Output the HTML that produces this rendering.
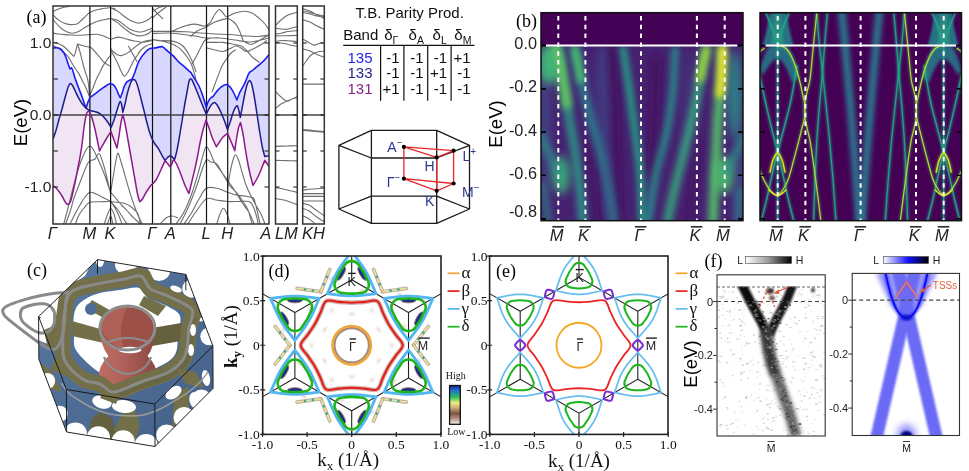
<!DOCTYPE html>
<html><head><meta charset="utf-8"><title>Figure</title><style>html,body{margin:0;padding:0;background:#fff;width:969px;height:471px;overflow:hidden}svg{display:block}</style></head>
<body>
<svg width="969" height="471" viewBox="0 0 969 471">
<rect width="969" height="471" fill="#fff"/>
<defs><clipPath id="cpa"><rect x="53" y="6" width="216" height="218"/></clipPath><clipPath id="cplm"><rect x="275.5" y="6" width="21.8" height="218"/></clipPath><clipPath id="cpkh"><rect x="302.7" y="6" width="21.6" height="218"/></clipPath></defs>
<g clip-path="url(#cpa)">
<path d="M53,48 L53.32,48 L53.73,47.97 L54.21,47.93 L54.76,47.88 L55.35,47.84 L55.97,47.8 L56.6,47.78 L57.24,47.79 L57.86,47.82 L58.46,47.9 L59.01,48.02 L59.5,48.2 L59.95,48.44 L60.39,48.72 L60.81,49.05 L61.22,49.41 L61.62,49.81 L62,50.24 L62.37,50.68 L62.72,51.14 L63.06,51.61 L63.39,52.08 L63.7,52.54 L64,53 L64.28,53.45 L64.53,53.92 L64.77,54.39 L64.99,54.87 L65.19,55.36 L65.38,55.86 L65.57,56.37 L65.75,56.88 L65.93,57.4 L66.11,57.93 L66.3,58.46 L66.5,59 L66.71,59.56 L66.92,60.16 L67.14,60.78 L67.35,61.41 L67.57,62.06 L67.78,62.7 L67.99,63.33 L68.19,63.94 L68.39,64.52 L68.57,65.06 L68.74,65.56 L68.9,66 L69.04,66.39 L69.17,66.75 L69.29,67.08 L69.39,67.39 L69.49,67.66 L69.58,67.9 L69.67,68.12 L69.75,68.3 L69.84,68.47 L69.92,68.6 L70.01,68.71 L70.1,68.8 L70.19,68.84 L70.29,68.82 L70.37,68.74 L70.46,68.63 L70.55,68.49 L70.64,68.34 L70.73,68.18 L70.81,68.04 L70.91,67.91 L71,67.83 L71.1,67.78 L71.2,67.8 L71.3,67.85 L71.41,67.92 L71.51,67.99 L71.61,68.09 L71.72,68.21 L71.83,68.35 L71.94,68.52 L72.06,68.73 L72.18,68.98 L72.31,69.27 L72.45,69.61 L72.6,70 L72.76,70.45 L72.92,70.95 L73.08,71.51 L73.25,72.11 L73.43,72.76 L73.61,73.43 L73.8,74.13 L74,74.85 L74.21,75.59 L74.43,76.33 L74.66,77.07 L74.9,77.8 L75.15,78.54 L75.42,79.3 L75.7,80.08 L76,80.88 L76.3,81.69 L76.61,82.51 L76.92,83.34 L77.24,84.17 L77.56,85.01 L77.87,85.84 L78.19,86.68 L78.5,87.5 L78.81,88.32 L79.12,89.14 L79.44,89.96 L79.76,90.78 L80.07,91.6 L80.39,92.43 L80.71,93.26 L81.03,94.1 L81.35,94.94 L81.67,95.78 L81.99,96.64 L82.3,97.5 L82.62,98.41 L82.97,99.38 L83.32,100.4 L83.68,101.44 L84.04,102.49 L84.39,103.53 L84.73,104.53 L85.04,105.47 L85.34,106.34 L85.6,107.12 L85.82,107.78 L86,108.3 L86,108.3 L86.1,107.99 L86.22,107.59 L86.36,107.12 L86.52,106.59 L86.7,106.01 L86.88,105.41 L87.07,104.79 L87.27,104.17 L87.46,103.57 L87.65,103 L87.83,102.47 L88,102 L88.16,101.58 L88.31,101.17 L88.45,100.79 L88.6,100.41 L88.74,100.06 L88.88,99.72 L89.03,99.39 L89.18,99.07 L89.34,98.77 L89.52,98.47 L89.7,98.18 L89.9,97.9 L90.11,97.64 L90.32,97.4 L90.53,97.18 L90.75,96.98 L90.98,96.79 L91.22,96.6 L91.47,96.41 L91.74,96.22 L92.02,96.02 L92.32,95.8 L92.65,95.56 L93,95.3 L93.38,95.01 L93.79,94.7 L94.23,94.38 L94.69,94.04 L95.17,93.69 L95.66,93.34 L96.15,92.98 L96.66,92.61 L97.16,92.25 L97.65,91.89 L98.13,91.54 L98.6,91.2 L99.06,90.86 L99.52,90.52 L99.97,90.17 L100.43,89.83 L100.88,89.49 L101.34,89.14 L101.79,88.8 L102.24,88.47 L102.68,88.14 L103.13,87.82 L103.56,87.51 L104,87.2 L104.44,86.9 L104.88,86.58 L105.32,86.27 L105.77,85.96 L106.21,85.65 L106.65,85.35 L107.08,85.07 L107.5,84.8 L107.9,84.56 L108.29,84.34 L108.65,84.15 L109,84 L109.32,83.88 L109.62,83.79 L109.9,83.73 L110.17,83.69 L110.42,83.67 L110.66,83.67 L110.89,83.7 L111.11,83.73 L111.33,83.78 L111.55,83.85 L111.77,83.92 L112,84 L112.23,84.09 L112.45,84.19 L112.66,84.31 L112.88,84.44 L113.09,84.59 L113.29,84.75 L113.5,84.92 L113.7,85.11 L113.9,85.31 L114.1,85.53 L114.3,85.76 L114.5,86 L114.7,86.26 L114.9,86.54 L115.1,86.84 L115.29,87.15 L115.49,87.47 L115.68,87.81 L115.87,88.16 L116.06,88.52 L116.25,88.88 L116.44,89.25 L116.62,89.63 L116.8,90 L116.98,90.39 L117.16,90.8 L117.33,91.23 L117.51,91.67 L117.68,92.12 L117.85,92.58 L118.02,93.02 L118.18,93.46 L118.34,93.88 L118.5,94.28 L118.65,94.66 L118.8,95 L118.95,95.32 L119.1,95.63 L119.25,95.92 L119.39,96.2 L119.54,96.46 L119.67,96.71 L119.81,96.94 L119.93,97.16 L120.04,97.35 L120.14,97.52 L120.23,97.67 L120.3,97.8 L120.3,97.8 L120.38,97.6 L120.48,97.36 L120.59,97.09 L120.72,96.79 L120.86,96.45 L121.01,96.09 L121.17,95.7 L121.33,95.29 L121.5,94.87 L121.67,94.42 L121.84,93.97 L122,93.5 L122.16,93 L122.33,92.47 L122.5,91.89 L122.67,91.29 L122.85,90.67 L123.03,90.04 L123.21,89.4 L123.4,88.78 L123.59,88.17 L123.79,87.58 L123.99,87.02 L124.2,86.5 L124.42,86.01 L124.64,85.52 L124.88,85.05 L125.11,84.59 L125.36,84.14 L125.61,83.71 L125.86,83.3 L126.11,82.91 L126.36,82.54 L126.61,82.2 L126.86,81.89 L127.1,81.6 L127.34,81.35 L127.59,81.14 L127.84,80.96 L128.09,80.81 L128.34,80.68 L128.59,80.57 L128.84,80.48 L129.09,80.39 L129.32,80.3 L129.56,80.21 L129.78,80.11 L130,80 L130.21,79.9 L130.4,79.83 L130.59,79.78 L130.76,79.74 L130.94,79.71 L131.11,79.67 L131.28,79.61 L131.45,79.52 L131.62,79.4 L131.81,79.23 L132,79 L132.2,78.7 L132.41,78.34 L132.62,77.95 L132.83,77.51 L133.04,77.03 L133.26,76.51 L133.49,75.96 L133.72,75.37 L133.96,74.75 L134.2,74.1 L134.46,73.43 L134.72,72.73 L135,72 L135.28,71.23 L135.57,70.39 L135.87,69.49 L136.17,68.56 L136.48,67.59 L136.8,66.61 L137.13,65.62 L137.47,64.64 L137.83,63.68 L138.2,62.74 L138.59,61.84 L139,61 L139.43,60.19 L139.9,59.39 L140.38,58.59 L140.89,57.81 L141.41,57.05 L141.94,56.31 L142.47,55.59 L143,54.9 L143.52,54.24 L144.03,53.62 L144.53,53.04 L145,52.5 L145.45,52 L145.89,51.55 L146.32,51.12 L146.74,50.74 L147.15,50.38 L147.56,50.06 L147.97,49.76 L148.37,49.49 L148.77,49.24 L149.18,49.01 L149.59,48.79 L150,48.6 L150.41,48.44 L150.81,48.32 L151.21,48.24 L151.6,48.19 L152,48.16 L152.39,48.14 L152.8,48.14 L153.21,48.14 L153.63,48.13 L154.07,48.11 L154.52,48.07 L155,48 L155.51,47.9 L156.06,47.77 L156.64,47.62 L157.23,47.46 L157.84,47.29 L158.46,47.12 L159.06,46.97 L159.66,46.83 L160.22,46.72 L160.76,46.63 L161.26,46.59 L161.7,46.6 L162.09,46.65 L162.42,46.73 L162.72,46.84 L162.98,46.98 L163.22,47.14 L163.44,47.33 L163.66,47.53 L163.89,47.76 L164.12,48 L164.38,48.25 L164.67,48.52 L165,48.8 L165.37,49.1 L165.77,49.44 L166.2,49.81 L166.64,50.21 L167.1,50.62 L167.57,51.04 L168.04,51.46 L168.5,51.88 L168.95,52.29 L169.39,52.69 L169.81,53.06 L170.2,53.4 L170.56,53.71 L170.9,53.99 L171.23,54.25 L171.54,54.49 L171.84,54.72 L172.13,54.95 L172.42,55.18 L172.72,55.42 L173.02,55.68 L173.33,55.96 L173.66,56.26 L174,56.6 L174.36,56.98 L174.72,57.38 L175.1,57.82 L175.48,58.27 L175.86,58.74 L176.26,59.22 L176.65,59.71 L177.06,60.19 L177.46,60.67 L177.87,61.13 L178.28,61.58 L178.7,62 L179.12,62.4 L179.56,62.79 L180,63.18 L180.45,63.55 L180.91,63.91 L181.36,64.28 L181.82,64.63 L182.27,64.99 L182.72,65.34 L183.16,65.69 L183.58,66.04 L184,66.4 L184.41,66.77 L184.83,67.15 L185.25,67.53 L185.66,67.93 L186.07,68.32 L186.47,68.7 L186.86,69.07 L187.24,69.43 L187.59,69.77 L187.92,70.08 L188.23,70.36 L188.5,70.6 L188.74,70.8 L188.95,70.97 L189.13,71.11 L189.29,71.21 L189.43,71.3 L189.56,71.37 L189.67,71.44 L189.77,71.5 L189.88,71.56 L189.98,71.62 L190.08,71.7 L190.2,71.8 L190.32,71.91 L190.42,72.01 L190.53,72.1 L190.62,72.2 L190.72,72.3 L190.81,72.4 L190.9,72.51 L190.99,72.62 L191.08,72.75 L191.18,72.88 L191.29,73.03 L191.4,73.2 L191.51,73.36 L191.6,73.51 L191.68,73.64 L191.75,73.78 L191.83,73.93 L191.92,74.09 L192.02,74.29 L192.15,74.52 L192.3,74.8 L192.49,75.13 L192.72,75.53 L193,76 L193.34,76.56 L193.73,77.2 L194.18,77.9 L194.67,78.67 L195.18,79.48 L195.71,80.33 L196.25,81.2 L196.79,82.09 L197.31,82.97 L197.81,83.84 L198.28,84.69 L198.7,85.5 L199.08,86.28 L199.44,87.05 L199.78,87.8 L200.11,88.56 L200.42,89.31 L200.72,90.06 L201.01,90.83 L201.3,91.61 L201.59,92.41 L201.89,93.24 L202.19,94.1 L202.5,95 L202.83,95.98 L203.18,97.05 L203.54,98.21 L203.91,99.41 L204.28,100.63 L204.64,101.84 L204.99,103.03 L205.31,104.15 L205.62,105.18 L205.89,106.11 L206.12,106.89 L206.3,107.5 L206.3,107.5 L206.4,107.18 L206.53,106.76 L206.68,106.26 L206.85,105.7 L207.04,105.1 L207.23,104.46 L207.44,103.82 L207.65,103.18 L207.86,102.56 L208.08,101.98 L208.29,101.45 L208.5,101 L208.71,100.6 L208.93,100.22 L209.17,99.87 L209.4,99.54 L209.65,99.23 L209.89,98.94 L210.13,98.68 L210.36,98.43 L210.59,98.19 L210.81,97.98 L211.01,97.78 L211.2,97.6 L211.37,97.45 L211.53,97.33 L211.67,97.25 L211.81,97.2 L211.94,97.16 L212.06,97.13 L212.18,97.11 L212.3,97.08 L212.42,97.04 L212.54,96.99 L212.67,96.91 L212.8,96.8 L212.93,96.67 L213.06,96.52 L213.19,96.37 L213.31,96.2 L213.44,96.03 L213.57,95.84 L213.7,95.65 L213.84,95.44 L213.99,95.22 L214.15,94.99 L214.32,94.75 L214.5,94.5 L214.69,94.23 L214.89,93.95 L215.1,93.65 L215.31,93.33 L215.54,93.01 L215.77,92.68 L216.01,92.33 L216.26,91.99 L216.53,91.64 L216.8,91.29 L217.09,90.94 L217.4,90.6 L217.72,90.25 L218.07,89.88 L218.43,89.49 L218.8,89.1 L219.19,88.71 L219.59,88.31 L219.99,87.93 L220.4,87.56 L220.8,87.2 L221.21,86.87 L221.61,86.57 L222,86.3 L222.39,86.05 L222.79,85.81 L223.19,85.58 L223.59,85.37 L224,85.17 L224.4,85 L224.8,84.85 L225.2,84.73 L225.59,84.64 L225.97,84.59 L226.34,84.57 L226.7,84.6 L227.05,84.67 L227.39,84.79 L227.72,84.94 L228.05,85.13 L228.37,85.35 L228.69,85.6 L229,85.87 L229.3,86.17 L229.61,86.48 L229.91,86.81 L230.2,87.15 L230.5,87.5 L230.79,87.86 L231.08,88.25 L231.36,88.66 L231.64,89.09 L231.92,89.54 L232.19,90 L232.46,90.48 L232.73,90.97 L233,91.47 L233.27,91.97 L233.53,92.48 L233.8,93 L234.08,93.55 L234.36,94.15 L234.66,94.79 L234.96,95.45 L235.26,96.13 L235.56,96.79 L235.84,97.44 L236.1,98.06 L236.35,98.63 L236.57,99.13 L236.75,99.56 L236.9,99.9 L236.9,99.9 L237.05,99.52 L237.22,99.04 L237.42,98.49 L237.65,97.86 L237.9,97.18 L238.17,96.46 L238.45,95.71 L238.75,94.95 L239.05,94.18 L239.37,93.43 L239.68,92.69 L240,92 L240.33,91.33 L240.68,90.66 L241.04,90 L241.42,89.33 L241.81,88.66 L242.21,87.99 L242.6,87.31 L243,86.63 L243.39,85.93 L243.77,85.23 L244.15,84.52 L244.5,83.8 L244.85,83.04 L245.19,82.24 L245.54,81.4 L245.89,80.54 L246.22,79.68 L246.56,78.82 L246.88,77.98 L247.19,77.17 L247.49,76.4 L247.78,75.69 L248.05,75.05 L248.3,74.5 L248.53,74.03 L248.74,73.62 L248.93,73.28 L249.11,72.98 L249.28,72.73 L249.43,72.52 L249.58,72.34 L249.72,72.17 L249.86,72.03 L250,71.89 L250.15,71.75 L250.3,71.6 L250.45,71.47 L250.59,71.36 L250.72,71.29 L250.84,71.24 L250.96,71.2 L251.09,71.17 L251.21,71.15 L251.35,71.11 L251.49,71.07 L251.64,71.01 L251.81,70.92 L252,70.8 L252.2,70.66 L252.4,70.5 L252.62,70.33 L252.84,70.14 L253.07,69.95 L253.31,69.74 L253.56,69.53 L253.82,69.3 L254.09,69.06 L254.38,68.82 L254.68,68.56 L255,68.3 L255.34,68.02 L255.7,67.73 L256.09,67.42 L256.49,67.1 L256.9,66.77 L257.33,66.44 L257.75,66.1 L258.18,65.75 L258.6,65.41 L259.01,65.07 L259.42,64.73 L259.8,64.4 L260.17,64.08 L260.53,63.77 L260.87,63.47 L261.21,63.18 L261.55,62.88 L261.89,62.58 L262.22,62.27 L262.56,61.96 L262.91,61.62 L263.26,61.27 L263.62,60.9 L264,60.5 L264.4,60.05 L264.84,59.55 L265.31,59.01 L265.79,58.43 L266.28,57.85 L266.76,57.26 L267.23,56.68 L267.67,56.13 L268.08,55.63 L268.45,55.18 L268.76,54.8 L269,54.5 L269,155.7 L268.78,155.74 L268.49,155.8 L268.15,155.86 L267.76,155.94 L267.34,156.02 L266.9,156.1 L266.46,156.18 L266.04,156.26 L265.65,156.34 L265.31,156.4 L265.02,156.46 L264.8,156.5 L264.8,156.5 L264.69,156.11 L264.55,155.66 L264.4,155.14 L264.22,154.56 L264.02,153.92 L263.82,153.22 L263.6,152.47 L263.38,151.67 L263.16,150.82 L262.93,149.92 L262.71,148.98 L262.5,148 L262.29,146.96 L262.07,145.86 L261.86,144.69 L261.63,143.46 L261.41,142.19 L261.18,140.88 L260.95,139.53 L260.72,138.15 L260.49,136.75 L260.26,135.34 L260.03,133.92 L259.8,132.5 L259.57,131.06 L259.34,129.6 L259.11,128.1 L258.88,126.57 L258.65,125.03 L258.42,123.47 L258.19,121.9 L257.95,120.31 L257.72,118.73 L257.48,117.15 L257.24,115.57 L257,114 L256.76,112.41 L256.51,110.78 L256.25,109.11 L256,107.43 L255.74,105.74 L255.48,104.06 L255.22,102.41 L254.97,100.8 L254.72,99.23 L254.47,97.74 L254.23,96.32 L254,95 L253.77,93.75 L253.55,92.55 L253.33,91.4 L253.11,90.3 L252.89,89.25 L252.68,88.26 L252.47,87.32 L252.27,86.43 L252.07,85.61 L251.88,84.84 L251.69,84.14 L251.5,83.5 L251.32,82.93 L251.15,82.43 L250.99,81.99 L250.83,81.61 L250.68,81.3 L250.52,81.04 L250.38,80.83 L250.23,80.66 L250.07,80.54 L249.92,80.46 L249.76,80.41 L249.6,80.4 L249.43,80.42 L249.27,80.48 L249.1,80.59 L248.93,80.74 L248.76,80.93 L248.59,81.16 L248.41,81.44 L248.24,81.76 L248.06,82.13 L247.88,82.54 L247.69,83 L247.5,83.5 L247.31,84.06 L247.11,84.67 L246.9,85.34 L246.7,86.06 L246.49,86.83 L246.28,87.63 L246.06,88.47 L245.85,89.34 L245.63,90.23 L245.42,91.14 L245.21,92.07 L245,93 L244.79,93.97 L244.58,94.98 L244.37,96.04 L244.16,97.13 L243.94,98.24 L243.73,99.38 L243.52,100.51 L243.31,101.65 L243.1,102.77 L242.9,103.88 L242.7,104.96 L242.5,106 L242.3,107.05 L242.09,108.14 L241.88,109.25 L241.66,110.37 L241.45,111.48 L241.24,112.56 L241.05,113.6 L240.86,114.57 L240.69,115.47 L240.54,116.27 L240.41,116.95 L240.3,117.5 L240.3,117.5 L240.22,117.13 L240.13,116.65 L240.02,116.08 L239.89,115.43 L239.76,114.74 L239.61,114.01 L239.46,113.27 L239.31,112.53 L239.15,111.82 L239,111.15 L238.85,110.53 L238.7,110 L238.56,109.5 L238.43,108.99 L238.3,108.49 L238.17,107.99 L238.05,107.51 L237.91,107.07 L237.77,106.68 L237.63,106.34 L237.47,106.08 L237.29,105.89 L237.11,105.79 L236.9,105.8 L236.67,105.92 L236.42,106.13 L236.15,106.44 L235.87,106.83 L235.58,107.28 L235.28,107.79 L234.97,108.35 L234.66,108.95 L234.36,109.58 L234.06,110.22 L233.77,110.86 L233.5,111.5 L233.24,112.16 L232.98,112.87 L232.72,113.63 L232.47,114.42 L232.22,115.23 L231.97,116.07 L231.73,116.91 L231.49,117.76 L231.24,118.6 L231,119.42 L230.75,120.23 L230.5,121 L230.24,121.78 L229.97,122.58 L229.68,123.41 L229.39,124.25 L229.1,125.08 L228.81,125.89 L228.54,126.67 L228.28,127.4 L228.04,128.08 L227.83,128.67 L227.64,129.19 L227.5,129.6 L227.5,129.6 L227.36,129.18 L227.18,128.66 L226.97,128.05 L226.74,127.37 L226.49,126.62 L226.22,125.83 L225.94,125.01 L225.65,124.18 L225.36,123.34 L225.06,122.53 L224.78,121.74 L224.5,121 L224.22,120.28 L223.94,119.55 L223.65,118.82 L223.36,118.09 L223.06,117.35 L222.76,116.62 L222.46,115.89 L222.16,115.18 L221.87,114.48 L221.57,113.8 L221.28,113.14 L221,112.5 L220.72,111.88 L220.45,111.27 L220.17,110.66 L219.9,110.07 L219.64,109.5 L219.37,108.94 L219.1,108.39 L218.84,107.87 L218.58,107.37 L218.32,106.89 L218.06,106.43 L217.8,106 L217.54,105.59 L217.29,105.18 L217.04,104.79 L216.79,104.42 L216.54,104.07 L216.29,103.74 L216.04,103.44 L215.79,103.17 L215.55,102.94 L215.3,102.75 L215.05,102.6 L214.8,102.5 L214.55,102.45 L214.3,102.45 L214.05,102.49 L213.79,102.58 L213.54,102.7 L213.29,102.85 L213.04,103.03 L212.79,103.23 L212.54,103.46 L212.29,103.69 L212.04,103.94 L211.8,104.2 L211.56,104.47 L211.32,104.78 L211.08,105.1 L210.85,105.45 L210.61,105.82 L210.38,106.21 L210.15,106.61 L209.92,107.01 L209.69,107.43 L209.46,107.85 L209.23,108.28 L209,108.7 L208.76,109.15 L208.51,109.63 L208.25,110.15 L207.99,110.69 L207.73,111.24 L207.48,111.78 L207.23,112.31 L207,112.81 L206.78,113.27 L206.59,113.68 L206.43,114.03 L206.3,114.3 L206.3,114.3 L206.09,113.8 L205.83,113.18 L205.52,112.44 L205.17,111.62 L204.8,110.72 L204.4,109.78 L203.99,108.79 L203.57,107.79 L203.15,106.8 L202.75,105.82 L202.36,104.88 L202,104 L201.65,103.15 L201.31,102.3 L200.97,101.44 L200.63,100.59 L200.29,99.74 L199.95,98.89 L199.62,98.05 L199.29,97.21 L198.96,96.39 L198.63,95.58 L198.31,94.78 L198,94 L197.69,93.23 L197.38,92.46 L197.07,91.7 L196.76,90.94 L196.46,90.2 L196.16,89.47 L195.86,88.75 L195.57,88.06 L195.29,87.38 L195.02,86.73 L194.76,86.1 L194.5,85.5 L194.25,84.92 L194.02,84.36 L193.79,83.81 L193.57,83.28 L193.35,82.77 L193.14,82.29 L192.94,81.83 L192.74,81.4 L192.55,81 L192.36,80.63 L192.18,80.29 L192,80 L191.82,79.74 L191.65,79.52 L191.49,79.33 L191.33,79.17 L191.17,79.04 L191.02,78.94 L190.87,78.87 L190.73,78.83 L190.59,78.81 L190.46,78.82 L190.33,78.85 L190.2,78.9 L190.08,78.97 L189.97,79.05 L189.87,79.15 L189.77,79.27 L189.68,79.42 L189.59,79.6 L189.5,79.81 L189.41,80.06 L189.31,80.35 L189.22,80.68 L189.11,81.06 L189,81.5 L188.88,81.98 L188.77,82.51 L188.65,83.08 L188.53,83.69 L188.41,84.34 L188.29,85.04 L188.16,85.77 L188.02,86.54 L187.88,87.35 L187.73,88.2 L187.57,89.08 L187.4,90 L187.22,90.97 L187.02,91.99 L186.82,93.07 L186.61,94.19 L186.39,95.34 L186.16,96.53 L185.93,97.75 L185.7,98.98 L185.47,100.23 L185.24,101.49 L185.02,102.75 L184.8,104 L184.58,105.28 L184.36,106.6 L184.13,107.96 L183.91,109.35 L183.68,110.75 L183.46,112.16 L183.23,113.55 L183.01,114.93 L182.8,116.27 L182.59,117.57 L182.39,118.82 L182.2,120 L182.02,121.12 L181.84,122.18 L181.68,123.19 L181.51,124.17 L181.36,125.12 L181.21,126.04 L181.06,126.94 L180.91,127.84 L180.76,128.74 L180.61,129.64 L180.46,130.56 L180.3,131.5 L180.14,132.46 L179.98,133.43 L179.83,134.4 L179.67,135.37 L179.51,136.35 L179.35,137.32 L179.19,138.28 L179.03,139.24 L178.88,140.18 L178.72,141.11 L178.56,142.01 L178.4,142.9 L178.24,143.77 L178.08,144.64 L177.93,145.49 L177.77,146.33 L177.61,147.16 L177.45,147.98 L177.29,148.78 L177.13,149.57 L176.97,150.33 L176.82,151.08 L176.66,151.8 L176.5,152.5 L176.34,153.19 L176.16,153.89 L175.98,154.58 L175.8,155.26 L175.61,155.92 L175.43,156.55 L175.26,157.15 L175.09,157.71 L174.94,158.22 L174.81,158.68 L174.69,159.08 L174.6,159.4 L174.6,159.4 L174.5,159.29 L174.37,159.15 L174.23,158.99 L174.06,158.8 L173.88,158.6 L173.69,158.39 L173.5,158.18 L173.29,157.96 L173.09,157.75 L172.89,157.55 L172.69,157.37 L172.5,157.2 L172.32,157.04 L172.13,156.87 L171.95,156.7 L171.76,156.53 L171.58,156.36 L171.39,156.2 L171.2,156.06 L171,155.93 L170.81,155.83 L170.61,155.75 L170.41,155.71 L170.2,155.7 L169.99,155.73 L169.77,155.8 L169.55,155.89 L169.32,156.01 L169.09,156.16 L168.86,156.32 L168.63,156.5 L168.4,156.69 L168.17,156.89 L167.94,157.09 L167.72,157.3 L167.5,157.5 L167.28,157.72 L167.04,157.97 L166.8,158.24 L166.56,158.52 L166.32,158.82 L166.08,159.11 L165.85,159.4 L165.64,159.68 L165.44,159.93 L165.27,160.16 L165.12,160.35 L165,160.5 L165,160.5 L164.83,160.21 L164.61,159.85 L164.36,159.42 L164.08,158.94 L163.77,158.42 L163.44,157.87 L163.11,157.3 L162.77,156.71 L162.43,156.13 L162.1,155.56 L161.79,155.02 L161.5,154.5 L161.23,154 L160.96,153.5 L160.7,152.99 L160.45,152.48 L160.2,151.97 L159.94,151.46 L159.69,150.96 L159.44,150.47 L159.19,149.98 L158.93,149.51 L158.67,149.05 L158.4,148.6 L158.13,148.18 L157.85,147.77 L157.57,147.39 L157.29,147.02 L157,146.66 L156.71,146.31 L156.42,145.95 L156.14,145.59 L155.85,145.22 L155.56,144.83 L155.28,144.43 L155,144 L154.72,143.55 L154.43,143.09 L154.15,142.62 L153.86,142.14 L153.58,141.65 L153.29,141.15 L153.01,140.64 L152.74,140.13 L152.47,139.6 L152.2,139.07 L151.95,138.54 L151.7,138 L151.46,137.46 L151.24,136.92 L151.02,136.37 L150.81,135.82 L150.6,135.27 L150.4,134.7 L150.2,134.12 L150,133.53 L149.81,132.93 L149.61,132.31 L149.41,131.66 L149.2,131 L148.99,130.32 L148.78,129.61 L148.58,128.89 L148.37,128.16 L148.16,127.4 L147.96,126.64 L147.75,125.86 L147.54,125.07 L147.33,124.26 L147.12,123.45 L146.91,122.63 L146.7,121.8 L146.49,120.96 L146.27,120.09 L146.06,119.22 L145.85,118.33 L145.63,117.42 L145.42,116.51 L145.2,115.6 L144.99,114.67 L144.77,113.75 L144.55,112.83 L144.32,111.91 L144.1,111 L143.87,110.09 L143.64,109.18 L143.41,108.26 L143.18,107.35 L142.95,106.43 L142.71,105.51 L142.48,104.59 L142.24,103.67 L142,102.75 L141.77,101.84 L141.53,100.92 L141.3,100 L141.07,99.07 L140.83,98.13 L140.59,97.17 L140.36,96.2 L140.12,95.24 L139.88,94.28 L139.65,93.34 L139.41,92.41 L139.18,91.5 L138.95,90.63 L138.72,89.79 L138.5,89 L138.28,88.23 L138.06,87.48 L137.84,86.75 L137.63,86.04 L137.42,85.35 L137.21,84.69 L137,84.06 L136.79,83.46 L136.59,82.91 L136.39,82.39 L136.19,81.92 L136,81.5 L135.81,81.13 L135.62,80.82 L135.44,80.55 L135.26,80.32 L135.09,80.13 L134.91,79.98 L134.74,79.86 L134.57,79.76 L134.4,79.67 L134.23,79.61 L134.07,79.55 L133.9,79.5 L133.73,79.46 L133.57,79.43 L133.41,79.42 L133.26,79.43 L133.1,79.46 L132.94,79.51 L132.79,79.58 L132.63,79.68 L132.48,79.8 L132.32,79.94 L132.16,80.11 L132,80.3 L131.84,80.51 L131.68,80.74 L131.53,80.99 L131.37,81.25 L131.21,81.54 L131.06,81.86 L130.9,82.2 L130.73,82.58 L130.56,83 L130.38,83.45 L130.19,83.95 L130,84.5 L129.79,85.1 L129.57,85.77 L129.34,86.49 L129.1,87.26 L128.86,88.06 L128.61,88.89 L128.36,89.74 L128.12,90.6 L127.88,91.47 L127.64,92.33 L127.41,93.17 L127.2,94 L127,94.82 L126.8,95.66 L126.61,96.5 L126.42,97.36 L126.24,98.22 L126.06,99.08 L125.89,99.93 L125.71,100.77 L125.54,101.61 L125.36,102.43 L125.18,103.22 L125,104 L124.81,104.78 L124.61,105.58 L124.4,106.39 L124.19,107.2 L123.97,108 L123.76,108.77 L123.56,109.52 L123.37,110.21 L123.2,110.85 L123.04,111.42 L122.91,111.9 L122.8,112.3 L122.8,112.3 L122.74,111.91 L122.67,111.39 L122.59,110.78 L122.49,110.1 L122.39,109.35 L122.28,108.58 L122.17,107.8 L122.05,107.03 L121.94,106.29 L121.82,105.61 L121.71,105 L121.6,104.5 L121.5,104.07 L121.39,103.67 L121.28,103.31 L121.17,102.97 L121.07,102.68 L120.96,102.41 L120.85,102.18 L120.74,101.99 L120.63,101.84 L120.52,101.72 L120.41,101.64 L120.3,101.6 L120.19,101.6 L120.09,101.64 L120,101.72 L119.9,101.84 L119.8,101.99 L119.71,102.18 L119.61,102.41 L119.5,102.66 L119.39,102.95 L119.27,103.27 L119.14,103.62 L119,104 L118.85,104.42 L118.69,104.88 L118.53,105.38 L118.36,105.92 L118.18,106.49 L117.99,107.09 L117.8,107.71 L117.61,108.35 L117.41,109 L117.21,109.66 L117.01,110.33 L116.8,111 L116.59,111.68 L116.37,112.4 L116.15,113.14 L115.92,113.91 L115.69,114.68 L115.45,115.47 L115.21,116.26 L114.97,117.04 L114.73,117.81 L114.49,118.56 L114.24,119.3 L114,120 L113.75,120.7 L113.48,121.42 L113.19,122.16 L112.9,122.89 L112.61,123.61 L112.33,124.31 L112.05,124.98 L111.79,125.61 L111.54,126.19 L111.33,126.7 L111.15,127.14 L111,127.5 L111,127.5 L110.86,127.26 L110.68,126.95 L110.47,126.59 L110.24,126.19 L109.98,125.75 L109.71,125.28 L109.43,124.8 L109.14,124.31 L108.85,123.83 L108.56,123.36 L108.27,122.92 L108,122.5 L107.73,122.1 L107.46,121.71 L107.18,121.32 L106.9,120.93 L106.62,120.54 L106.34,120.16 L106.05,119.78 L105.76,119.41 L105.47,119.04 L105.18,118.69 L104.89,118.34 L104.6,118 L104.31,117.67 L104.01,117.34 L103.72,117.02 L103.42,116.71 L103.12,116.4 L102.82,116.11 L102.52,115.82 L102.22,115.53 L101.92,115.26 L101.61,115 L101.31,114.74 L101,114.5 L100.69,114.27 L100.38,114.04 L100.06,113.83 L99.74,113.63 L99.43,113.43 L99.11,113.24 L98.79,113.07 L98.47,112.9 L98.15,112.74 L97.83,112.58 L97.51,112.44 L97.2,112.3 L96.89,112.17 L96.58,112.06 L96.27,111.96 L95.96,111.87 L95.66,111.79 L95.35,111.71 L95.04,111.64 L94.74,111.57 L94.43,111.51 L94.12,111.44 L93.81,111.37 L93.5,111.3 L93.19,111.23 L92.87,111.18 L92.56,111.13 L92.25,111.09 L91.93,111.05 L91.62,111.01 L91.3,110.96 L90.99,110.9 L90.67,110.83 L90.35,110.74 L90.02,110.63 L89.7,110.5 L89.37,110.35 L89.04,110.18 L88.71,110 L88.37,109.8 L88.03,109.59 L87.69,109.37 L87.36,109.13 L87.02,108.89 L86.68,108.63 L86.35,108.36 L86.02,108.09 L85.7,107.8 L85.38,107.5 L85.07,107.2 L84.75,106.88 L84.44,106.56 L84.14,106.22 L83.83,105.87 L83.53,105.51 L83.22,105.13 L82.92,104.75 L82.61,104.35 L82.31,103.93 L82,103.5 L81.69,103.05 L81.38,102.58 L81.07,102.1 L80.75,101.6 L80.44,101.08 L80.12,100.56 L79.81,100.02 L79.5,99.48 L79.2,98.94 L78.89,98.39 L78.59,97.84 L78.3,97.3 L78.01,96.75 L77.72,96.18 L77.43,95.6 L77.14,95.01 L76.86,94.42 L76.57,93.82 L76.3,93.24 L76.03,92.66 L75.76,92.09 L75.5,91.54 L75.25,91.01 L75,90.5 L74.76,90.01 L74.53,89.53 L74.31,89.05 L74.1,88.59 L73.89,88.13 L73.68,87.69 L73.48,87.27 L73.28,86.87 L73.09,86.49 L72.89,86.13 L72.7,85.8 L72.5,85.5 L72.31,85.22 L72.11,84.95 L71.92,84.69 L71.73,84.46 L71.55,84.25 L71.36,84.06 L71.18,83.89 L71,83.76 L70.82,83.66 L70.65,83.6 L70.47,83.58 L70.3,83.6 L70.13,83.65 L69.98,83.73 L69.83,83.83 L69.68,83.97 L69.54,84.13 L69.39,84.34 L69.25,84.58 L69.1,84.87 L68.94,85.2 L68.77,85.58 L68.59,86.01 L68.4,86.5 L68.2,87.05 L67.98,87.66 L67.76,88.32 L67.53,89.03 L67.3,89.79 L67.06,90.59 L66.81,91.42 L66.56,92.29 L66.3,93.19 L66.04,94.11 L65.77,95.05 L65.5,96 L65.22,96.99 L64.93,98.05 L64.64,99.16 L64.33,100.31 L64.02,101.49 L63.71,102.69 L63.4,103.89 L63.09,105.07 L62.78,106.24 L62.48,107.38 L62.18,108.47 L61.9,109.5 L61.62,110.48 L61.35,111.42 L61.08,112.34 L60.82,113.22 L60.56,114.09 L60.3,114.94 L60.05,115.78 L59.79,116.61 L59.54,117.45 L59.29,118.28 L59.05,119.13 L58.8,120 L58.56,120.88 L58.32,121.77 L58.08,122.67 L57.85,123.57 L57.62,124.48 L57.39,125.38 L57.17,126.27 L56.94,127.15 L56.71,128.02 L56.47,128.87 L56.24,129.7 L56,130.5 L55.75,131.31 L55.48,132.13 L55.19,132.96 L54.9,133.8 L54.61,134.61 L54.32,135.41 L54.05,136.16 L53.79,136.87 L53.54,137.52 L53.33,138.1 L53.15,138.6 L53,139 Z" fill="#d8d8fe"/>
<path d="M53,139 L53.15,138.6 L53.33,138.1 L53.54,137.52 L53.79,136.87 L54.05,136.16 L54.32,135.41 L54.61,134.61 L54.9,133.8 L55.19,132.96 L55.48,132.13 L55.75,131.31 L56,130.5 L56.24,129.7 L56.47,128.87 L56.71,128.02 L56.94,127.15 L57.17,126.27 L57.39,125.38 L57.62,124.48 L57.85,123.57 L58.08,122.67 L58.32,121.77 L58.56,120.88 L58.8,120 L59.05,119.13 L59.29,118.28 L59.54,117.45 L59.79,116.61 L60.05,115.78 L60.3,114.94 L60.56,114.09 L60.82,113.22 L61.08,112.34 L61.35,111.42 L61.62,110.48 L61.9,109.5 L62.18,108.47 L62.48,107.38 L62.78,106.24 L63.09,105.07 L63.4,103.89 L63.71,102.69 L64.02,101.49 L64.33,100.31 L64.64,99.16 L64.93,98.05 L65.22,96.99 L65.5,96 L65.77,95.05 L66.04,94.11 L66.3,93.19 L66.56,92.29 L66.81,91.42 L67.06,90.59 L67.3,89.79 L67.53,89.03 L67.76,88.32 L67.98,87.66 L68.2,87.05 L68.4,86.5 L68.59,86.01 L68.77,85.58 L68.94,85.2 L69.1,84.87 L69.25,84.58 L69.39,84.34 L69.54,84.13 L69.68,83.97 L69.83,83.83 L69.98,83.73 L70.13,83.65 L70.3,83.6 L70.47,83.58 L70.65,83.6 L70.82,83.66 L71,83.76 L71.18,83.89 L71.36,84.06 L71.55,84.25 L71.73,84.46 L71.92,84.69 L72.11,84.95 L72.31,85.22 L72.5,85.5 L72.7,85.8 L72.89,86.13 L73.09,86.49 L73.28,86.87 L73.48,87.27 L73.68,87.69 L73.89,88.13 L74.1,88.59 L74.31,89.05 L74.53,89.53 L74.76,90.01 L75,90.5 L75.25,91.01 L75.5,91.54 L75.76,92.09 L76.03,92.66 L76.3,93.24 L76.57,93.82 L76.86,94.42 L77.14,95.01 L77.43,95.6 L77.72,96.18 L78.01,96.75 L78.3,97.3 L78.59,97.84 L78.89,98.39 L79.2,98.94 L79.5,99.48 L79.81,100.02 L80.12,100.56 L80.44,101.08 L80.75,101.6 L81.07,102.1 L81.38,102.58 L81.69,103.05 L82,103.5 L82.31,103.93 L82.61,104.35 L82.92,104.75 L83.22,105.13 L83.53,105.51 L83.83,105.87 L84.14,106.22 L84.44,106.56 L84.75,106.88 L85.07,107.2 L85.38,107.5 L85.7,107.8 L86.02,108.09 L86.35,108.36 L86.68,108.63 L87.02,108.89 L87.36,109.13 L87.69,109.37 L88.03,109.59 L88.37,109.8 L88.71,110 L89.04,110.18 L89.37,110.35 L89.7,110.5 L90.02,110.63 L90.35,110.74 L90.67,110.83 L90.99,110.9 L91.3,110.96 L91.62,111.01 L91.93,111.05 L92.25,111.09 L92.56,111.13 L92.87,111.18 L93.19,111.23 L93.5,111.3 L93.81,111.37 L94.12,111.44 L94.43,111.51 L94.74,111.57 L95.04,111.64 L95.35,111.71 L95.66,111.79 L95.96,111.87 L96.27,111.96 L96.58,112.06 L96.89,112.17 L97.2,112.3 L97.51,112.44 L97.83,112.58 L98.15,112.74 L98.47,112.9 L98.79,113.07 L99.11,113.24 L99.43,113.43 L99.74,113.63 L100.06,113.83 L100.38,114.04 L100.69,114.27 L101,114.5 L101.31,114.74 L101.61,115 L101.92,115.26 L102.22,115.53 L102.52,115.82 L102.82,116.11 L103.12,116.4 L103.42,116.71 L103.72,117.02 L104.01,117.34 L104.31,117.67 L104.6,118 L104.89,118.34 L105.18,118.69 L105.47,119.04 L105.76,119.41 L106.05,119.78 L106.34,120.16 L106.62,120.54 L106.9,120.93 L107.18,121.32 L107.46,121.71 L107.73,122.1 L108,122.5 L108.27,122.92 L108.56,123.36 L108.85,123.83 L109.14,124.31 L109.43,124.8 L109.71,125.28 L109.98,125.75 L110.24,126.19 L110.47,126.59 L110.68,126.95 L110.86,127.26 L111,127.5 L111,127.5 L111.15,127.14 L111.33,126.7 L111.54,126.19 L111.79,125.61 L112.05,124.98 L112.33,124.31 L112.61,123.61 L112.9,122.89 L113.19,122.16 L113.48,121.42 L113.75,120.7 L114,120 L114.24,119.3 L114.49,118.56 L114.73,117.81 L114.97,117.04 L115.21,116.26 L115.45,115.47 L115.69,114.68 L115.92,113.91 L116.15,113.14 L116.37,112.4 L116.59,111.68 L116.8,111 L117.01,110.33 L117.21,109.66 L117.41,109 L117.61,108.35 L117.8,107.71 L117.99,107.09 L118.18,106.49 L118.36,105.92 L118.53,105.38 L118.69,104.88 L118.85,104.42 L119,104 L119.14,103.62 L119.27,103.27 L119.39,102.95 L119.5,102.66 L119.61,102.41 L119.71,102.18 L119.8,101.99 L119.9,101.84 L120,101.72 L120.09,101.64 L120.19,101.6 L120.3,101.6 L120.41,101.64 L120.52,101.72 L120.63,101.84 L120.74,101.99 L120.85,102.18 L120.96,102.41 L121.07,102.68 L121.17,102.97 L121.28,103.31 L121.39,103.67 L121.5,104.07 L121.6,104.5 L121.71,105 L121.82,105.61 L121.94,106.29 L122.05,107.03 L122.17,107.8 L122.28,108.58 L122.39,109.35 L122.49,110.1 L122.59,110.78 L122.67,111.39 L122.74,111.91 L122.8,112.3 L122.8,112.3 L122.91,111.9 L123.04,111.42 L123.2,110.85 L123.37,110.21 L123.56,109.52 L123.76,108.77 L123.97,108 L124.19,107.2 L124.4,106.39 L124.61,105.58 L124.81,104.78 L125,104 L125.18,103.22 L125.36,102.43 L125.54,101.61 L125.71,100.77 L125.89,99.93 L126.06,99.08 L126.24,98.22 L126.42,97.36 L126.61,96.5 L126.8,95.66 L127,94.82 L127.2,94 L127.41,93.17 L127.64,92.33 L127.88,91.47 L128.12,90.6 L128.36,89.74 L128.61,88.89 L128.86,88.06 L129.1,87.26 L129.34,86.49 L129.57,85.77 L129.79,85.1 L130,84.5 L130.19,83.95 L130.38,83.45 L130.56,83 L130.73,82.58 L130.9,82.2 L131.06,81.86 L131.21,81.54 L131.37,81.25 L131.53,80.99 L131.68,80.74 L131.84,80.51 L132,80.3 L132.16,80.11 L132.32,79.94 L132.48,79.8 L132.63,79.68 L132.79,79.58 L132.94,79.51 L133.1,79.46 L133.26,79.43 L133.41,79.42 L133.57,79.43 L133.73,79.46 L133.9,79.5 L134.07,79.55 L134.23,79.61 L134.4,79.67 L134.57,79.76 L134.74,79.86 L134.91,79.98 L135.09,80.13 L135.26,80.32 L135.44,80.55 L135.62,80.82 L135.81,81.13 L136,81.5 L136.19,81.92 L136.39,82.39 L136.59,82.91 L136.79,83.46 L137,84.06 L137.21,84.69 L137.42,85.35 L137.63,86.04 L137.84,86.75 L138.06,87.48 L138.28,88.23 L138.5,89 L138.72,89.79 L138.95,90.63 L139.18,91.5 L139.41,92.41 L139.65,93.34 L139.88,94.28 L140.12,95.24 L140.36,96.2 L140.59,97.17 L140.83,98.13 L141.07,99.07 L141.3,100 L141.53,100.92 L141.77,101.84 L142,102.75 L142.24,103.67 L142.48,104.59 L142.71,105.51 L142.95,106.43 L143.18,107.35 L143.41,108.26 L143.64,109.18 L143.87,110.09 L144.1,111 L144.32,111.91 L144.55,112.83 L144.77,113.75 L144.99,114.67 L145.2,115.6 L145.42,116.51 L145.63,117.42 L145.85,118.33 L146.06,119.22 L146.27,120.09 L146.49,120.96 L146.7,121.8 L146.91,122.63 L147.12,123.45 L147.33,124.26 L147.54,125.07 L147.75,125.86 L147.96,126.64 L148.16,127.4 L148.37,128.16 L148.58,128.89 L148.78,129.61 L148.99,130.32 L149.2,131 L149.41,131.66 L149.61,132.31 L149.81,132.93 L150,133.53 L150.2,134.12 L150.4,134.7 L150.6,135.27 L150.81,135.82 L151.02,136.37 L151.24,136.92 L151.46,137.46 L151.7,138 L151.95,138.54 L152.2,139.07 L152.47,139.6 L152.74,140.13 L153.01,140.64 L153.29,141.15 L153.58,141.65 L153.86,142.14 L154.15,142.62 L154.43,143.09 L154.72,143.55 L155,144 L155.28,144.43 L155.56,144.83 L155.85,145.22 L156.14,145.59 L156.42,145.95 L156.71,146.31 L157,146.66 L157.29,147.02 L157.57,147.39 L157.85,147.77 L158.13,148.18 L158.4,148.6 L158.67,149.05 L158.93,149.51 L159.19,149.98 L159.44,150.47 L159.69,150.96 L159.94,151.46 L160.2,151.97 L160.45,152.48 L160.7,152.99 L160.96,153.5 L161.23,154 L161.5,154.5 L161.79,155.02 L162.1,155.56 L162.43,156.13 L162.77,156.71 L163.11,157.3 L163.44,157.87 L163.77,158.42 L164.08,158.94 L164.36,159.42 L164.61,159.85 L164.83,160.21 L165,160.5 L165,160.5 L165.12,160.35 L165.27,160.16 L165.44,159.93 L165.64,159.68 L165.85,159.4 L166.08,159.11 L166.32,158.82 L166.56,158.52 L166.8,158.24 L167.04,157.97 L167.28,157.72 L167.5,157.5 L167.72,157.3 L167.94,157.09 L168.17,156.89 L168.4,156.69 L168.63,156.5 L168.86,156.32 L169.09,156.16 L169.32,156.01 L169.55,155.89 L169.77,155.8 L169.99,155.73 L170.2,155.7 L170.41,155.71 L170.61,155.75 L170.81,155.83 L171,155.93 L171.2,156.06 L171.39,156.2 L171.58,156.36 L171.76,156.53 L171.95,156.7 L172.13,156.87 L172.32,157.04 L172.5,157.2 L172.69,157.37 L172.89,157.55 L173.09,157.75 L173.29,157.96 L173.5,158.18 L173.69,158.39 L173.88,158.6 L174.06,158.8 L174.23,158.99 L174.37,159.15 L174.5,159.29 L174.6,159.4 L174.6,159.4 L174.69,159.08 L174.81,158.68 L174.94,158.22 L175.09,157.71 L175.26,157.15 L175.43,156.55 L175.61,155.92 L175.8,155.26 L175.98,154.58 L176.16,153.89 L176.34,153.19 L176.5,152.5 L176.66,151.8 L176.82,151.08 L176.97,150.33 L177.13,149.57 L177.29,148.78 L177.45,147.98 L177.61,147.16 L177.77,146.33 L177.93,145.49 L178.08,144.64 L178.24,143.77 L178.4,142.9 L178.56,142.01 L178.72,141.11 L178.88,140.18 L179.03,139.24 L179.19,138.28 L179.35,137.32 L179.51,136.35 L179.67,135.37 L179.83,134.4 L179.98,133.43 L180.14,132.46 L180.3,131.5 L180.46,130.56 L180.61,129.64 L180.76,128.74 L180.91,127.84 L181.06,126.94 L181.21,126.04 L181.36,125.12 L181.51,124.17 L181.68,123.19 L181.84,122.18 L182.02,121.12 L182.2,120 L182.39,118.82 L182.59,117.57 L182.8,116.27 L183.01,114.93 L183.23,113.55 L183.46,112.16 L183.68,110.75 L183.91,109.35 L184.13,107.96 L184.36,106.6 L184.58,105.28 L184.8,104 L185.02,102.75 L185.24,101.49 L185.47,100.23 L185.7,98.98 L185.93,97.75 L186.16,96.53 L186.39,95.34 L186.61,94.19 L186.82,93.07 L187.02,91.99 L187.22,90.97 L187.4,90 L187.57,89.08 L187.73,88.2 L187.88,87.35 L188.02,86.54 L188.16,85.77 L188.29,85.04 L188.41,84.34 L188.53,83.69 L188.65,83.08 L188.77,82.51 L188.88,81.98 L189,81.5 L189.11,81.06 L189.22,80.68 L189.31,80.35 L189.41,80.06 L189.5,79.81 L189.59,79.6 L189.68,79.42 L189.77,79.27 L189.87,79.15 L189.97,79.05 L190.08,78.97 L190.2,78.9 L190.33,78.85 L190.46,78.82 L190.59,78.81 L190.73,78.83 L190.87,78.87 L191.02,78.94 L191.17,79.04 L191.33,79.17 L191.49,79.33 L191.65,79.52 L191.82,79.74 L192,80 L192.18,80.29 L192.36,80.63 L192.55,81 L192.74,81.4 L192.94,81.83 L193.14,82.29 L193.35,82.77 L193.57,83.28 L193.79,83.81 L194.02,84.36 L194.25,84.92 L194.5,85.5 L194.76,86.1 L195.02,86.73 L195.29,87.38 L195.57,88.06 L195.86,88.75 L196.16,89.47 L196.46,90.2 L196.76,90.94 L197.07,91.7 L197.38,92.46 L197.69,93.23 L198,94 L198.31,94.78 L198.63,95.58 L198.96,96.39 L199.29,97.21 L199.62,98.05 L199.95,98.89 L200.29,99.74 L200.63,100.59 L200.97,101.44 L201.31,102.3 L201.65,103.15 L202,104 L202.36,104.88 L202.75,105.82 L203.15,106.8 L203.57,107.79 L203.99,108.79 L204.4,109.78 L204.8,110.72 L205.17,111.62 L205.52,112.44 L205.83,113.18 L206.09,113.8 L206.3,114.3 L206.3,114.3 L206.43,114.03 L206.59,113.68 L206.78,113.27 L207,112.81 L207.23,112.31 L207.48,111.78 L207.73,111.24 L207.99,110.69 L208.25,110.15 L208.51,109.63 L208.76,109.15 L209,108.7 L209.23,108.28 L209.46,107.85 L209.69,107.43 L209.92,107.01 L210.15,106.61 L210.38,106.21 L210.61,105.82 L210.85,105.45 L211.08,105.1 L211.32,104.78 L211.56,104.47 L211.8,104.2 L212.04,103.94 L212.29,103.69 L212.54,103.46 L212.79,103.23 L213.04,103.03 L213.29,102.85 L213.54,102.7 L213.79,102.58 L214.05,102.49 L214.3,102.45 L214.55,102.45 L214.8,102.5 L215.05,102.6 L215.3,102.75 L215.55,102.94 L215.79,103.17 L216.04,103.44 L216.29,103.74 L216.54,104.07 L216.79,104.42 L217.04,104.79 L217.29,105.18 L217.54,105.59 L217.8,106 L218.06,106.43 L218.32,106.89 L218.58,107.37 L218.84,107.87 L219.1,108.39 L219.37,108.94 L219.64,109.5 L219.9,110.07 L220.17,110.66 L220.45,111.27 L220.72,111.88 L221,112.5 L221.28,113.14 L221.57,113.8 L221.87,114.48 L222.16,115.18 L222.46,115.89 L222.76,116.62 L223.06,117.35 L223.36,118.09 L223.65,118.82 L223.94,119.55 L224.22,120.28 L224.5,121 L224.78,121.74 L225.06,122.53 L225.36,123.34 L225.65,124.18 L225.94,125.01 L226.22,125.83 L226.49,126.62 L226.74,127.37 L226.97,128.05 L227.18,128.66 L227.36,129.18 L227.5,129.6 L227.5,129.6 L227.64,129.19 L227.83,128.67 L228.04,128.08 L228.28,127.4 L228.54,126.67 L228.81,125.89 L229.1,125.08 L229.39,124.25 L229.68,123.41 L229.97,122.58 L230.24,121.78 L230.5,121 L230.75,120.23 L231,119.42 L231.24,118.6 L231.49,117.76 L231.73,116.91 L231.97,116.07 L232.22,115.23 L232.47,114.42 L232.72,113.63 L232.98,112.87 L233.24,112.16 L233.5,111.5 L233.77,110.86 L234.06,110.22 L234.36,109.58 L234.66,108.95 L234.97,108.35 L235.28,107.79 L235.58,107.28 L235.87,106.83 L236.15,106.44 L236.42,106.13 L236.67,105.92 L236.9,105.8 L237.11,105.79 L237.29,105.89 L237.47,106.08 L237.63,106.34 L237.77,106.68 L237.91,107.07 L238.05,107.51 L238.17,107.99 L238.3,108.49 L238.43,108.99 L238.56,109.5 L238.7,110 L238.85,110.53 L239,111.15 L239.15,111.82 L239.31,112.53 L239.46,113.27 L239.61,114.01 L239.76,114.74 L239.89,115.43 L240.02,116.08 L240.13,116.65 L240.22,117.13 L240.3,117.5 L240.3,117.5 L240.41,116.95 L240.54,116.27 L240.69,115.47 L240.86,114.57 L241.05,113.6 L241.24,112.56 L241.45,111.48 L241.66,110.37 L241.88,109.25 L242.09,108.14 L242.3,107.05 L242.5,106 L242.7,104.96 L242.9,103.88 L243.1,102.77 L243.31,101.65 L243.52,100.51 L243.73,99.38 L243.94,98.24 L244.16,97.13 L244.37,96.04 L244.58,94.98 L244.79,93.97 L245,93 L245.21,92.07 L245.42,91.14 L245.63,90.23 L245.85,89.34 L246.06,88.47 L246.28,87.63 L246.49,86.83 L246.7,86.06 L246.9,85.34 L247.11,84.67 L247.31,84.06 L247.5,83.5 L247.69,83 L247.88,82.54 L248.06,82.13 L248.24,81.76 L248.41,81.44 L248.59,81.16 L248.76,80.93 L248.93,80.74 L249.1,80.59 L249.27,80.48 L249.43,80.42 L249.6,80.4 L249.76,80.41 L249.92,80.46 L250.07,80.54 L250.23,80.66 L250.38,80.83 L250.52,81.04 L250.68,81.3 L250.83,81.61 L250.99,81.99 L251.15,82.43 L251.32,82.93 L251.5,83.5 L251.69,84.14 L251.88,84.84 L252.07,85.61 L252.27,86.43 L252.47,87.32 L252.68,88.26 L252.89,89.25 L253.11,90.3 L253.33,91.4 L253.55,92.55 L253.77,93.75 L254,95 L254.23,96.32 L254.47,97.74 L254.72,99.23 L254.97,100.8 L255.22,102.41 L255.48,104.06 L255.74,105.74 L256,107.43 L256.25,109.11 L256.51,110.78 L256.76,112.41 L257,114 L257.24,115.57 L257.48,117.15 L257.72,118.73 L257.95,120.31 L258.19,121.9 L258.42,123.47 L258.65,125.03 L258.88,126.57 L259.11,128.1 L259.34,129.6 L259.57,131.06 L259.8,132.5 L260.03,133.92 L260.26,135.34 L260.49,136.75 L260.72,138.15 L260.95,139.53 L261.18,140.88 L261.41,142.19 L261.63,143.46 L261.86,144.69 L262.07,145.86 L262.29,146.96 L262.5,148 L262.71,148.98 L262.93,149.92 L263.16,150.82 L263.38,151.67 L263.6,152.47 L263.82,153.22 L264.02,153.92 L264.22,154.56 L264.4,155.14 L264.55,155.66 L264.69,156.11 L264.8,156.5 L264.8,156.5 L265.02,156.46 L265.31,156.4 L265.65,156.34 L266.04,156.26 L266.46,156.18 L266.9,156.1 L267.34,156.02 L267.76,155.94 L268.15,155.86 L268.49,155.8 L268.78,155.74 L269,155.7 L269,166.7 L268.9,166.55 L268.78,166.35 L268.65,166.12 L268.49,165.87 L268.32,165.59 L268.14,165.29 L267.95,164.99 L267.76,164.68 L267.56,164.37 L267.37,164.06 L267.18,163.77 L267,163.5 L266.82,163.23 L266.62,162.94 L266.41,162.65 L266.2,162.34 L265.99,162.04 L265.78,161.75 L265.57,161.47 L265.38,161.2 L265.2,160.95 L265.04,160.74 L264.91,160.55 L264.8,160.4 L264.8,160.4 L264.69,160.66 L264.56,160.99 L264.4,161.36 L264.23,161.78 L264.04,162.24 L263.84,162.73 L263.62,163.25 L263.4,163.79 L263.18,164.34 L262.95,164.89 L262.72,165.45 L262.5,166 L262.28,166.56 L262.05,167.15 L261.81,167.75 L261.57,168.38 L261.32,169.02 L261.07,169.66 L260.82,170.31 L260.56,170.97 L260.3,171.62 L260.04,172.26 L259.77,172.89 L259.5,173.5 L259.22,174.11 L258.94,174.72 L258.65,175.33 L258.36,175.95 L258.06,176.56 L257.76,177.16 L257.46,177.76 L257.16,178.34 L256.86,178.91 L256.57,179.46 L256.28,179.99 L256,180.5 L255.72,181 L255.42,181.49 L255.12,181.99 L254.82,182.47 L254.52,182.94 L254.23,183.39 L253.95,183.81 L253.69,184.21 L253.45,184.57 L253.23,184.89 L253.05,185.17 L252.9,185.4 L252.9,185.4 L252.68,184.51 L252.41,183.38 L252.08,182.06 L251.71,180.58 L251.31,178.97 L250.89,177.26 L250.46,175.5 L250.03,173.71 L249.6,171.93 L249.2,170.2 L248.83,168.54 L248.5,167 L248.2,165.53 L247.91,164.07 L247.64,162.63 L247.38,161.19 L247.13,159.77 L246.88,158.35 L246.64,156.94 L246.41,155.54 L246.18,154.15 L245.95,152.76 L245.73,151.38 L245.5,150 L245.27,148.62 L245.05,147.22 L244.84,145.82 L244.63,144.43 L244.42,143.03 L244.22,141.66 L244.02,140.3 L243.81,138.96 L243.61,137.66 L243.41,136.39 L243.21,135.17 L243,134 L242.78,132.85 L242.55,131.69 L242.32,130.54 L242.07,129.41 L241.83,128.31 L241.59,127.25 L241.36,126.25 L241.15,125.31 L240.95,124.46 L240.77,123.7 L240.62,123.04 L240.5,122.5 L240.5,122.5 L240.4,122.75 L240.28,123.06 L240.13,123.41 L239.97,123.8 L239.79,124.22 L239.61,124.69 L239.41,125.18 L239.22,125.7 L239.03,126.25 L238.84,126.82 L238.66,127.4 L238.5,128 L238.35,128.61 L238.2,129.24 L238.06,129.9 L237.92,130.57 L237.79,131.27 L237.65,131.99 L237.51,132.75 L237.38,133.53 L237.24,134.34 L237.1,135.19 L236.95,136.08 L236.8,137 L236.64,138.02 L236.46,139.16 L236.27,140.4 L236.08,141.7 L235.89,143.03 L235.69,144.36 L235.51,145.66 L235.33,146.9 L235.17,148.05 L235.02,149.07 L234.9,149.93 L234.8,150.6 L234.8,150.6 L234.62,150.16 L234.38,149.6 L234.11,148.94 L233.8,148.2 L233.47,147.4 L233.12,146.56 L232.75,145.68 L232.39,144.8 L232.02,143.92 L231.66,143.06 L231.32,142.25 L231,141.5 L230.69,140.76 L230.36,140 L230.02,139.21 L229.68,138.43 L229.34,137.64 L229.01,136.88 L228.7,136.15 L228.4,135.46 L228.12,134.83 L227.88,134.27 L227.67,133.79 L227.5,133.4 L227.5,133.4 L227.28,133.57 L227,133.78 L226.67,134.01 L226.3,134.28 L225.89,134.57 L225.47,134.89 L225.03,135.22 L224.59,135.56 L224.16,135.92 L223.74,136.28 L223.35,136.64 L223,137 L222.67,137.37 L222.36,137.75 L222.05,138.16 L221.75,138.57 L221.46,138.99 L221.17,139.43 L220.89,139.86 L220.61,140.3 L220.33,140.73 L220.05,141.16 L219.78,141.59 L219.5,142 L219.21,142.42 L218.91,142.87 L218.6,143.33 L218.29,143.79 L217.98,144.26 L217.68,144.71 L217.39,145.15 L217.12,145.56 L216.87,145.94 L216.64,146.28 L216.45,146.57 L216.3,146.8 L216.3,146.8 L216.09,146.33 L215.82,145.73 L215.5,145.03 L215.14,144.25 L214.76,143.4 L214.35,142.49 L213.93,141.56 L213.51,140.61 L213.1,139.66 L212.7,138.73 L212.33,137.84 L212,137 L211.69,136.19 L211.4,135.38 L211.11,134.56 L210.83,133.74 L210.56,132.92 L210.3,132.11 L210.04,131.3 L209.79,130.51 L209.54,129.73 L209.29,128.96 L209.05,128.22 L208.8,127.5 L208.55,126.78 L208.29,126.05 L208.03,125.31 L207.76,124.57 L207.5,123.85 L207.25,123.16 L207.01,122.49 L206.78,121.87 L206.57,121.3 L206.39,120.79 L206.23,120.36 L206.1,120 L206.1,120 L205.95,120.47 L205.76,121.05 L205.54,121.73 L205.29,122.48 L205.02,123.31 L204.74,124.19 L204.44,125.11 L204.14,126.07 L203.84,127.05 L203.55,128.04 L203.26,129.03 L203,130 L202.74,130.98 L202.49,131.99 L202.23,133.03 L201.97,134.09 L201.72,135.18 L201.46,136.28 L201.21,137.4 L200.96,138.52 L200.71,139.64 L200.47,140.77 L200.23,141.89 L200,143 L199.78,144.11 L199.56,145.22 L199.35,146.35 L199.14,147.47 L198.94,148.6 L198.74,149.74 L198.54,150.87 L198.34,152 L198.13,153.13 L197.93,154.26 L197.72,155.38 L197.5,156.5 L197.28,157.61 L197.06,158.72 L196.83,159.82 L196.6,160.92 L196.37,162.02 L196.14,163.11 L195.91,164.21 L195.67,165.3 L195.44,166.4 L195.19,167.5 L194.95,168.6 L194.7,169.7 L194.45,170.81 L194.18,171.94 L193.91,173.08 L193.64,174.23 L193.36,175.38 L193.09,176.52 L192.81,177.65 L192.54,178.77 L192.27,179.87 L192,180.94 L191.75,181.99 L191.5,183 L191.25,184.01 L191,185.03 L190.75,186.07 L190.49,187.1 L190.24,188.11 L190,189.08 L189.77,190.01 L189.55,190.88 L189.35,191.68 L189.18,192.39 L189.02,193 L188.9,193.5 L188.9,193.5 L188.71,193.12 L188.47,192.65 L188.19,192.11 L187.88,191.5 L187.54,190.84 L187.18,190.13 L186.81,189.39 L186.43,188.62 L186.05,187.84 L185.68,187.05 L185.33,186.27 L185,185.5 L184.69,184.73 L184.38,183.94 L184.08,183.13 L183.77,182.3 L183.47,181.46 L183.18,180.6 L182.87,179.74 L182.57,178.87 L182.26,178 L181.95,177.13 L181.63,176.26 L181.3,175.4 L180.96,174.53 L180.61,173.62 L180.25,172.69 L179.88,171.75 L179.51,170.81 L179.13,169.87 L178.76,168.96 L178.39,168.07 L178.03,167.22 L177.67,166.42 L177.33,165.68 L177,165 L176.68,164.37 L176.36,163.77 L176.04,163.19 L175.73,162.65 L175.43,162.14 L175.13,161.68 L174.84,161.27 L174.57,160.91 L174.3,160.61 L174.05,160.37 L173.82,160.2 L173.6,160.1 L173.4,160.1 L173.23,160.2 L173.08,160.39 L172.94,160.66 L172.82,160.98 L172.7,161.34 L172.59,161.74 L172.48,162.14 L172.37,162.55 L172.26,162.94 L172.13,163.29 L172,163.6 L171.86,163.9 L171.72,164.23 L171.59,164.57 L171.45,164.93 L171.31,165.28 L171.17,165.63 L171.02,165.94 L170.87,166.23 L170.72,166.46 L170.55,166.65 L170.38,166.76 L170.2,166.8 L170.01,166.75 L169.8,166.61 L169.58,166.4 L169.36,166.13 L169.13,165.81 L168.89,165.47 L168.66,165.1 L168.42,164.74 L168.18,164.38 L167.95,164.04 L167.72,163.75 L167.5,163.5 L167.29,163.26 L167.08,163 L166.88,162.72 L166.69,162.44 L166.49,162.16 L166.3,161.91 L166.1,161.7 L165.9,161.53 L165.69,161.42 L165.47,161.39 L165.24,161.45 L165,161.6 L164.74,161.87 L164.47,162.24 L164.19,162.71 L163.89,163.25 L163.59,163.85 L163.29,164.5 L162.98,165.18 L162.67,165.87 L162.37,166.57 L162.07,167.25 L161.78,167.9 L161.5,168.5 L161.23,169.08 L160.95,169.68 L160.68,170.28 L160.41,170.89 L160.14,171.49 L159.88,172.09 L159.62,172.69 L159.37,173.27 L159.12,173.84 L158.87,174.38 L158.63,174.91 L158.4,175.4 L158.18,175.87 L157.97,176.31 L157.76,176.74 L157.57,177.14 L157.38,177.54 L157.19,177.91 L157.01,178.28 L156.82,178.63 L156.63,178.98 L156.43,179.32 L156.22,179.66 L156,180 L155.77,180.33 L155.53,180.66 L155.28,180.98 L155.03,181.29 L154.77,181.59 L154.51,181.88 L154.25,182.17 L153.99,182.45 L153.74,182.72 L153.48,182.99 L153.24,183.25 L153,183.5 L152.78,183.73 L152.56,183.93 L152.36,184.1 L152.17,184.26 L151.98,184.41 L151.79,184.56 L151.59,184.73 L151.39,184.91 L151.17,185.12 L150.93,185.36 L150.68,185.65 L150.4,186 L150.09,186.4 L149.76,186.85 L149.41,187.34 L149.03,187.87 L148.65,188.42 L148.26,189 L147.86,189.59 L147.47,190.19 L147.08,190.78 L146.7,191.37 L146.34,191.95 L146,192.5 L145.67,193.05 L145.36,193.63 L145.05,194.21 L144.74,194.81 L144.44,195.4 L144.15,195.99 L143.86,196.56 L143.58,197.11 L143.3,197.64 L143.03,198.14 L142.76,198.59 L142.5,199 L142.23,199.37 L141.96,199.7 L141.69,200.01 L141.41,200.28 L141.14,200.53 L140.88,200.76 L140.63,200.96 L140.4,201.14 L140.19,201.3 L140,201.45 L139.83,201.58 L139.7,201.7 L139.7,201.7 L139.59,201.35 L139.46,200.94 L139.31,200.46 L139.14,199.94 L138.95,199.36 L138.76,198.72 L138.55,198.04 L138.34,197.32 L138.12,196.55 L137.91,195.74 L137.7,194.89 L137.5,194 L137.31,193.07 L137.11,192.1 L136.92,191.08 L136.73,190.02 L136.53,188.92 L136.33,187.77 L136.13,186.58 L135.92,185.34 L135.7,184.07 L135.48,182.75 L135.24,181.4 L135,180 L134.74,178.54 L134.47,177.01 L134.2,175.42 L133.91,173.78 L133.61,172.09 L133.31,170.38 L133.01,168.64 L132.7,166.89 L132.4,165.14 L132.09,163.4 L131.79,161.69 L131.5,160 L131.21,158.32 L130.91,156.63 L130.61,154.92 L130.31,153.2 L130.02,151.49 L129.72,149.78 L129.42,148.09 L129.13,146.41 L128.84,144.75 L128.55,143.13 L128.27,141.54 L128,140 L127.73,138.48 L127.46,136.96 L127.2,135.46 L126.93,133.97 L126.67,132.5 L126.42,131.07 L126.17,129.67 L125.92,128.32 L125.68,127.02 L125.45,125.78 L125.22,124.6 L125,123.5 L124.78,122.45 L124.56,121.45 L124.34,120.49 L124.13,119.58 L123.92,118.72 L123.71,117.92 L123.52,117.17 L123.34,116.49 L123.18,115.86 L123.03,115.3 L122.9,114.82 L122.8,114.4 L122.8,114.4 L122.71,114.77 L122.61,115.22 L122.48,115.73 L122.34,116.3 L122.19,116.93 L122.03,117.61 L121.86,118.33 L121.68,119.1 L121.51,119.91 L121.33,120.74 L121.16,121.61 L121,122.5 L120.84,123.44 L120.68,124.45 L120.51,125.53 L120.35,126.66 L120.18,127.82 L120.01,129.01 L119.84,130.21 L119.67,131.41 L119.5,132.6 L119.34,133.77 L119.17,134.91 L119,136 L118.83,137.09 L118.64,138.23 L118.45,139.39 L118.26,140.56 L118.07,141.71 L117.88,142.84 L117.69,143.93 L117.52,144.94 L117.36,145.88 L117.22,146.71 L117.1,147.42 L117,148 L117,148 L116.87,147.64 L116.7,147.2 L116.51,146.69 L116.29,146.11 L116.05,145.49 L115.8,144.82 L115.54,144.12 L115.27,143.4 L114.99,142.66 L114.72,141.93 L114.46,141.2 L114.2,140.5 L113.94,139.77 L113.65,138.97 L113.35,138.12 L113.04,137.25 L112.73,136.36 L112.43,135.48 L112.13,134.63 L111.84,133.82 L111.58,133.07 L111.35,132.41 L111.16,131.84 L111,131.4 L111,131.4 L110.78,131.74 L110.5,132.17 L110.18,132.68 L109.81,133.24 L109.42,133.86 L109,134.51 L108.57,135.19 L108.13,135.88 L107.7,136.57 L107.27,137.24 L106.87,137.89 L106.5,138.5 L106.15,139.09 L105.79,139.69 L105.44,140.29 L105.09,140.9 L104.75,141.5 L104.41,142.11 L104.07,142.7 L103.74,143.29 L103.42,143.86 L103.1,144.43 L102.8,144.97 L102.5,145.5 L102.21,146.02 L101.91,146.56 L101.61,147.09 L101.31,147.62 L101.03,148.14 L100.75,148.64 L100.49,149.11 L100.24,149.56 L100.02,149.97 L99.81,150.33 L99.64,150.64 L99.5,150.9 L99.5,150.9 L99.4,150.38 L99.27,149.73 L99.12,148.98 L98.95,148.13 L98.76,147.21 L98.57,146.23 L98.36,145.21 L98.15,144.16 L97.94,143.09 L97.72,142.04 L97.51,141 L97.3,140 L97.09,139.01 L96.88,137.99 L96.67,136.95 L96.45,135.9 L96.23,134.83 L96.01,133.76 L95.78,132.68 L95.55,131.61 L95.31,130.56 L95.08,129.52 L94.84,128.49 L94.6,127.5 L94.35,126.51 L94.09,125.5 L93.83,124.49 L93.56,123.47 L93.28,122.47 L93.01,121.49 L92.73,120.53 L92.47,119.61 L92.21,118.74 L91.96,117.93 L91.72,117.18 L91.5,116.5 L91.29,115.9 L91.1,115.35 L90.92,114.87 L90.74,114.43 L90.57,114.05 L90.41,113.7 L90.26,113.39 L90.1,113.11 L89.95,112.86 L89.8,112.62 L89.65,112.41 L89.5,112.2 L89.35,112.01 L89.2,111.85 L89.05,111.71 L88.9,111.6 L88.76,111.51 L88.62,111.45 L88.48,111.41 L88.34,111.4 L88.2,111.42 L88.07,111.45 L87.93,111.52 L87.8,111.6 L87.67,111.69 L87.55,111.78 L87.42,111.88 L87.31,111.99 L87.19,112.12 L87.07,112.29 L86.96,112.5 L86.84,112.77 L86.71,113.09 L86.58,113.48 L86.45,113.95 L86.3,114.5 L86.15,115.12 L85.99,115.78 L85.84,116.49 L85.67,117.26 L85.51,118.08 L85.34,118.97 L85.16,119.93 L84.98,120.97 L84.8,122.09 L84.6,123.3 L84.4,124.6 L84.2,126 L83.99,127.54 L83.77,129.24 L83.55,131.08 L83.33,133.02 L83.09,135.05 L82.86,137.13 L82.61,139.25 L82.36,141.37 L82.11,143.47 L81.84,145.52 L81.58,147.51 L81.3,149.4 L81.01,151.22 L80.72,153.02 L80.41,154.8 L80.1,156.55 L79.78,158.29 L79.45,160.01 L79.12,161.71 L78.79,163.39 L78.46,165.06 L78.14,166.72 L77.82,168.37 L77.5,170 L77.19,171.63 L76.87,173.27 L76.56,174.9 L76.24,176.53 L75.93,178.14 L75.62,179.72 L75.31,181.29 L75,182.82 L74.69,184.31 L74.39,185.76 L74.09,187.16 L73.8,188.5 L73.51,189.81 L73.22,191.1 L72.93,192.37 L72.64,193.61 L72.36,194.81 L72.08,195.97 L71.81,197.07 L71.53,198.11 L71.27,199.08 L71,199.98 L70.75,200.78 L70.5,201.5 L70.26,202.12 L70.03,202.64 L69.8,203.08 L69.59,203.44 L69.37,203.74 L69.16,203.97 L68.95,204.15 L68.75,204.28 L68.54,204.37 L68.33,204.43 L68.12,204.47 L67.9,204.5 L67.68,204.5 L67.46,204.44 L67.24,204.34 L67.03,204.2 L66.81,204.03 L66.59,203.81 L66.37,203.57 L66.14,203.3 L65.91,203 L65.68,202.68 L65.44,202.35 L65.2,202 L64.95,201.62 L64.69,201.19 L64.43,200.71 L64.16,200.2 L63.89,199.67 L63.62,199.12 L63.34,198.57 L63.07,198.02 L62.8,197.48 L62.53,196.95 L62.26,196.46 L62,196 L61.74,195.57 L61.49,195.15 L61.24,194.75 L60.99,194.35 L60.74,193.97 L60.49,193.59 L60.24,193.23 L59.99,192.87 L59.75,192.52 L59.5,192.17 L59.25,191.84 L59,191.5 L58.75,191.17 L58.5,190.85 L58.25,190.53 L58,190.22 L57.75,189.92 L57.5,189.62 L57.25,189.34 L57,189.06 L56.75,188.78 L56.5,188.51 L56.25,188.25 L56,188 L55.74,187.75 L55.47,187.5 L55.18,187.25 L54.89,187 L54.6,186.76 L54.31,186.53 L54.04,186.31 L53.78,186.11 L53.54,185.93 L53.33,185.76 L53.14,185.62 L53,185.5 Z" fill="#f1e5f3"/>
<path d="M53,14.8 C53.5,15.33 54.9,17.03 56,18 C57.1,18.97 58.27,19.77 59.6,20.6 C60.93,21.43 62.5,22.37 64,23 C65.5,23.63 67.1,24.15 68.6,24.4 C70.1,24.65 71.52,24.62 73,24.5 C74.48,24.38 76.22,24.28 77.5,23.7 C78.78,23.12 79.65,21.95 80.7,21 C81.75,20.05 82.75,19.03 83.8,18 C84.85,16.97 85.93,15.75 87,14.8 C88.07,13.85 88.87,13.05 90.2,12.3 C91.53,11.55 93.3,10.83 95,10.3 C96.7,9.77 98.73,9.43 100.4,9.1 C102.07,8.77 103.52,8.52 105,8.3 C106.48,8.08 107.97,7.8 109.3,7.8 C110.63,7.8 111.93,8.08 113,8.3 C114.07,8.52 115.25,8.97 115.7,9.1 M53,19.3 C53.42,19.83 54.6,21.45 55.5,22.5 C56.4,23.55 57.4,24.6 58.4,25.6 C59.4,26.6 60.45,27.65 61.5,28.5 C62.55,29.35 63.53,30.03 64.7,30.7 C65.87,31.37 67.22,32.07 68.5,32.5 C69.78,32.93 71.15,33.3 72.4,33.3 C73.65,33.3 74.73,32.93 76,32.5 C77.27,32.07 78.5,31.53 80,30.7 C81.5,29.87 83.3,28.55 85,27.5 C86.7,26.45 88.53,25.28 90.2,24.4 C91.87,23.52 93.3,22.83 95,22.2 C96.7,21.57 98.73,21.05 100.4,20.6 C102.07,20.15 103.52,19.83 105,19.5 C106.48,19.17 107.88,18.68 109.3,18.6 C110.72,18.52 112.02,18.67 113.5,19 C114.98,19.33 116.62,19.77 118.2,20.6 C119.78,21.43 121.3,22.73 123,24 C124.7,25.27 126.73,27.12 128.4,28.2 C130.07,29.28 131.3,29.87 133,30.5 C134.7,31.13 136.85,31.83 138.6,32 C140.35,32.17 141.8,31.92 143.5,31.5 C145.2,31.08 147.3,30.08 148.8,29.5 C150.3,28.92 151.88,28.25 152.5,28 M53,11.6 C53.67,11.25 55.47,10.13 57,9.5 C58.53,8.87 60.7,8.22 62.2,7.8 C63.7,7.38 64.73,7.22 66,7 C67.27,6.78 69.17,6.58 69.8,6.5 M53,33.3 C53.83,33.42 56.05,33.78 58,34 C59.95,34.22 62.53,34.43 64.7,34.6 C66.87,34.77 68.87,34.9 71,35 C73.13,35.1 75.33,35.2 77.5,35.2 C79.67,35.2 81.88,35.1 84,35 C86.12,34.9 88.1,34.72 90.2,34.6 C92.3,34.48 94.47,34.1 96.6,34.3 C98.73,34.5 101.27,35.27 103,35.8 C104.73,36.33 105.73,36.97 107,37.5 C108.27,38.03 109.35,38.92 110.6,39 C111.85,39.08 113.23,38.32 114.5,38 C115.77,37.68 116.78,37.1 118.2,37.1 C119.62,37.1 121.3,37.58 123,38 C124.7,38.42 126.48,39.1 128.4,39.6 C130.32,40.1 132.38,40.57 134.5,41 C136.62,41.43 139.18,42.07 141.1,42.2 C143.02,42.33 144.1,42.08 146,41.8 C147.9,41.52 151.42,40.72 152.5,40.5 M53,45.5 C53.67,45.83 55.75,46.8 57,47.5 C58.25,48.2 59.33,48.87 60.5,49.7 C61.67,50.53 62.87,51.5 64,52.5 C65.13,53.5 66.3,54.53 67.3,55.7 C68.3,56.87 69.3,58.37 70,59.5 C70.7,60.63 70.83,61.33 71.5,62.5 C72.17,63.67 72.72,64.52 74,66.5 C75.28,68.48 77.78,71.98 79.2,74.4 C80.62,76.82 81.37,78.73 82.5,81 C83.63,83.27 85.08,86 86,88 C86.92,90 87.43,91.58 88,93 C88.57,94.42 89.17,95.92 89.4,96.5 M53,42 C53.83,42.25 56.47,42.92 58,43.5 C59.53,44.08 60.87,44.67 62.2,45.5 C63.53,46.33 64.87,47.52 66,48.5 C67.13,49.48 68,50.4 69,51.4 C70,52.4 71.15,53.73 72,54.5 C72.85,55.27 73.47,56.58 74.1,56 C74.73,55.42 75.23,53.03 75.8,51 C76.37,48.97 77.22,45 77.5,43.8 M77.5,43.8 C77.92,43.97 78.92,44.43 80,44.8 C81.08,45.17 82.3,45.58 84,46 C85.7,46.42 88.62,46.63 90.2,47.3 C91.78,47.97 92.43,48.93 93.5,50 C94.57,51.07 95.52,52.45 96.6,53.7 C97.68,54.95 98.93,56.23 100,57.5 C101.07,58.77 101.92,60.22 103,61.3 C104.08,62.38 105.37,63.23 106.5,64 C107.63,64.77 109.25,65.58 109.8,65.9 M77.5,43.8 C77.92,45.17 79.15,48.88 80,52 C80.85,55.12 81.77,59.33 82.6,62.5 C83.43,65.67 84.15,68.17 85,71 C85.85,73.83 87.07,76.83 87.7,79.5 C88.33,82.17 88.52,84.45 88.8,87 C89.08,89.55 89.3,93.5 89.4,94.8 M89.4,96.5 C90,95.08 91.87,90.83 93,88 C94.13,85.17 95.03,82.17 96.2,79.5 C97.37,76.83 98.87,74.27 100,72 C101.13,69.73 101.83,67.9 103,65.9 C104.17,63.9 105.58,61.98 107,60 C108.42,58.02 110.75,55 111.5,54 M110.6,7.8 C111.17,8.08 112.73,8.87 114,9.5 C115.27,10.13 116.7,10.6 118.2,11.6 C119.7,12.6 121.3,14.22 123,15.5 C124.7,16.78 126.65,18.25 128.4,19.3 C130.15,20.35 131.8,21.17 133.5,21.8 C135.2,22.43 136.93,23.07 138.6,23.1 C140.27,23.13 141.8,22.63 143.5,22 C145.2,21.37 147.3,20.3 148.8,19.3 C150.3,18.3 151.88,16.55 152.5,16 M110.6,18 C111.17,18.42 112.73,19.65 114,20.5 C115.27,21.35 116.87,22.1 118.2,23.1 C119.53,24.1 120.73,25.43 122,26.5 C123.27,27.57 124.55,28.53 125.8,29.5 C127.05,30.47 128.22,31.45 129.5,32.3 C130.78,33.15 132.25,34.05 133.5,34.6 C134.75,35.15 135.73,35.4 137,35.6 C138.27,35.8 139.77,35.9 141.1,35.8 C142.43,35.7 143.72,35.42 145,35 C146.28,34.58 147.55,34.13 148.8,33.3 C150.05,32.47 151.88,30.55 152.5,30 M110.6,48.6 C111,49.08 112.15,50.65 113,51.5 C113.85,52.35 114.87,53.12 115.7,53.7 C116.53,54.28 117.15,54.68 118,55 C118.85,55.32 119.72,55.68 120.8,55.6 C121.88,55.52 123.23,55.03 124.5,54.5 C125.77,53.97 127.23,53.15 128.4,52.4 C129.57,51.65 130.43,50.85 131.5,50 C132.57,49.15 133.55,48.3 134.8,47.3 C136.05,46.3 137.47,44.97 139,44 C140.53,43.03 142.5,42.08 144,41.5 C145.5,40.92 146.58,40.75 148,40.5 C149.42,40.25 151.75,40.08 152.5,40 M128.4,46 C128.83,46.83 129.93,49.08 131,51 C132.07,52.92 133.8,55.67 134.8,57.5 C135.8,59.33 136.63,61.25 137,62 M111,50.9 C111.67,52.08 113.83,55.82 115,58 C116.17,60.18 117,61.83 118,64 C119,66.17 119.95,68.95 121,71 C122.05,73.05 123.13,76.13 124.3,76.3 C125.47,76.47 126.88,73.72 128,72 C129.12,70.28 130,68 131,66 C132,64 132.9,61.83 134,60 C135.1,58.17 136.43,56.67 137.6,55 C138.77,53.33 139.6,51.5 141,50 C142.4,48.5 144.08,47.08 146,46 C147.92,44.92 151.42,43.92 152.5,43.5 M152.5,8 C153.08,8.67 154.75,10.67 156,12 C157.25,13.33 158.83,14.83 160,16 C161.17,17.17 162.5,18.5 163,19 M152.5,18 C153.25,17.33 155.42,15.33 157,14 C158.58,12.67 160.5,11.17 162,10 C163.5,8.83 165.33,7.5 166,7 M152.5,12 C153.42,11.33 156.25,8.92 158,8 C159.75,7.08 162.17,6.75 163,6.5 M152.5,31.4 C155.08,31.4 162.42,31.33 168,31.4 C173.58,31.47 180.67,31.53 186,31.8 C191.33,32.07 195.17,32.63 200,33 C204.83,33.37 210,33.75 215,34 C220,34.25 225,34.17 230,34.5 C235,34.83 240.33,35.67 245,36 C249.67,36.33 254,36.67 258,36.5 C262,36.33 267.17,35.25 269,35 M152.5,33.5 C155.08,33.42 163.42,32.92 168,33 C172.58,33.08 175.5,33.5 180,34 C184.5,34.5 190.58,35.33 195,36 C199.42,36.67 202.33,37.67 206.5,38 C210.67,38.33 215.25,37.67 220,38 C224.75,38.33 230,39.33 235,40 C240,40.67 244.33,42.33 250,42 C255.67,41.67 265.83,38.67 269,38 M152.5,39.6 C154.08,39.83 159.08,40.38 162,41 C164.92,41.62 167.67,42.47 170,43.3 C172.33,44.13 174.17,44.93 176,46 C177.83,47.07 178.93,47.57 181,49.7 C183.07,51.83 186.57,56.08 188.4,58.8 C190.23,61.52 190.98,63.47 192,66 C193.02,68.53 193.83,71.67 194.5,74 C195.17,76.33 195.75,79 196,80 M161,40.5 C163.12,40.65 170.05,40.48 173.7,41.4 C177.35,42.32 180.15,43.4 182.9,46 C185.65,48.6 188.35,53.67 190.2,57 C192.05,60.33 193.03,63.5 194,66 C194.97,68.5 195.67,71 196,72 M172,31.4 C173.67,30.67 178.37,28.22 182,27 C185.63,25.78 190,24.27 193.8,24.1 C197.6,23.93 202.05,26.3 204.8,26 C207.55,25.7 208.6,24.3 210.3,22.3 C212,20.3 213.48,16.13 215,14 C216.52,11.87 218.07,9.67 219.4,9.5 C220.73,9.33 221.78,11.78 223,13 C224.22,14.22 224.7,16.8 226.7,16.8 C228.7,16.8 231.95,13.92 235,13 C238.05,12.08 242.17,11.3 245,11.3 C247.83,11.3 249.57,11.78 252,13 C254.43,14.22 257.43,16.77 259.6,18.6 C261.77,20.43 263.48,22.17 265,24 C266.52,25.83 268.08,28.67 268.7,29.6 M190.2,36.9 C191.33,35.92 194.57,32.53 197,31 C199.43,29.47 201.8,29.2 204.8,27.7 C207.8,26.2 211.35,23.52 215,22 C218.65,20.48 224.03,18.93 226.7,18.6 C229.37,18.27 229.48,19.08 231,20 C232.52,20.92 234.3,22.1 235.8,24.1 C237.3,26.1 238.77,29.27 240,32 C241.23,34.73 242.03,38.67 243.2,40.5 C244.37,42.33 245.48,42.38 247,43 C248.52,43.62 250.13,44.7 252.3,44.2 C254.47,43.7 257.27,41.53 260,40 C262.73,38.47 267.25,35.83 268.7,35 M192,64.3 C192.83,62.75 195.5,57.88 197,55 C198.5,52.12 199.7,49.42 201,47 C202.3,44.58 203.3,42 204.8,40.5 C206.3,39 209.13,38.42 210,38 M206.6,47.8 C208,48.17 212.27,49.38 215,50 C217.73,50.62 220.5,51.75 223,51.5 C225.5,51.25 227.87,49.42 230,48.5 C232.13,47.58 233.97,46.08 235.8,46 C237.63,45.92 239.17,47.08 241,48 C242.83,48.92 244.47,51.5 246.8,51.5 C249.13,51.5 252.47,49.25 255,48 C257.53,46.75 260.02,45.25 262,44 C263.98,42.75 266.08,41.08 266.9,40.5 M206.6,42.4 C208,42.4 212.27,42.4 215,42.4 C217.73,42.4 220.17,42.13 223,42.4 C225.83,42.67 228.95,43.4 232,44 C235.05,44.6 238.8,44.83 241.3,46 C243.8,47.17 245.17,49.17 247,51 C248.83,52.83 250.8,55.5 252.3,57 C253.8,58.5 254.78,59.1 256,60 C257.22,60.9 259,62 259.6,62.4 M212,92 C213,89.33 216.33,80.33 218,76 C219.67,71.67 220.55,68.87 222,66 C223.45,63.13 225.2,60.97 226.7,58.8 C228.2,56.63 229.48,54.52 231,53 C232.52,51.48 235,50.25 235.8,49.7 M63.7,224 C64.42,221.33 66.62,213.33 68,208 C69.38,202.67 70.67,197.17 72,192 C73.33,186.83 74.67,181.67 76,177 C77.33,172.33 78.67,167.83 80,164 C81.33,160.17 82.83,156.58 84,154 C85.17,151.42 86.02,149.83 87,148.5 C87.98,147.17 88.9,145.92 89.9,146 C90.9,146.08 91.82,147.17 93,149 C94.18,150.83 95.67,154.17 97,157 C98.33,159.83 99.67,162.83 101,166 C102.33,169.17 103.83,172.83 105,176 C106.17,179.17 107.07,182.28 108,185 C108.93,187.72 109.6,190.47 110.6,192.3 C111.6,194.13 112.77,194.55 114,196 C115.23,197.45 116.67,199.42 118,201 C119.33,202.58 120.5,203.92 122,205.5 C123.5,207.08 125.45,208.83 127,210.5 C128.55,212.17 129.8,213.92 131.3,215.5 C132.8,217.08 134.55,218.58 136,220 C137.45,221.42 139.33,223.33 140,224 M65.5,224 C66.25,222 68.58,216.33 70,212 C71.42,207.67 72.5,202.5 74,198 C75.5,193.5 77.33,189.33 79,185 C80.67,180.67 82.5,175.67 84,172 C85.5,168.33 86.83,164.92 88,163 C89.17,161.08 89.83,161.17 91,160.5 C92.17,159.83 93.68,160.17 95,159 C96.32,157.83 97.73,153.33 98.9,153.5 C100.07,153.67 100.82,156.58 102,160 C103.18,163.42 104.57,168.33 106,174 C107.43,179.67 109.83,190.67 110.6,194 M70,224 C70.83,222.33 73.33,217.17 75,214 C76.67,210.83 78.33,207.83 80,205 C81.67,202.17 83.35,199.12 85,197 C86.65,194.88 88.07,192.8 89.9,192.3 C91.73,191.8 93.82,193.13 96,194 C98.18,194.87 100.57,196.28 103,197.5 C105.43,198.72 108.27,200.52 110.6,201.3 C112.93,202.08 114.75,201.88 117,202.2 C119.25,202.52 121.93,202.57 124.1,203.2 C126.27,203.83 128.18,204.82 130,206 C131.82,207.18 133.67,208.97 135,210.3 C136.33,211.63 137.1,211.72 138,214 C138.9,216.28 140,222.33 140.4,224 M75.4,224 C76,222.5 77.57,217.67 79,215 C80.43,212.33 82.18,210.13 84,208 C85.82,205.87 87.23,203.23 89.9,202.2 C92.57,201.17 96.55,201.95 100,201.8 C103.45,201.65 108.83,201.38 110.6,201.3 M110.6,192.3 C111,189.92 112.18,182.88 113,178 C113.82,173.12 114.7,167.13 115.5,163 C116.3,158.87 116.97,153.7 117.8,153.2 C118.63,152.7 119.47,156.87 120.5,160 C121.53,163.13 122.8,167.83 124,172 C125.2,176.17 126.37,180.5 127.7,185 C129.03,189.5 130.45,194.33 132,199 C133.55,203.67 135.3,208.83 137,213 C138.7,217.17 141.33,222.17 142.2,224 M104.3,224 C104.75,222.67 105.95,218.58 107,216 C108.05,213.42 109.43,208.83 110.6,208.5 C111.77,208.17 113.02,211.42 114,214 C114.98,216.58 116.08,222.33 116.5,224 M107.5,224 C108.02,222.67 109.68,216 110.6,216 C111.52,216 112.6,222.67 113,224 M110.6,201.3 C111.33,202.42 113.6,205.55 115,208 C116.4,210.45 117.83,213.33 119,216 C120.17,218.67 121.5,222.67 122,224 M110.6,201.3 C111.83,202.75 115.93,207.22 118,210 C120.07,212.78 121.5,215.67 123,218 C124.5,220.33 126.33,223 127,224 M176,224 C177.33,222 181.33,217.17 184,212 C186.67,206.83 189.5,200 192,193 C194.5,186 197.17,176.33 199,170 C200.83,163.67 201.78,158.87 203,155 C204.22,151.13 205.13,147.3 206.3,146.8 C207.47,146.3 208.72,149.55 210,152 C211.28,154.45 212.33,158.5 214,161.5 C215.67,164.5 217.75,166.92 220,170 C222.25,173.08 225.33,177 227.5,180 C229.67,183 231.22,185.3 233,188 C234.78,190.7 236.53,193.53 238.2,196.2 C239.87,198.87 241.22,201.33 243,204 C244.78,206.67 247.03,208.87 248.9,212.2 C250.77,215.53 253.32,222.03 254.2,224 M180,224 C181.33,221.33 185.33,214 188,208 C190.67,202 193.67,194.33 196,188 C198.33,181.67 200.28,174.65 202,170 C203.72,165.35 204.8,161.43 206.3,160.1 C207.8,158.77 209.25,161.33 211,162 C212.75,162.67 214.63,161.77 216.8,164.1 C218.97,166.43 221.8,172.35 224,176 C226.2,179.65 228,183.33 230,186 C232,188.67 234,189.67 236,192 C238,194.33 240,197 242,200 C244,203 246.33,206 248,210 C249.67,214 251.33,221.67 252,224 M184,224 C185.33,222 189.5,216.17 192,212 C194.5,207.83 196.62,202.97 199,199 C201.38,195.03 203.33,190 206.3,188.2 C209.27,186.4 213.27,187.53 216.8,188.2 C220.33,188.87 224.3,191.07 227.5,192.2 C230.7,193.33 233.08,194.37 236,195 C238.92,195.63 242.4,195.58 245,196 C247.6,196.42 250.1,197 251.6,197.5 C253.1,198 253.1,196.92 254,199 C254.9,201.08 256,205.83 257,210 C258,214.17 259.5,221.67 260,224 M188,224 C189.17,222.17 191.95,217.18 195,213 C198.05,208.82 202.8,201.07 206.3,198.9 C209.8,196.73 212.47,199.57 216,200 C219.53,200.43 223.83,201.25 227.5,201.5 C231.17,201.75 234.43,201.5 238,201.5 C241.57,201.5 246.4,200.75 248.9,201.5 C251.4,202.25 251.67,203.32 253,206 C254.33,208.68 256.07,214.6 256.9,217.6 C257.73,220.6 257.82,222.93 258,224 M227.5,188.2 C227.95,185.5 229.28,176.7 230.2,172 C231.12,167.3 232.12,162.87 233,160 C233.88,157.13 234.58,154.8 235.5,154.8 C236.42,154.8 237.42,157.13 238.5,160 C239.58,162.87 240.72,167.75 242,172 C243.28,176.25 244.7,181.5 246.2,185.5 C247.7,189.5 249.22,192.43 251,196 C252.78,199.57 255.23,203.9 256.9,206.9 C258.57,209.9 259.65,211.15 261,214 C262.35,216.85 264.33,222.33 265,224 M216.8,224 C217.33,222.33 218.88,216.63 220,214 C221.12,211.37 222.33,208.2 223.5,208.2 C224.67,208.2 225.88,211.37 227,214 C228.12,216.63 229.67,222.33 230.2,224 M160,224 C161,223 164,219.33 166,218 C168,216.67 170,216 172,216 C174,216 177,217.67 178,218" fill="none" stroke="#6e6e6e" stroke-width="1.1"/>
</g>
<g clip-path="url(#cplm)"><path d="M275.5,25.6 C276.42,24.67 278.92,21.77 281,20 C283.08,18.23 285.28,16.3 288,15 C290.72,13.7 295.75,12.67 297.3,12.2 M275.5,28 C276.42,28.17 279.08,28.78 281,29 C282.92,29.22 285.17,29.47 287,29.3 C288.83,29.13 290.28,28.42 292,28 C293.72,27.58 296.42,27 297.3,26.8 M275.5,34.1 C276.58,33.92 279.92,33.43 282,33 C284.08,32.57 285.45,31.92 288,31.5 C290.55,31.08 295.75,30.67 297.3,30.5 M275.5,36 C277.25,35.95 282.37,35.8 286,35.7 C289.63,35.6 295.42,35.45 297.3,35.4 M275.5,41.5 C276.58,41.33 279.92,40.62 282,40.5 C284.08,40.38 285.45,40.63 288,40.8 C290.55,40.97 295.75,41.38 297.3,41.5 M275.5,42.7 C276.92,42.83 281.58,43.12 284,43.5 C286.42,43.88 287.78,44.53 290,45 C292.22,45.47 296.08,46.08 297.3,46.3 M275.5,91.5 C276.42,92.42 279.08,95.38 281,97 C282.92,98.62 285.17,100.87 287,101.2 C288.83,101.53 290.28,99.6 292,99 C293.72,98.4 296.42,97.83 297.3,97.6 M275.5,108.5 C276.42,107.75 279.08,105.25 281,104 C282.92,102.75 285.17,101.83 287,101 C288.83,100.17 290.28,99.75 292,99 C293.72,98.25 296.42,96.92 297.3,96.5 M275.5,146.4 C277.25,146.33 282.37,146.12 286,146 C289.63,145.88 295.42,145.75 297.3,145.7 M275.5,160.4 C277.25,160.43 282.37,160.52 286,160.6 C289.63,160.68 295.42,160.85 297.3,160.9 M275.5,187.5 C276.42,187.67 279.05,188.08 281,188.5 C282.95,188.92 284.48,189.35 287.2,190 C289.92,190.65 295.62,192 297.3,192.4 M275.5,198.5 C276.42,198.67 279.05,199.08 281,199.5 C282.95,199.92 284.48,200.13 287.2,201 C289.92,201.87 295.62,204.08 297.3,204.7" fill="none" stroke="#6e6e6e" stroke-width="1.1"/></g>
<g clip-path="url(#cpkh)"><path d="M302.7,8.5 C303.92,8.92 307.62,9.92 310,11 C312.38,12.08 314.62,13.78 317,15 C319.38,16.22 323.08,17.75 324.3,18.3 M302.7,10.5 C303.92,10.83 307.62,11.83 310,12.5 C312.38,13.17 314.62,13.93 317,14.5 C319.38,15.07 323.08,15.67 324.3,15.9 M302.7,12.5 C303.92,12.75 307.62,13.42 310,14 C312.38,14.58 314.62,15.5 317,16 C319.38,16.5 323.08,16.83 324.3,17 M302.7,19.5 C303.92,19.92 307.62,20.92 310,22 C312.38,23.08 314.62,24.78 317,26 C319.38,27.22 323.08,28.75 324.3,29.3 M302.7,39 C303.58,39.5 306.13,40.98 308,42 C309.87,43.02 312.07,44.85 313.9,45.1 C315.73,45.35 317.27,43.9 319,43.5 C320.73,43.1 323.42,42.83 324.3,42.7 M302.7,48.8 C303.92,49.17 307.62,50.05 310,51 C312.38,51.95 314.62,53.45 317,54.5 C319.38,55.55 323.08,56.83 324.3,57.3 M302.7,65.9 C303.42,64.92 305.62,61.82 307,60 C308.38,58.18 309.45,56.27 311,55 C312.55,53.73 314.8,52.98 316.3,52.4 C317.8,51.82 318.67,51.7 320,51.5 C321.33,51.3 323.58,51.25 324.3,51.2 M302.7,84.1 C304.42,84.1 309.4,84.1 313,84.1 C316.6,84.1 322.42,84.1 324.3,84.1 M302.7,129.5 C304.42,129.67 309.4,130.15 313,130.5 C316.6,130.85 322.42,131.42 324.3,131.6 M302.7,130.5 C304.42,130.63 309.4,131.02 313,131.3 C316.6,131.58 322.42,132.05 324.3,132.2 M302.7,190 C304.42,189.83 309.4,189.3 313,189 C316.6,188.7 322.42,188.33 324.3,188.2 M302.7,193.6 C304.42,193.6 309.4,193.6 313,193.6 C316.6,193.6 322.42,193.6 324.3,193.6 M302.7,196.4 C304.42,196.4 309.4,196.4 313,196.4 C316.6,196.4 322.42,196.4 324.3,196.4 M302.7,201 C304.42,201 309.4,201 313,201 C316.6,201 322.42,201 324.3,201 M302.7,203.4 C303.75,203.67 306.78,203.9 309,205 C311.22,206.1 313.45,208.22 316,210 C318.55,211.78 322.92,214.75 324.3,215.7 M302.7,208.4 C303.75,208.83 306.78,209.65 309,211 C311.22,212.35 313.45,214.68 316,216.5 C318.55,218.32 322.92,221 324.3,221.9 M302.7,215.7 C303.75,216.25 306.95,217.7 309,219 C311.05,220.3 314,222.75 315,223.5" fill="none" stroke="#6e6e6e" stroke-width="1.1"/></g>
<path d="M89.9,6 V224 M110.6,6 V224 M152.5,6 V224 M170.8,6 V224 M206.5,6 V224 M227.7,6 V224 " stroke="#111" stroke-width="1.2" fill="none"/>
<path d="M53,115 H269 M275.5,115 H297.3 M302.7,115 H324.3" stroke="#444" stroke-width="1.6"/>
<g clip-path="url(#cpa)" fill="none" stroke-linejoin="round">
<path d="M53,48 C54.08,48.03 57.67,47.37 59.5,48.2 C61.33,49.03 62.83,51.2 64,53 C65.17,54.8 65.68,56.83 66.5,59 C67.32,61.17 68.3,64.37 68.9,66 C69.5,67.63 69.72,68.5 70.1,68.8 C70.48,69.1 70.78,67.6 71.2,67.8 C71.62,68 71.98,68.33 72.6,70 C73.22,71.67 73.92,74.88 74.9,77.8 C75.88,80.72 77.27,84.22 78.5,87.5 C79.73,90.78 81.05,94.03 82.3,97.5 C83.55,100.97 85.38,106.5 86,108.3 C86.33,107.25 87.35,103.73 88,102 C88.65,100.27 89.07,99.02 89.9,97.9 C90.73,96.78 91.55,96.42 93,95.3 C94.45,94.18 96.77,92.55 98.6,91.2 C100.43,89.85 102.27,88.4 104,87.2 C105.73,86 107.67,84.53 109,84 C110.33,83.47 111.08,83.67 112,84 C112.92,84.33 113.7,85 114.5,86 C115.3,87 116.08,88.5 116.8,90 C117.52,91.5 118.22,93.7 118.8,95 C119.38,96.3 120.05,97.33 120.3,97.8 C120.58,97.08 121.35,95.38 122,93.5 C122.65,91.62 123.35,88.48 124.2,86.5 C125.05,84.52 126.13,82.68 127.1,81.6 C128.07,80.52 129.15,80.48 130,80 C130.85,79.52 131.37,80.03 132.2,78.7 C133.03,77.37 133.87,74.95 135,72 C136.13,69.05 137.33,64.25 139,61 C140.67,57.75 143.17,54.57 145,52.5 C146.83,50.43 148.33,49.35 150,48.6 C151.67,47.85 153.05,48.33 155,48 C156.95,47.67 160.03,46.47 161.7,46.6 C163.37,46.73 163.58,47.67 165,48.8 C166.42,49.93 168.7,52.1 170.2,53.4 C171.7,54.7 172.58,55.17 174,56.6 C175.42,58.03 177.03,60.37 178.7,62 C180.37,63.63 182.37,64.97 184,66.4 C185.63,67.83 187.47,69.7 188.5,70.6 C189.53,71.5 189.72,71.37 190.2,71.8 C190.68,72.23 190.93,72.5 191.4,73.2 C191.87,73.9 191.78,73.95 193,76 C194.22,78.05 197.12,82.33 198.7,85.5 C200.28,88.67 201.23,91.33 202.5,95 C203.77,98.67 205.67,105.42 206.3,107.5 C206.67,106.42 207.68,102.65 208.5,101 C209.32,99.35 210.48,98.3 211.2,97.6 C211.92,96.9 212.25,97.32 212.8,96.8 C213.35,96.28 213.73,95.53 214.5,94.5 C215.27,93.47 216.15,91.97 217.4,90.6 C218.65,89.23 220.45,87.3 222,86.3 C223.55,85.3 225.28,84.4 226.7,84.6 C228.12,84.8 229.32,86.1 230.5,87.5 C231.68,88.9 232.73,90.93 233.8,93 C234.87,95.07 236.38,98.75 236.9,99.9 C237.42,98.58 238.73,94.68 240,92 C241.27,89.32 243.12,86.72 244.5,83.8 C245.88,80.88 247.33,76.53 248.3,74.5 C249.27,72.47 249.68,72.22 250.3,71.6 C250.92,70.98 251.22,71.35 252,70.8 C252.78,70.25 253.7,69.37 255,68.3 C256.3,67.23 258.3,65.7 259.8,64.4 C261.3,63.1 262.47,62.15 264,60.5 C265.53,58.85 268.17,55.5 269,54.5" stroke="#1c1cf0" stroke-width="1.6"/>
<path d="M53,185.5 C53.5,185.92 55,187 56,188 C57,189 58,190.17 59,191.5 C60,192.83 60.97,194.25 62,196 C63.03,197.75 64.22,200.58 65.2,202 C66.18,203.42 67.02,204.58 67.9,204.5 C68.78,204.42 69.52,204.17 70.5,201.5 C71.48,198.83 72.63,193.75 73.8,188.5 C74.97,183.25 76.25,176.52 77.5,170 C78.75,163.48 80.18,156.73 81.3,149.4 C82.42,142.07 83.37,131.82 84.2,126 C85.03,120.18 85.7,116.9 86.3,114.5 C86.9,112.1 87.27,111.98 87.8,111.6 C88.33,111.22 88.88,111.38 89.5,112.2 C90.12,113.02 90.65,113.95 91.5,116.5 C92.35,119.05 93.63,123.58 94.6,127.5 C95.57,131.42 96.48,136.1 97.3,140 C98.12,143.9 99.13,149.08 99.5,150.9 C100,150 101.33,147.57 102.5,145.5 C103.67,143.43 105.08,140.85 106.5,138.5 C107.92,136.15 110.25,132.58 111,131.4 C111.53,132.92 113.2,137.73 114.2,140.5 C115.2,143.27 116.53,146.75 117,148 C117.33,146 118.33,140.25 119,136 C119.67,131.75 120.37,126.1 121,122.5 C121.63,118.9 122.5,115.75 122.8,114.4 C123.17,115.92 124.13,119.23 125,123.5 C125.87,127.77 126.92,133.92 128,140 C129.08,146.08 130.33,153.33 131.5,160 C132.67,166.67 134,174.33 135,180 C136,185.67 136.72,190.38 137.5,194 C138.28,197.62 139.33,200.42 139.7,201.7 C140.17,201.25 141.45,200.53 142.5,199 C143.55,197.47 144.68,194.67 146,192.5 C147.32,190.33 149.23,187.5 150.4,186 C151.57,184.5 152.07,184.5 153,183.5 C153.93,182.5 155.1,181.35 156,180 C156.9,178.65 157.48,177.32 158.4,175.4 C159.32,173.48 160.4,170.8 161.5,168.5 C162.6,166.2 164,162.43 165,161.6 C166,160.77 166.63,162.63 167.5,163.5 C168.37,164.37 169.45,166.78 170.2,166.8 C170.95,166.82 171.43,164.72 172,163.6 C172.57,162.48 172.77,159.87 173.6,160.1 C174.43,160.33 175.72,162.45 177,165 C178.28,167.55 179.97,171.98 181.3,175.4 C182.63,178.82 183.73,182.48 185,185.5 C186.27,188.52 188.25,192.17 188.9,193.5 C189.33,191.75 190.53,186.97 191.5,183 C192.47,179.03 193.7,174.12 194.7,169.7 C195.7,165.28 196.62,160.95 197.5,156.5 C198.38,152.05 199.08,147.42 200,143 C200.92,138.58 201.98,133.83 203,130 C204.02,126.17 205.58,121.67 206.1,120 C206.55,121.25 207.82,124.67 208.8,127.5 C209.78,130.33 210.75,133.78 212,137 C213.25,140.22 215.58,145.17 216.3,146.8 C216.83,146 218.38,143.63 219.5,142 C220.62,140.37 221.67,138.43 223,137 C224.33,135.57 226.75,134 227.5,133.4 C228.08,134.75 229.78,138.63 231,141.5 C232.22,144.37 234.17,149.08 234.8,150.6 C235.13,148.33 236.18,140.77 236.8,137 C237.42,133.23 237.88,130.42 238.5,128 C239.12,125.58 240.17,123.42 240.5,122.5 C240.92,124.42 242.17,129.42 243,134 C243.83,138.58 244.58,144.5 245.5,150 C246.42,155.5 247.27,161.1 248.5,167 C249.73,172.9 252.17,182.33 252.9,185.4 C253.42,184.58 254.9,182.48 256,180.5 C257.1,178.52 258.42,175.92 259.5,173.5 C260.58,171.08 261.62,168.18 262.5,166 C263.38,163.82 264.42,161.33 264.8,160.4 C265.17,160.92 266.3,162.45 267,163.5 C267.7,164.55 268.67,166.17 269,166.7" stroke="#8c1a8c" stroke-width="1.5"/>
<path d="M53,139 C53.5,137.58 55.03,133.67 56,130.5 C56.97,127.33 57.82,123.5 58.8,120 C59.78,116.5 60.78,113.5 61.9,109.5 C63.02,105.5 64.42,99.83 65.5,96 C66.58,92.17 67.6,88.57 68.4,86.5 C69.2,84.43 69.62,83.77 70.3,83.6 C70.98,83.43 71.72,84.35 72.5,85.5 C73.28,86.65 74.03,88.53 75,90.5 C75.97,92.47 77.13,95.13 78.3,97.3 C79.47,99.47 80.77,101.75 82,103.5 C83.23,105.25 84.42,106.63 85.7,107.8 C86.98,108.97 88.4,109.92 89.7,110.5 C91,111.08 92.25,111 93.5,111.3 C94.75,111.6 95.95,111.77 97.2,112.3 C98.45,112.83 99.77,113.55 101,114.5 C102.23,115.45 103.43,116.67 104.6,118 C105.77,119.33 106.93,120.92 108,122.5 C109.07,124.08 110.5,126.67 111,127.5 C111.5,126.25 113.03,122.75 114,120 C114.97,117.25 115.97,113.67 116.8,111 C117.63,108.33 118.42,105.57 119,104 C119.58,102.43 119.87,101.52 120.3,101.6 C120.73,101.68 121.18,102.72 121.6,104.5 C122.02,106.28 122.6,111 122.8,112.3 C123.17,110.92 124.27,107.05 125,104 C125.73,100.95 126.37,97.25 127.2,94 C128.03,90.75 129.2,86.78 130,84.5 C130.8,82.22 131.35,81.13 132,80.3 C132.65,79.47 133.23,79.3 133.9,79.5 C134.57,79.7 135.23,79.92 136,81.5 C136.77,83.08 137.62,85.92 138.5,89 C139.38,92.08 140.37,96.33 141.3,100 C142.23,103.67 143.2,107.37 144.1,111 C145,114.63 145.85,118.47 146.7,121.8 C147.55,125.13 148.37,128.3 149.2,131 C150.03,133.7 150.73,135.83 151.7,138 C152.67,140.17 153.88,142.23 155,144 C156.12,145.77 157.32,146.85 158.4,148.6 C159.48,150.35 160.4,152.52 161.5,154.5 C162.6,156.48 164.42,159.5 165,160.5 C165.42,160 166.63,158.3 167.5,157.5 C168.37,156.7 169.37,155.75 170.2,155.7 C171.03,155.65 171.77,156.58 172.5,157.2 C173.23,157.82 174.25,159.03 174.6,159.4 C174.92,158.25 175.87,155.25 176.5,152.5 C177.13,149.75 177.77,146.4 178.4,142.9 C179.03,139.4 179.67,135.32 180.3,131.5 C180.93,127.68 181.45,124.58 182.2,120 C182.95,115.42 183.93,109 184.8,104 C185.67,99 186.7,93.75 187.4,90 C188.1,86.25 188.53,83.35 189,81.5 C189.47,79.65 189.7,79.15 190.2,78.9 C190.7,78.65 191.28,78.9 192,80 C192.72,81.1 193.5,83.17 194.5,85.5 C195.5,87.83 196.75,90.92 198,94 C199.25,97.08 200.62,100.62 202,104 C203.38,107.38 205.58,112.58 206.3,114.3 C206.75,113.37 208.08,110.38 209,108.7 C209.92,107.02 210.83,105.23 211.8,104.2 C212.77,103.17 213.8,102.2 214.8,102.5 C215.8,102.8 216.77,104.33 217.8,106 C218.83,107.67 219.88,110 221,112.5 C222.12,115 223.42,118.15 224.5,121 C225.58,123.85 227,128.17 227.5,129.6 C228,128.17 229.5,124.02 230.5,121 C231.5,117.98 232.43,114.03 233.5,111.5 C234.57,108.97 236.03,106.05 236.9,105.8 C237.77,105.55 238.13,108.05 238.7,110 C239.27,111.95 240.03,116.25 240.3,117.5 C240.67,115.58 241.72,110.08 242.5,106 C243.28,101.92 244.17,96.75 245,93 C245.83,89.25 246.73,85.6 247.5,83.5 C248.27,81.4 248.93,80.4 249.6,80.4 C250.27,80.4 250.77,81.07 251.5,83.5 C252.23,85.93 253.08,89.92 254,95 C254.92,100.08 256.03,107.75 257,114 C257.97,120.25 258.88,126.83 259.8,132.5 C260.72,138.17 261.67,144 262.5,148 C263.33,152 264.42,155.08 264.8,156.5 L269,155.7" stroke="#1d1d8a" stroke-width="1.5"/>
</g>
<path d="M53,43 H58 M264.5,43 H269 M275.5,43 H279.5 M293.3,43 H297.3 M302.7,43 H306.7 M320.3,43 H324.3 M53,79 H58 M264.5,79 H269 M275.5,79 H279.5 M293.3,79 H297.3 M302.7,79 H306.7 M320.3,79 H324.3 M53,115 H58 M264.5,115 H269 M275.5,115 H279.5 M293.3,115 H297.3 M302.7,115 H306.7 M320.3,115 H324.3 M53,151 H58 M264.5,151 H269 M275.5,151 H279.5 M293.3,151 H297.3 M302.7,151 H306.7 M320.3,151 H324.3 M53,187 H58 M264.5,187 H269 M275.5,187 H279.5 M293.3,187 H297.3 M302.7,187 H306.7 M320.3,187 H324.3 " stroke="#111" stroke-width="1.2"/>
<rect x="53" y="6" width="216" height="218" fill="none" stroke="#333" stroke-width="1.5"/>
<rect x="275.5" y="6" width="21.8" height="218" fill="none" stroke="#333" stroke-width="1.5"/>
<rect x="302.7" y="6" width="21.6" height="218" fill="none" stroke="#333" stroke-width="1.5"/>
<text x="26.5" y="22.8" font-family='"Liberation Serif", "Times New Roman", serif' font-size="18" text-anchor="start" fill="#000" >(a)</text>
<text x="51.3" y="47.6" font-family='"Liberation Sans", Arial, sans-serif' font-size="15.5" text-anchor="end" fill="#222" >1.0</text>
<text x="51.3" y="119.6" font-family='"Liberation Sans", Arial, sans-serif' font-size="15.5" text-anchor="end" fill="#222" >0.0</text>
<text x="51.3" y="191.6" font-family='"Liberation Sans", Arial, sans-serif' font-size="15.5" text-anchor="end" fill="#222" >-1.0</text>
<text x="0" y="0" font-family='"Liberation Sans", Arial, sans-serif' font-size="18.5" text-anchor="middle" fill="#000" transform="translate(26.5,122.5) rotate(-90)">E(eV)</text>
<text x="52.5" y="239" font-family='"Liberation Sans", Arial, sans-serif' font-size="16.5" text-anchor="middle" fill="#222" font-style="italic">Γ</text>
<text x="89.4" y="239" font-family='"Liberation Sans", Arial, sans-serif' font-size="16.5" text-anchor="middle" fill="#222" font-style="italic">M</text>
<text x="110.1" y="239" font-family='"Liberation Sans", Arial, sans-serif' font-size="16.5" text-anchor="middle" fill="#222" font-style="italic">K</text>
<text x="152" y="239" font-family='"Liberation Sans", Arial, sans-serif' font-size="16.5" text-anchor="middle" fill="#222" font-style="italic">Γ</text>
<text x="170.3" y="239" font-family='"Liberation Sans", Arial, sans-serif' font-size="16.5" text-anchor="middle" fill="#222" font-style="italic">A</text>
<text x="206" y="239" font-family='"Liberation Sans", Arial, sans-serif' font-size="16.5" text-anchor="middle" fill="#222" font-style="italic">L</text>
<text x="227.2" y="239" font-family='"Liberation Sans", Arial, sans-serif' font-size="16.5" text-anchor="middle" fill="#222" font-style="italic">H</text>
<text x="265.8" y="239" font-family='"Liberation Sans", Arial, sans-serif' font-size="16.5" text-anchor="middle" fill="#222" font-style="italic">A</text>
<text x="286.4" y="239" font-family='"Liberation Sans", Arial, sans-serif' font-size="16.5" text-anchor="middle" fill="#222" font-style="italic">LM</text>
<text x="313.5" y="239" font-family='"Liberation Sans", Arial, sans-serif' font-size="16.5" text-anchor="middle" fill="#222" font-style="italic">KH</text>
<text x="409.7" y="18" font-family='"Liberation Sans", Arial, sans-serif' font-size="15" text-anchor="middle" fill="#111" >T.B. Parity Prod.</text>
<text x="343.2" y="40" font-family='"Liberation Sans", Arial, sans-serif' font-size="15" text-anchor="start" fill="#111" >Band</text>
<text x="384.2" y="40" font-family='"Liberation Sans", Arial, sans-serif' font-size="15" fill="#111">δ<tspan font-size="10.5" dy="3.5">Γ</tspan></text>
<text x="408.6" y="40" font-family='"Liberation Sans", Arial, sans-serif' font-size="15" fill="#111">δ<tspan font-size="10.5" dy="3.5">A</tspan></text>
<text x="432.6" y="40" font-family='"Liberation Sans", Arial, sans-serif' font-size="15" fill="#111">δ<tspan font-size="10.5" dy="3.5">L</tspan></text>
<text x="454.3" y="40" font-family='"Liberation Sans", Arial, sans-serif' font-size="15" fill="#111">δ<tspan font-size="10.5" dy="3.5">M</tspan></text>
<path d="M343.2,45.3 H474.5 M380.6,45.3 V100.7 M403.9,45.3 V100.7 M427.7,45.3 V100.7 M451.1,45.3 V100.7" stroke="#111" stroke-width="1.2" fill="none"/>
<text x="360" y="63.3" font-family='"Liberation Sans", Arial, sans-serif' font-size="15" text-anchor="middle" fill="#2222ee" >135</text>
<text x="399.5" y="63.3" font-family='"Liberation Sans", Arial, sans-serif' font-size="15" text-anchor="end" fill="#111" >-1</text>
<text x="423.5" y="63.3" font-family='"Liberation Sans", Arial, sans-serif' font-size="15" text-anchor="end" fill="#111" >-1</text>
<text x="447" y="63.3" font-family='"Liberation Sans", Arial, sans-serif' font-size="15" text-anchor="end" fill="#111" >-1</text>
<text x="470.5" y="63.3" font-family='"Liberation Sans", Arial, sans-serif' font-size="15" text-anchor="end" fill="#111" >+1</text>
<text x="360" y="78.3" font-family='"Liberation Sans", Arial, sans-serif' font-size="15" text-anchor="middle" fill="#25258c" >133</text>
<text x="399.5" y="78.3" font-family='"Liberation Sans", Arial, sans-serif' font-size="15" text-anchor="end" fill="#111" >-1</text>
<text x="423.5" y="78.3" font-family='"Liberation Sans", Arial, sans-serif' font-size="15" text-anchor="end" fill="#111" >-1</text>
<text x="447" y="78.3" font-family='"Liberation Sans", Arial, sans-serif' font-size="15" text-anchor="end" fill="#111" >+1</text>
<text x="470.5" y="78.3" font-family='"Liberation Sans", Arial, sans-serif' font-size="15" text-anchor="end" fill="#111" >-1</text>
<text x="360" y="93.5" font-family='"Liberation Sans", Arial, sans-serif' font-size="15" text-anchor="middle" fill="#882288" >131</text>
<text x="399.5" y="93.5" font-family='"Liberation Sans", Arial, sans-serif' font-size="15" text-anchor="end" fill="#111" >+1</text>
<text x="423.5" y="93.5" font-family='"Liberation Sans", Arial, sans-serif' font-size="15" text-anchor="end" fill="#111" >-1</text>
<text x="447" y="93.5" font-family='"Liberation Sans", Arial, sans-serif' font-size="15" text-anchor="end" fill="#111" >-1</text>
<text x="470.5" y="93.5" font-family='"Liberation Sans", Arial, sans-serif' font-size="15" text-anchor="end" fill="#111" >-1</text>
<path d="M338.9,145.3 L371.4,130.3 L436.7,130.3 L469.5,145.3 L436.7,158 L371.4,158 Z M338.9,209 L371.4,196.2 L436.7,196.2 L469.5,209 L436.7,223.3 L371.4,223.3 Z M338.9,145.3 V209 M371.4,130.3 V223.3 M436.7,130.3 V223.3 M469.5,145.3 V209" fill="none" stroke="#1a1a1a" stroke-width="1.3" stroke-linejoin="round"/>
<path d="M403.9,146.9 L436.7,157.4 M403.9,146.9 L453.6,150.7 M436.7,157.4 L453.6,150.7 M403.9,178.7 L453.6,183.5 M403.9,178.7 L436.7,190.8 M436.7,190.8 L453.6,183.5 M403.9,146.9 L403.9,178.7 M436.7,157.4 L436.7,190.8 M453.6,150.7 L453.6,183.5 " fill="none" stroke="#e8262a" stroke-width="1.3"/>
<circle cx="403.9" cy="146.9" r="2.1" fill="#000"/>
<circle cx="436.7" cy="157.4" r="2.1" fill="#000"/>
<circle cx="453.6" cy="150.7" r="2.1" fill="#000"/>
<circle cx="453.6" cy="183.5" r="2.1" fill="#000"/>
<circle cx="436.7" cy="190.8" r="2.1" fill="#000"/>
<circle cx="403.9" cy="178.7" r="2.1" fill="#000"/>
<text x="387.3" y="152" font-family='"Liberation Sans", Arial, sans-serif' font-size="14" fill="#2b3990">A<tspan font-size="10" dy="-6">−</tspan></text>
<text x="424.5" y="171" font-family='"Liberation Sans", Arial, sans-serif' font-size="14" text-anchor="start" fill="#2b3990" >H</text>
<text x="462.5" y="161" font-family='"Liberation Sans", Arial, sans-serif' font-size="14" fill="#2b3990">L<tspan font-size="10" dy="-6">+</tspan></text>
<text x="386.7" y="187" font-family='"Liberation Sans", Arial, sans-serif' font-size="14" fill="#2b3990">Γ<tspan font-size="10" dy="-6">−</tspan></text>
<text x="462" y="196.5" font-family='"Liberation Sans", Arial, sans-serif' font-size="14" fill="#2b3990">M<tspan font-size="10" dy="-6">−</tspan></text>
<text x="425" y="205.5" font-family='"Liberation Sans", Arial, sans-serif' font-size="14" text-anchor="start" fill="#2b3990" >K</text>
<defs><filter id="bl1" filterUnits="userSpaceOnUse" x="0" y="0" width="969" height="471"><feGaussianBlur stdDeviation="0.6"/></filter><filter id="bl2" filterUnits="userSpaceOnUse" x="0" y="0" width="969" height="471"><feGaussianBlur stdDeviation="1.2"/></filter><filter id="bl3" filterUnits="userSpaceOnUse" x="0" y="0" width="969" height="471"><feGaussianBlur stdDeviation="1.8"/></filter><filter id="bl4" filterUnits="userSpaceOnUse" x="0" y="0" width="969" height="471"><feGaussianBlur stdDeviation="2.5"/></filter><filter id="bl5" filterUnits="userSpaceOnUse" x="0" y="0" width="969" height="471"><feGaussianBlur stdDeviation="3.0"/></filter><filter id="bl6" filterUnits="userSpaceOnUse" x="0" y="0" width="969" height="471"><feGaussianBlur stdDeviation="3.5"/></filter><filter id="bl8" filterUnits="userSpaceOnUse" x="0" y="0" width="969" height="471"><feGaussianBlur stdDeviation="5"/></filter><clipPath id="cpbl"><rect x="541" y="45.5" width="202" height="175.2"/></clipPath><clipPath id="cpbr"><rect x="760" y="12.7" width="201.5" height="208.0"/></clipPath></defs>
<rect x="541" y="12.7" width="202" height="32.8" fill="#440256"/>
<g clip-path="url(#cpbl)">
<rect x="541" y="45.5" width="202" height="175.2" fill="#462170"/>
<ellipse cx="600" cy="110" rx="8" ry="60" fill="#3f3c82" fill-opacity="0.6" filter="url(#bl8)"/>
<ellipse cx="690" cy="110" rx="8" ry="60" fill="#3f3c82" fill-opacity="0.5" filter="url(#bl8)"/>
<ellipse cx="545" cy="120" rx="6" ry="70" fill="#3f4a88" fill-opacity="0.8" filter="url(#bl8)"/>
<ellipse cx="740" cy="180" rx="6" ry="40" fill="#3f4a88" fill-opacity="0.8" filter="url(#bl8)"/>
<path d="M612,50 C612.5,63.33 614,101.33 615,130 C616,158.67 617.5,206.67 618,222" fill="none" stroke="#440c5e" stroke-width="10" stroke-opacity="0.9" stroke-linecap="round" filter="url(#bl6)"/>
<path d="M656,60 C655.67,71.67 654.67,110.83 654,130 C653.33,149.17 652.33,167.5 652,175" fill="none" stroke="#440c5e" stroke-width="10" stroke-opacity="0.9" stroke-linecap="round" filter="url(#bl6)"/>
<path d="M590,140 L596,222" fill="none" stroke="#440c5e" stroke-width="8" stroke-opacity="0.8" stroke-linecap="round" filter="url(#bl6)"/>
<path d="M697,140 L690,222" fill="none" stroke="#440c5e" stroke-width="8" stroke-opacity="0.7" stroke-linecap="round" filter="url(#bl6)"/>
<ellipse cx="550" cy="64" rx="12" ry="20" fill="#40b477" fill-opacity="1" filter="url(#bl8)"/>
<ellipse cx="735" cy="95" rx="8" ry="45" fill="#2a8d8b" fill-opacity="0.85" filter="url(#bl8)"/>
<ellipse cx="561" cy="175" rx="9" ry="19" fill="#3aae79" fill-opacity="0.95" filter="url(#bl8)"/>
<ellipse cx="724" cy="175" rx="9" ry="19" fill="#48bf6e" fill-opacity="0.95" filter="url(#bl8)"/>
<path d="M541,136 C542.5,139.17 547.17,149 550,155 C552.83,161 556.67,169.17 558,172" fill="none" stroke="#2c8f8a" stroke-width="7" stroke-opacity="0.9" stroke-linecap="round" filter="url(#bl6)"/>
<path d="M543,185 C543.5,188.33 545.17,198.83 546,205 C546.83,211.17 547.67,219.17 548,222" fill="none" stroke="#2a878c" stroke-width="7" stroke-opacity="0.8" stroke-linecap="round" filter="url(#bl6)"/>
<path d="M557,48 C558,53.17 561,67.5 563,79 C565,90.5 567,104.83 569,117 C571,129.17 573.17,139.83 575,152 C576.83,164.17 578.67,178.33 580,190 C581.33,201.67 582.5,216.67 583,222" fill="none" stroke="#2b9a88" stroke-width="8" stroke-opacity="1" stroke-linecap="round" filter="url(#bl6)"/>
<path d="M556,48 C556.67,50.83 558.67,58.67 560,65 C561.33,71.33 562.83,79.33 564,86 C565.17,92.67 566.5,101.83 567,105" fill="none" stroke="#6ccd5a" stroke-width="8" stroke-opacity="1" stroke-linecap="round" filter="url(#bl6)"/>
<path d="M574.7,49 C575.67,53.93 577.92,67.23 580.5,78.6 C583.08,89.97 586.65,104.33 590.2,117.2 C593.75,130.07 598.58,142.93 601.8,155.8 C605.02,168.67 607.57,183.37 609.5,194.4 C611.43,205.43 612.75,217.4 613.4,222" fill="none" stroke="#2c808e" stroke-width="8" stroke-opacity="1" stroke-linecap="round" filter="url(#bl6)"/>
<path d="M574.7,49 C575.25,51.5 576.95,58.83 578,64 C579.05,69.17 580.5,77.33 581,80" fill="none" stroke="#4ec36b" stroke-width="7" stroke-opacity="1" stroke-linecap="round" filter="url(#bl5)"/>
<path d="M603,48 C603.5,60 604.83,91 606,120 C607.17,149 609.33,205 610,222" fill="none" stroke="#3b528b" stroke-width="6" stroke-opacity="0.6" stroke-linecap="round" filter="url(#bl6)"/>
<path d="M623,49 C623.97,55.22 626.87,73 628.8,86.3 C630.73,99.6 632.67,114.02 634.6,128.8 C636.53,143.58 639.12,159.47 640.4,175 C641.68,190.53 641.98,214.17 642.3,222" fill="none" stroke="#22a085" stroke-width="7" stroke-opacity="1" stroke-linecap="round" filter="url(#bl5)"/>
<path d="M675,49 C674.7,55.22 674.47,73 673.2,86.3 C671.93,99.6 670.3,114.02 667.4,128.8 C664.5,143.58 659.02,159.47 655.8,175 C652.58,190.53 649.38,214.17 648.1,222" fill="none" stroke="#26908b" stroke-width="7" stroke-opacity="0.95" stroke-linecap="round" filter="url(#bl5)"/>
<path d="M706,49 C705.03,53.93 702.45,67.23 700.2,78.6 C697.95,89.97 695.38,104.33 692.5,117.2 C689.62,130.07 686.12,142.93 682.9,155.8 C679.68,168.67 675.78,183.37 673.2,194.4 C670.62,205.43 668.37,217.4 667.4,222" fill="none" stroke="#35a97e" stroke-width="8" stroke-opacity="1" stroke-linecap="round" filter="url(#bl6)"/>
<path d="M706.5,49 C705.92,51.5 704.08,59 703,64 C701.92,69 700.5,76.5 700,79" fill="none" stroke="#a8db34" stroke-width="7" stroke-opacity="1" stroke-linecap="round" filter="url(#bl5)"/>
<path d="M722,48 C721.83,53.33 721.67,68.5 721,80 C720.33,91.5 718.83,104.33 718,117 C717.17,129.67 716.67,143.17 716,156 C715.33,168.83 714.5,183 714,194 C713.5,205 713.17,217.33 713,222" fill="none" stroke="#52c569" stroke-width="9" stroke-opacity="1" stroke-linecap="round" filter="url(#bl6)"/>
<path d="M722.5,50 C722.42,52.67 722.25,60.67 722,66 C721.75,71.33 721.33,77.33 721,82 C720.67,86.67 720.17,92 720,94" fill="none" stroke="#f6e626" stroke-width="8" stroke-opacity="1" stroke-linecap="round" filter="url(#bl5)"/>
<path d="M743,136 C741.67,139.17 737.67,149 735,155 C732.33,161 728.33,169.17 727,172" fill="none" stroke="#2c8f8a" stroke-width="7" stroke-opacity="0.9" stroke-linecap="round" filter="url(#bl6)"/>
<path d="M740,190 C739.83,192.5 739.33,199.67 739,205 C738.67,210.33 738.17,219.17 738,222" fill="none" stroke="#2a878c" stroke-width="7" stroke-opacity="0.8" stroke-linecap="round" filter="url(#bl6)"/>
</g>
<path d="M546,45.5 H737" stroke="#fff" stroke-width="2"/>
<path d="M558.3,16 V220 M585.4,16 V220 M641,16 V220 M696.9,16 V220 M724.7,16 V220 " stroke="#fff" stroke-width="2" stroke-dasharray="4.5,4.3" fill="none"/>
<path d="M541,45.5 h5 M743,45.5 h-5 M760,45.5 h5 M961.5,45.5 h-5 M541,88.8 h5 M743,88.8 h-5 M760,88.8 h5 M961.5,88.8 h-5 M541,132.1 h5 M743,132.1 h-5 M760,132.1 h5 M961.5,132.1 h-5 M541,175.4 h5 M743,175.4 h-5 M760,175.4 h5 M961.5,175.4 h-5 M541,218.7 h5 M743,218.7 h-5 M760,218.7 h5 M961.5,218.7 h-5 " stroke="#000" stroke-width="1.4"/>
<rect x="541" y="12.7" width="202" height="208.0" fill="none" stroke="#111" stroke-width="1.5"/>
<g clip-path="url(#cpbr)">
<rect x="760" y="12.7" width="201.5" height="208.0" fill="#440154"/>
<path d="M762.6,46 Q767.6,28 769.6,13 L786.6,13 Q788.6,28 793.6,46 Z" fill="#23878d" filter="url(#bl2)" opacity="0.85"/>
<path d="M770.6,46 Q773.6,30 774.6,13 L780.6,13 Q781.6,30 784.6,46 Z" fill="#35a880" filter="url(#bl2)" opacity="0.45"/>
<path d="M769.6,46 L786.6,46 Q794.6,55 798.6,78 L791.6,82 Q785.6,62 777.6,58 Q769.6,62 763.6,75 L759.6,70 Q764.6,52 769.6,46 Z" fill="#24868e" filter="url(#bl3)" opacity="0.8"/>
<path d="M958.6,46 Q953.6,28 951.6,13 L934.6,13 Q932.6,28 927.6,46 Z" fill="#23878d" filter="url(#bl2)" opacity="0.85"/>
<path d="M950.6,46 Q947.6,30 946.6,13 L940.6,13 Q939.6,30 936.6,46 Z" fill="#35a880" filter="url(#bl2)" opacity="0.45"/>
<path d="M951.6,46 L934.6,46 Q926.6,55 922.6,78 L929.6,82 Q935.6,62 943.6,58 Q951.6,62 957.6,75 L961.6,70 Q956.6,52 951.6,46 Z" fill="#24868e" filter="url(#bl3)" opacity="0.8"/>
<path d="M842,13 C842.58,19.17 844.33,37.17 845.5,50 C846.67,62.83 847.83,76.67 849,90 C850.17,103.33 851.33,115.83 852.5,130 C853.67,144.17 854.83,159.67 856,175 C857.17,190.33 858.92,214.17 859.5,222" fill="none" stroke="#2a788e" stroke-width="8" stroke-opacity="0.95" stroke-linecap="round" filter="url(#bl4)"/>
<path d="M879.2,13 C878.62,19.17 876.87,37.17 875.7,50 C874.53,62.83 873.37,76.67 872.2,90 C871.03,103.33 869.87,115.83 868.7,130 C867.53,144.17 866.37,159.67 865.2,175 C864.03,190.33 862.28,214.17 861.7,222" fill="none" stroke="#2a788e" stroke-width="8" stroke-opacity="0.95" stroke-linecap="round" filter="url(#bl4)"/>
<path d="M759,72 C760,76.67 763,91 765,100 C767,109 768.9,117.33 771,126 C773.1,134.67 775.6,143.83 777.6,152 C779.6,160.17 781.27,167.33 783,175 C784.73,182.67 786.17,190.17 788,198 C789.83,205.83 793,218 794,222" fill="none" stroke="#1f9e89" stroke-width="3.2" stroke-opacity="0.55" stroke-linecap="round" filter="url(#bl2)"/>
<path d="M962.2,72 C961.2,76.67 958.2,91 956.2,100 C954.2,109 952.3,117.33 950.2,126 C948.1,134.67 945.6,143.83 943.6,152 C941.6,160.17 939.93,167.33 938.2,175 C936.47,182.67 935.03,190.17 933.2,198 C931.37,205.83 928.2,218 927.2,222" fill="none" stroke="#1f9e89" stroke-width="3.2" stroke-opacity="0.55" stroke-linecap="round" filter="url(#bl2)"/>
<path d="M759,72 C760,76.67 763,91 765,100 C767,109 768.9,117.33 771,126 C773.1,134.67 775.6,143.83 777.6,152 C779.6,160.17 781.27,167.33 783,175 C784.73,182.67 786.17,190.17 788,198 C789.83,205.83 793,218 794,222" fill="none" stroke="#22a884" stroke-width="1.3" stroke-opacity="0.9" stroke-linecap="round" filter="url(#bl1)"/>
<path d="M962.2,72 C961.2,76.67 958.2,91 956.2,100 C954.2,109 952.3,117.33 950.2,126 C948.1,134.67 945.6,143.83 943.6,152 C941.6,160.17 939.93,167.33 938.2,175 C936.47,182.67 935.03,190.17 933.2,198 C931.37,205.83 928.2,218 927.2,222" fill="none" stroke="#22a884" stroke-width="1.3" stroke-opacity="0.9" stroke-linecap="round" filter="url(#bl1)"/>
<path d="M797,66 C796,71.67 793.08,90 791,100 C788.92,110 786.73,117.33 784.5,126 C782.27,134.67 779.68,143.83 777.6,152 C775.52,160.17 773.77,167.33 772,175 C770.23,182.67 768.83,190.17 767,198 C765.17,205.83 762,218 761,222" fill="none" stroke="#1f9e89" stroke-width="3.2" stroke-opacity="0.55" stroke-linecap="round" filter="url(#bl2)"/>
<path d="M924.2,66 C925.2,71.67 928.12,90 930.2,100 C932.28,110 934.47,117.33 936.7,126 C938.93,134.67 941.52,143.83 943.6,152 C945.68,160.17 947.43,167.33 949.2,175 C950.97,182.67 952.37,190.17 954.2,198 C956.03,205.83 959.2,218 960.2,222" fill="none" stroke="#1f9e89" stroke-width="3.2" stroke-opacity="0.55" stroke-linecap="round" filter="url(#bl2)"/>
<path d="M797,66 C796,71.67 793.08,90 791,100 C788.92,110 786.73,117.33 784.5,126 C782.27,134.67 779.68,143.83 777.6,152 C775.52,160.17 773.77,167.33 772,175 C770.23,182.67 768.83,190.17 767,198 C765.17,205.83 762,218 761,222" fill="none" stroke="#22a884" stroke-width="1.3" stroke-opacity="0.9" stroke-linecap="round" filter="url(#bl1)"/>
<path d="M924.2,66 C925.2,71.67 928.12,90 930.2,100 C932.28,110 934.47,117.33 936.7,126 C938.93,134.67 941.52,143.83 943.6,152 C945.68,160.17 947.43,167.33 949.2,175 C950.97,182.67 952.37,190.17 954.2,198 C956.03,205.83 959.2,218 960.2,222" fill="none" stroke="#22a884" stroke-width="1.3" stroke-opacity="0.9" stroke-linecap="round" filter="url(#bl1)"/>
<path d="M816.8,13.5 C817.17,17.92 818.05,30.25 819,40 C819.95,49.75 821.33,61.17 822.5,72 C823.67,82.83 824.82,93.67 826,105 C827.18,116.33 828.43,127.5 829.6,140 C830.77,152.5 831.93,166.33 833,180 C834.07,193.67 835.5,215 836,222" fill="none" stroke="#1f9e89" stroke-width="3.2" stroke-opacity="0.55" stroke-linecap="round" filter="url(#bl2)"/>
<path d="M904.4,13.5 C904.03,17.92 903.15,30.25 902.2,40 C901.25,49.75 899.87,61.17 898.7,72 C897.53,82.83 896.38,93.67 895.2,105 C894.02,116.33 892.77,127.5 891.6,140 C890.43,152.5 889.27,166.33 888.2,180 C887.13,193.67 885.7,215 885.2,222" fill="none" stroke="#1f9e89" stroke-width="3.2" stroke-opacity="0.55" stroke-linecap="round" filter="url(#bl2)"/>
<path d="M816.8,13.5 C817.17,17.92 818.05,30.25 819,40 C819.95,49.75 821.33,61.17 822.5,72 C823.67,82.83 824.82,93.67 826,105 C827.18,116.33 828.43,127.5 829.6,140 C830.77,152.5 831.93,166.33 833,180 C834.07,193.67 835.5,215 836,222" fill="none" stroke="#22a884" stroke-width="1.3" stroke-opacity="0.9" stroke-linecap="round" filter="url(#bl1)"/>
<path d="M904.4,13.5 C904.03,17.92 903.15,30.25 902.2,40 C901.25,49.75 899.87,61.17 898.7,72 C897.53,82.83 896.38,93.67 895.2,105 C894.02,116.33 892.77,127.5 891.6,140 C890.43,152.5 889.27,166.33 888.2,180 C887.13,193.67 885.7,215 885.2,222" fill="none" stroke="#22a884" stroke-width="1.3" stroke-opacity="0.9" stroke-linecap="round" filter="url(#bl1)"/>
<path d="M827.3,13.5 C826.92,17.92 825.8,30.25 825,40 C824.2,49.75 823.42,61.17 822.5,72 C821.58,82.83 820.43,93.67 819.5,105 C818.57,116.33 817.65,127.5 816.9,140 C816.15,152.5 815.55,166.33 815,180 C814.45,193.67 813.83,215 813.6,222" fill="none" stroke="#1f9e89" stroke-width="3.2" stroke-opacity="0.55" stroke-linecap="round" filter="url(#bl2)"/>
<path d="M893.9,13.5 C894.28,17.92 895.4,30.25 896.2,40 C897,49.75 897.78,61.17 898.7,72 C899.62,82.83 900.77,93.67 901.7,105 C902.63,116.33 903.55,127.5 904.3,140 C905.05,152.5 905.65,166.33 906.2,180 C906.75,193.67 907.37,215 907.6,222" fill="none" stroke="#1f9e89" stroke-width="3.2" stroke-opacity="0.55" stroke-linecap="round" filter="url(#bl2)"/>
<path d="M827.3,13.5 C826.92,17.92 825.8,30.25 825,40 C824.2,49.75 823.42,61.17 822.5,72 C821.58,82.83 820.43,93.67 819.5,105 C818.57,116.33 817.65,127.5 816.9,140 C816.15,152.5 815.55,166.33 815,180 C814.45,193.67 813.83,215 813.6,222" fill="none" stroke="#22a884" stroke-width="1.3" stroke-opacity="0.9" stroke-linecap="round" filter="url(#bl1)"/>
<path d="M893.9,13.5 C894.28,17.92 895.4,30.25 896.2,40 C897,49.75 897.78,61.17 898.7,72 C899.62,82.83 900.77,93.67 901.7,105 C902.63,116.33 903.55,127.5 904.3,140 C905.05,152.5 905.65,166.33 906.2,180 C906.75,193.67 907.37,215 907.6,222" fill="none" stroke="#22a884" stroke-width="1.3" stroke-opacity="0.9" stroke-linecap="round" filter="url(#bl1)"/>
<path d="M766,13 C766.83,15 769.07,19.83 771,25 C772.93,30.17 776.5,40.83 777.6,44" fill="none" stroke="#1f9e89" stroke-width="3.2" stroke-opacity="0.55" stroke-linecap="round" filter="url(#bl2)"/>
<path d="M955.2,13 C954.37,15 952.13,19.83 950.2,25 C948.27,30.17 944.7,40.83 943.6,44" fill="none" stroke="#1f9e89" stroke-width="3.2" stroke-opacity="0.55" stroke-linecap="round" filter="url(#bl2)"/>
<path d="M766,13 C766.83,15 769.07,19.83 771,25 C772.93,30.17 776.5,40.83 777.6,44" fill="none" stroke="#22a884" stroke-width="1.3" stroke-opacity="0.9" stroke-linecap="round" filter="url(#bl1)"/>
<path d="M955.2,13 C954.37,15 952.13,19.83 950.2,25 C948.27,30.17 944.7,40.83 943.6,44" fill="none" stroke="#22a884" stroke-width="1.3" stroke-opacity="0.9" stroke-linecap="round" filter="url(#bl1)"/>
<path d="M789,13 C788.17,15 785.9,19.83 784,25 C782.1,30.17 778.67,40.83 777.6,44" fill="none" stroke="#1f9e89" stroke-width="3.2" stroke-opacity="0.55" stroke-linecap="round" filter="url(#bl2)"/>
<path d="M932.2,13 C933.03,15 935.3,19.83 937.2,25 C939.1,30.17 942.53,40.83 943.6,44" fill="none" stroke="#1f9e89" stroke-width="3.2" stroke-opacity="0.55" stroke-linecap="round" filter="url(#bl2)"/>
<path d="M789,13 C788.17,15 785.9,19.83 784,25 C782.1,30.17 778.67,40.83 777.6,44" fill="none" stroke="#22a884" stroke-width="1.3" stroke-opacity="0.9" stroke-linecap="round" filter="url(#bl1)"/>
<path d="M932.2,13 C933.03,15 935.3,19.83 937.2,25 C939.1,30.17 942.53,40.83 943.6,44" fill="none" stroke="#22a884" stroke-width="1.3" stroke-opacity="0.9" stroke-linecap="round" filter="url(#bl1)"/>
<path d="M777.6,46 L777.6,222" fill="none" stroke="#1f9e89" stroke-width="3.2" stroke-opacity="0.55" stroke-linecap="round" filter="url(#bl2)"/>
<path d="M943.6,46 L943.6,222" fill="none" stroke="#1f9e89" stroke-width="3.2" stroke-opacity="0.55" stroke-linecap="round" filter="url(#bl2)"/>
<path d="M777.6,46 L777.6,222" fill="none" stroke="#22a884" stroke-width="1.3" stroke-opacity="0.9" stroke-linecap="round" filter="url(#bl1)"/>
<path d="M943.6,46 L943.6,222" fill="none" stroke="#22a884" stroke-width="1.3" stroke-opacity="0.9" stroke-linecap="round" filter="url(#bl1)"/>
<path d="M777.6,45.2 C778.33,45.38 780.43,45.58 782,46.3 C783.57,47.02 785.33,47.63 787,49.5 C788.67,51.37 790.42,54.17 792,57.5 C793.58,60.83 795.08,65 796.5,69.5 C797.92,74 799.42,80 800.5,84.5 C801.58,89 802.28,93.25 803,96.5 C803.72,99.75 804.5,100.75 804.8,104 C805.1,107.25 804.43,112 804.8,116 C805.17,120 806.15,124 807,128 C807.85,132 808.9,134.67 809.9,140 C810.9,145.33 811.82,151.67 813,160 C814.18,168.33 815.67,179.67 817,190 C818.33,200.33 820.33,216.67 821,222" fill="none" stroke="#4ec36b" stroke-width="3" stroke-opacity="0.4" stroke-linecap="round" filter="url(#bl2)"/>
<path d="M943.6,45.2 C942.87,45.38 940.77,45.58 939.2,46.3 C937.63,47.02 935.87,47.63 934.2,49.5 C932.53,51.37 930.78,54.17 929.2,57.5 C927.62,60.83 926.12,65 924.7,69.5 C923.28,74 921.78,80 920.7,84.5 C919.62,89 918.92,93.25 918.2,96.5 C917.48,99.75 916.7,100.75 916.4,104 C916.1,107.25 916.77,112 916.4,116 C916.03,120 915.05,124 914.2,128 C913.35,132 912.3,134.67 911.3,140 C910.3,145.33 909.38,151.67 908.2,160 C907.02,168.33 905.53,179.67 904.2,190 C902.87,200.33 900.87,216.67 900.2,222" fill="none" stroke="#4ec36b" stroke-width="3" stroke-opacity="0.4" stroke-linecap="round" filter="url(#bl2)"/>
<path d="M777.6,45.2 C778.33,45.38 780.43,45.58 782,46.3 C783.57,47.02 785.33,47.63 787,49.5 C788.67,51.37 790.42,54.17 792,57.5 C793.58,60.83 795.08,65 796.5,69.5 C797.92,74 799.42,80 800.5,84.5 C801.58,89 802.28,93.25 803,96.5 C803.72,99.75 804.5,100.75 804.8,104 C805.1,107.25 804.43,112 804.8,116 C805.17,120 806.15,124 807,128 C807.85,132 808.9,134.67 809.9,140 C810.9,145.33 811.82,151.67 813,160 C814.18,168.33 815.67,179.67 817,190 C818.33,200.33 820.33,216.67 821,222" fill="none" stroke="#b5de2b" stroke-width="1.2" stroke-opacity="1" stroke-linecap="round" filter="url(#bl1)"/>
<path d="M943.6,45.2 C942.87,45.38 940.77,45.58 939.2,46.3 C937.63,47.02 935.87,47.63 934.2,49.5 C932.53,51.37 930.78,54.17 929.2,57.5 C927.62,60.83 926.12,65 924.7,69.5 C923.28,74 921.78,80 920.7,84.5 C919.62,89 918.92,93.25 918.2,96.5 C917.48,99.75 916.7,100.75 916.4,104 C916.1,107.25 916.77,112 916.4,116 C916.03,120 915.05,124 914.2,128 C913.35,132 912.3,134.67 911.3,140 C910.3,145.33 909.38,151.67 908.2,160 C907.02,168.33 905.53,179.67 904.2,190 C902.87,200.33 900.87,216.67 900.2,222" fill="none" stroke="#b5de2b" stroke-width="1.2" stroke-opacity="1" stroke-linecap="round" filter="url(#bl1)"/>
<path d="M757.5,55 C758,54.33 759.42,52.08 760.5,51 C761.58,49.92 763.42,48.92 764,48.5" fill="none" stroke="#4ec36b" stroke-width="3" stroke-opacity="0.4" stroke-linecap="round" filter="url(#bl2)"/>
<path d="M963.7,55 C963.2,54.33 961.78,52.08 960.7,51 C959.62,49.92 957.78,48.92 957.2,48.5" fill="none" stroke="#4ec36b" stroke-width="3" stroke-opacity="0.4" stroke-linecap="round" filter="url(#bl2)"/>
<path d="M757.5,55 C758,54.33 759.42,52.08 760.5,51 C761.58,49.92 763.42,48.92 764,48.5" fill="none" stroke="#b5de2b" stroke-width="1.2" stroke-opacity="1" stroke-linecap="round" filter="url(#bl1)"/>
<path d="M963.7,55 C963.2,54.33 961.78,52.08 960.7,51 C959.62,49.92 957.78,48.92 957.2,48.5" fill="none" stroke="#b5de2b" stroke-width="1.2" stroke-opacity="1" stroke-linecap="round" filter="url(#bl1)"/>
<path d="M758,167 C759.17,169.5 763,178.17 765,182 C767,185.83 768.17,187.83 770,190 C771.83,192.17 774,194.83 776,195 C778,195.17 780,193.5 782,191 C784,188.5 786,185.33 788,180 C790,174.67 792.17,165.67 794,159 C795.83,152.33 797.58,145.5 799,140 C800.42,134.5 801.53,130 802.5,126 C803.47,122 804.42,119.67 804.8,116 C805.18,112.33 804.43,108 804.8,104 C805.17,100 806.15,96 807,92 C807.85,88 808.98,86.17 809.9,80 C810.82,73.83 811.73,62.5 812.5,55 C813.27,47.5 813.78,42 814.5,35 C815.22,28 816.42,16.67 816.8,13" fill="none" stroke="#4ec36b" stroke-width="3" stroke-opacity="0.4" stroke-linecap="round" filter="url(#bl2)"/>
<path d="M963.2,167 C962.03,169.5 958.2,178.17 956.2,182 C954.2,185.83 953.03,187.83 951.2,190 C949.37,192.17 947.2,194.83 945.2,195 C943.2,195.17 941.2,193.5 939.2,191 C937.2,188.5 935.2,185.33 933.2,180 C931.2,174.67 929.03,165.67 927.2,159 C925.37,152.33 923.62,145.5 922.2,140 C920.78,134.5 919.67,130 918.7,126 C917.73,122 916.78,119.67 916.4,116 C916.02,112.33 916.77,108 916.4,104 C916.03,100 915.05,96 914.2,92 C913.35,88 912.22,86.17 911.3,80 C910.38,73.83 909.47,62.5 908.7,55 C907.93,47.5 907.42,42 906.7,35 C905.98,28 904.78,16.67 904.4,13" fill="none" stroke="#4ec36b" stroke-width="3" stroke-opacity="0.4" stroke-linecap="round" filter="url(#bl2)"/>
<path d="M758,167 C759.17,169.5 763,178.17 765,182 C767,185.83 768.17,187.83 770,190 C771.83,192.17 774,194.83 776,195 C778,195.17 780,193.5 782,191 C784,188.5 786,185.33 788,180 C790,174.67 792.17,165.67 794,159 C795.83,152.33 797.58,145.5 799,140 C800.42,134.5 801.53,130 802.5,126 C803.47,122 804.42,119.67 804.8,116 C805.18,112.33 804.43,108 804.8,104 C805.17,100 806.15,96 807,92 C807.85,88 808.98,86.17 809.9,80 C810.82,73.83 811.73,62.5 812.5,55 C813.27,47.5 813.78,42 814.5,35 C815.22,28 816.42,16.67 816.8,13" fill="none" stroke="#b5de2b" stroke-width="1.2" stroke-opacity="1" stroke-linecap="round" filter="url(#bl1)"/>
<path d="M963.2,167 C962.03,169.5 958.2,178.17 956.2,182 C954.2,185.83 953.03,187.83 951.2,190 C949.37,192.17 947.2,194.83 945.2,195 C943.2,195.17 941.2,193.5 939.2,191 C937.2,188.5 935.2,185.33 933.2,180 C931.2,174.67 929.03,165.67 927.2,159 C925.37,152.33 923.62,145.5 922.2,140 C920.78,134.5 919.67,130 918.7,126 C917.73,122 916.78,119.67 916.4,116 C916.02,112.33 916.77,108 916.4,104 C916.03,100 915.05,96 914.2,92 C913.35,88 912.22,86.17 911.3,80 C910.38,73.83 909.47,62.5 908.7,55 C907.93,47.5 907.42,42 906.7,35 C905.98,28 904.78,16.67 904.4,13" fill="none" stroke="#b5de2b" stroke-width="1.2" stroke-opacity="1" stroke-linecap="round" filter="url(#bl1)"/>
<path d="M770,172 C770.5,170 771.73,163.17 773,160 C774.27,156.83 776.1,153 777.6,153 C779.1,153 780.77,156.83 782,160 C783.23,163.17 784.5,170 785,172" fill="none" stroke="#8fd744" stroke-width="3" stroke-opacity="0.5" stroke-linecap="round" filter="url(#bl2)"/>
<path d="M951.2,172 C950.7,170 949.47,163.17 948.2,160 C946.93,156.83 945.1,153 943.6,153 C942.1,153 940.43,156.83 939.2,160 C937.97,163.17 936.7,170 936.2,172" fill="none" stroke="#8fd744" stroke-width="3" stroke-opacity="0.5" stroke-linecap="round" filter="url(#bl2)"/>
<path d="M770,172 C770.5,170 771.73,163.17 773,160 C774.27,156.83 776.1,153 777.6,153 C779.1,153 780.77,156.83 782,160 C783.23,163.17 784.5,170 785,172" fill="none" stroke="#dde318" stroke-width="1.4" stroke-opacity="1" stroke-linecap="round" filter="url(#bl1)"/>
<path d="M951.2,172 C950.7,170 949.47,163.17 948.2,160 C946.93,156.83 945.1,153 943.6,153 C942.1,153 940.43,156.83 939.2,160 C937.97,163.17 936.7,170 936.2,172" fill="none" stroke="#dde318" stroke-width="1.4" stroke-opacity="1" stroke-linecap="round" filter="url(#bl1)"/>
<path d="M769,190 C769.67,190.58 771.57,192.58 773,193.5 C774.43,194.42 776.1,195.5 777.6,195.5 C779.1,195.5 780.6,194.42 782,193.5 C783.4,192.58 785.33,190.58 786,190" fill="none" stroke="#e5e419" stroke-width="1.6" stroke-opacity="1" stroke-linecap="round" filter="url(#bl1)"/>
<path d="M952.2,190 C951.53,190.58 949.63,192.58 948.2,193.5 C946.77,194.42 945.1,195.5 943.6,195.5 C942.1,195.5 940.6,194.42 939.2,193.5 C937.8,192.58 935.87,190.58 935.2,190" fill="none" stroke="#e5e419" stroke-width="1.6" stroke-opacity="1" stroke-linecap="round" filter="url(#bl1)"/>
</g>
<path d="M765.8,45.5 H956" stroke="#fff" stroke-width="2"/>
<path d="M777.7,16 V220 M805.4,16 V220 M860.6,16 V220 M916,16 V220 M943.7,16 V220 " stroke="#fff" stroke-width="2" stroke-dasharray="4.5,4.3" fill="none"/>
<path d="M541,45.5 h5 M743,45.5 h-5 M760,45.5 h5 M961.5,45.5 h-5 M541,88.8 h5 M743,88.8 h-5 M760,88.8 h5 M961.5,88.8 h-5 M541,132.1 h5 M743,132.1 h-5 M760,132.1 h5 M961.5,132.1 h-5 M541,175.4 h5 M743,175.4 h-5 M760,175.4 h5 M961.5,175.4 h-5 M541,218.7 h5 M743,218.7 h-5 M760,218.7 h5 M961.5,218.7 h-5 " stroke="#000" stroke-width="1.4"/>
<rect x="760" y="12.7" width="201.5" height="208.0" fill="none" stroke="#111" stroke-width="1.5"/>
<text x="516" y="26.5" font-family='"Liberation Serif", "Times New Roman", serif' font-size="18" text-anchor="start" fill="#000" >(b)</text>
<text x="537" y="48.9" font-family='"Liberation Sans", Arial, sans-serif' font-size="16.3" text-anchor="end" fill="#222" >0.0</text>
<text x="537" y="92.2" font-family='"Liberation Sans", Arial, sans-serif' font-size="16.3" text-anchor="end" fill="#222" >-0.2</text>
<text x="537" y="135.5" font-family='"Liberation Sans", Arial, sans-serif' font-size="16.3" text-anchor="end" fill="#222" >-0.4</text>
<text x="537" y="178.8" font-family='"Liberation Sans", Arial, sans-serif' font-size="16.3" text-anchor="end" fill="#222" >-0.6</text>
<text x="537" y="216.5" font-family='"Liberation Sans", Arial, sans-serif' font-size="16.3" text-anchor="end" fill="#222" >-0.8</text>
<text x="0" y="0" font-family='"Liberation Sans", Arial, sans-serif' font-size="18.5" text-anchor="middle" fill="#000" transform="translate(502,124) rotate(-90)">E(eV)</text>
<text x="556.5" y="241" font-family='"Liberation Sans", Arial, sans-serif' font-size="16.5" text-anchor="middle" fill="#222" font-style="italic">M</text>
<path d="M552.3,226.8 h11.5" stroke="#333" stroke-width="1.7"/>
<text x="583.6" y="241" font-family='"Liberation Sans", Arial, sans-serif' font-size="16.5" text-anchor="middle" fill="#222" font-style="italic">K</text>
<path d="M579.4,226.8 h11.5" stroke="#333" stroke-width="1.7"/>
<text x="639.2" y="241" font-family='"Liberation Sans", Arial, sans-serif' font-size="16.5" text-anchor="middle" fill="#222" font-style="italic">Γ</text>
<path d="M635,226.8 h11.5" stroke="#333" stroke-width="1.7"/>
<text x="695.1" y="241" font-family='"Liberation Sans", Arial, sans-serif' font-size="16.5" text-anchor="middle" fill="#222" font-style="italic">K</text>
<path d="M690.9,226.8 h11.5" stroke="#333" stroke-width="1.7"/>
<text x="722.9" y="241" font-family='"Liberation Sans", Arial, sans-serif' font-size="16.5" text-anchor="middle" fill="#222" font-style="italic">M</text>
<path d="M718.7,226.8 h11.5" stroke="#333" stroke-width="1.7"/>
<text x="775.9" y="241" font-family='"Liberation Sans", Arial, sans-serif' font-size="16.5" text-anchor="middle" fill="#222" font-style="italic">M</text>
<path d="M771.7,226.8 h11.5" stroke="#333" stroke-width="1.7"/>
<text x="803.6" y="241" font-family='"Liberation Sans", Arial, sans-serif' font-size="16.5" text-anchor="middle" fill="#222" font-style="italic">K</text>
<path d="M799.4,226.8 h11.5" stroke="#333" stroke-width="1.7"/>
<text x="858.8" y="241" font-family='"Liberation Sans", Arial, sans-serif' font-size="16.5" text-anchor="middle" fill="#222" font-style="italic">Γ</text>
<path d="M854.6,226.8 h11.5" stroke="#333" stroke-width="1.7"/>
<text x="914.2" y="241" font-family='"Liberation Sans", Arial, sans-serif' font-size="16.5" text-anchor="middle" fill="#222" font-style="italic">K</text>
<path d="M910,226.8 h11.5" stroke="#333" stroke-width="1.7"/>
<text x="941.9" y="241" font-family='"Liberation Sans", Arial, sans-serif' font-size="16.5" text-anchor="middle" fill="#222" font-style="italic">M</text>
<path d="M937.7,226.8 h11.5" stroke="#333" stroke-width="1.7"/>
<defs><clipPath id="cpc"><path d="M97.5,259.6 L185.8,274.4 L212.9,345.9 L213.1,388.4 L155,446.5 L66.6,432 L38.8,359.1 L38.6,316.6 Z"/></clipPath><linearGradient id="redg" x1="0" x2="1"><stop offset="0" stop-color="#c06e62"/><stop offset="0.4" stop-color="#b0615a"/><stop offset="1" stop-color="#8a4842"/></linearGradient><linearGradient id="blug" x1="0" x2="1" y1="0" y2="1"><stop offset="0" stop-color="#587aa2"/><stop offset="1" stop-color="#445f88"/></linearGradient></defs>
<g clip-path="url(#cpc)">
<path d="M97.5,259.6 L185.8,274.4 L212.9,345.9 L213.1,388.4 L155,446.5 L66.6,432 L38.8,359.1 L38.6,316.6 Z" fill="url(#blug)"/>
<path d="M38.6,316.6 L97.5,259.6 L90,266 L85,276 L72,284 L59.8,300 L56.6,316 L50,319 Z" fill="#fff"/>
<path d="M38,320 L60,300 L50,345 L38,340 Z" fill="#fff"/>
<ellipse cx="126" cy="264.4" rx="11" ry="10" fill="#fff" transform="rotate(0 126 264.4)"/>
<ellipse cx="159" cy="271" rx="11" ry="10" fill="#fff" transform="rotate(0 159 271)"/>
<ellipse cx="100" cy="261" rx="4" ry="6" fill="#fff" transform="rotate(0 100 261)"/>
<ellipse cx="191.22" cy="288.7" rx="9" ry="9" fill="#fff"/><ellipse cx="200.25" cy="312.53" rx="9" ry="9" fill="#fff"/><ellipse cx="209.29" cy="336.37" rx="9" ry="9" fill="#fff"/>
<path d="M86,440 L92,418 L100,412 L112,418 L118,440 Z" fill="#63613f"/>
<path d="M114,430 L122,414 L136,411 L140,426 L134,444 Z" fill="#737049"/>
<path d="M172,432 L174,396 L188,386 L190,420 Z" fill="#737049"/>
<path d="M40,362 L52,372 L62,392 L46,388 Z" fill="#737049"/>
<ellipse cx="75.44" cy="433.45" rx="11.5" ry="11" fill="#fff" transform="rotate(0 75.44 433.45)"/>
<ellipse cx="98.42" cy="437.22" rx="11.5" ry="11" fill="#fff" transform="rotate(0 98.42 437.22)"/>
<ellipse cx="123.18" cy="441.28" rx="11.5" ry="11" fill="#fff" transform="rotate(0 123.18 441.28)"/>
<ellipse cx="146.16" cy="445.05" rx="11.5" ry="11" fill="#fff" transform="rotate(0 146.16 445.05)"/>
<ellipse cx="166.62" cy="434.88" rx="10.5" ry="10.5" fill="#fff" transform="rotate(0 166.62 434.88)"/>
<ellipse cx="184.05" cy="417.45" rx="10.5" ry="10.5" fill="#fff" transform="rotate(0 184.05 417.45)"/>
<ellipse cx="201.48" cy="400.02" rx="10.5" ry="10.5" fill="#fff" transform="rotate(0 201.48 400.02)"/>
<ellipse cx="47.14" cy="380.97" rx="8" ry="8" fill="#fff" transform="rotate(0 47.14 380.97)"/>
<ellipse cx="59.65" cy="413.77" rx="8" ry="8" fill="#fff" transform="rotate(0 59.65 413.77)"/>
<ellipse cx="102" cy="402" rx="10" ry="6.5" fill="#fff" transform="rotate(15 102 402)"/>
<ellipse cx="124" cy="406.5" rx="12" ry="6.5" fill="#fff" transform="rotate(5 124 406.5)"/>
<ellipse cx="173.5" cy="392.7" rx="9" ry="5.5" fill="#fff" transform="rotate(-35 173.5 392.7)"/>
<ellipse cx="195" cy="400.5" rx="5.5" ry="8.5" fill="#fff" transform="rotate(-15 195 400.5)"/>
<ellipse cx="206" cy="378" rx="4" ry="8" fill="#fff" transform="rotate(-10 206 378)"/>
<path d="M80,303 C83.73,299.5 89.73,296.17 96.4,294 C103.07,291.83 112.9,291 120,290 C127.1,289 134.33,286.67 139,288 C143.67,289.33 143.33,295 148,298 C152.67,301 161.67,303 167,306 C172.33,309 178.17,311.17 180,316 C181.83,320.83 178.58,329.17 178,335 C177.42,340.83 178,346.67 176.5,351 C175,355.33 173.42,357.67 169,361 C164.58,364.33 156.8,367.67 150,371 C143.2,374.33 134.75,379.83 128.2,381 C121.65,382.17 116.53,380.17 110.7,378 C104.87,375.83 98.98,372.67 93.2,368 C87.42,363.33 79.2,355.5 76,350 C72.8,344.5 74.33,340.83 74,335 C73.67,329.17 73,320.33 74,315 C75,309.67 76.27,306.5 80,303 Z" fill="#fff"/>
<path d="M72,321 L104,330 L104,343 L72,336 Z" fill="#737049"/>
<path d="M152,328 L181,323 L181,341 L152,346 Z" fill="#63613f"/>
<path d="M92,300 L113,312 L107,320 L86,308 Z" fill="#737049"/>
<path d="M144,296 L166,306 L158,316 L139,305 Z" fill="#737049"/>
<ellipse cx="91" cy="309" rx="6" ry="6" fill="#4e6d96" transform="rotate(0 91 309)"/>
<path d="M99.6,329 Q100.5,346 108.5,356 Q98,366 99,378 Q108,391 127.4,391 Q149,390 156.5,377 Q158,366 147.5,356 Q155,346 155.4,329 Z" fill="url(#redg)"/>
<ellipse cx="127.4" cy="328" rx="26.5" ry="21" fill="#9c5048"/>
<path d="M101,328 A26.5,21 0 0 1 127.4,307 Q116,327 124,349 Q108,345 101,328 Z" fill="#b3645a" opacity="0.85"/>
<ellipse cx="130" cy="350" rx="11.5" ry="3.2" fill="#fff"/>
<ellipse cx="127.4" cy="328" rx="27.5" ry="22" fill="none" stroke="#8c8c8c" stroke-width="3"/>
<path d="M106,343 Q128,333 150,343" fill="none" stroke="#8c8c8c" stroke-width="2.2"/>
<path d="M104,357 Q110,372 128,374 Q146,372 151,357" fill="none" stroke="#8c8c8c" stroke-width="2.2"/>
<path d="M70.9,292.1 C76.2,287.32 87.63,286.23 96.4,284.1 C105.17,281.97 116.07,280.63 123.5,279.3 C130.93,277.97 136.5,274.5 141,276.1 C145.5,277.7 145.73,285.45 150.5,288.9 C155.27,292.35 162.7,293.35 169.6,296.8 C176.5,300.25 188.7,304.28 191.9,309.6 C195.1,314.92 189.58,322.33 188.8,328.7 C188.02,335.07 188.27,342.5 187.2,347.8 C186.13,353.1 185.6,356.38 182.4,360.5 C179.2,364.62 174.9,368.92 168,372.5 C161.1,376.08 150,378.75 141,382 C132,385.25 120.83,391.67 114,392 C107.17,392.33 105.25,386.17 100,384 C94.75,381.83 88.4,383 82.5,379 C76.6,375 67.85,367.33 64.6,360 C61.35,352.67 63,342.87 63,335 C63,327.13 63.28,319.95 64.6,312.8 C65.92,305.65 65.6,296.88 70.9,292.1 Z" fill="none" stroke="#737049" stroke-width="16" stroke-linejoin="round"/>
<path d="M191.9,309.6 C191.38,312.78 189.58,322.33 188.8,328.7 C188.02,335.07 188.27,342.5 187.2,347.8 C186.13,353.1 185.6,356.38 182.4,360.5 C179.2,364.62 174.9,368.92 168,372.5 C161.1,376.08 150,378.75 141,382 C132,385.25 118.5,390.33 114,392" fill="none" stroke="#63613f" stroke-width="6" stroke-linejoin="round" opacity="0.6" transform="translate(2,3)"/>
<path d="M130,280 L136,267 L141,276 L149,270 L156,284 Z" fill="#737049"/>
<path d="M185,305 L200,300 L206,318 L192,318 Z" fill="#737049"/>
<path d="M176,368 L196,372 L204,388 L186,384 Z" fill="#737049"/>
<path d="M106,388 L120,394 L116,404 L100,398 Z" fill="#737049"/>
<path d="M58,352 L70,362 L66,376 L50,370 Z" fill="#737049"/>
<path d="M44,330 L62,322 L66,342 L48,350 Z" fill="#737049"/>
<ellipse cx="176" cy="289" rx="6" ry="3" fill="#fff" transform="rotate(20 176 289)"/>
<ellipse cx="193" cy="330" rx="3" ry="6" fill="#fff" transform="rotate(0 193 330)"/>
<ellipse cx="191" cy="350" rx="3" ry="6" fill="#fff" transform="rotate(0 191 350)"/>
<path d="M70.9,292.1 C76.2,287.32 87.63,286.23 96.4,284.1 C105.17,281.97 116.07,280.63 123.5,279.3 C130.93,277.97 136.5,274.5 141,276.1 C145.5,277.7 145.73,285.45 150.5,288.9 C155.27,292.35 162.7,293.35 169.6,296.8 C176.5,300.25 188.7,304.28 191.9,309.6 C195.1,314.92 189.58,322.33 188.8,328.7 C188.02,335.07 188.27,342.5 187.2,347.8 C186.13,353.1 185.6,356.38 182.4,360.5 C179.2,364.62 174.9,368.92 168,372.5 C161.1,376.08 150,378.75 141,382 C132,385.25 120.83,391.67 114,392 C107.17,392.33 105.25,386.17 100,384 C94.75,381.83 88.4,383 82.5,379 C76.6,375 67.85,367.33 64.6,360 C61.35,352.67 63,342.87 63,335 C63,327.13 63.28,319.95 64.6,312.8 C65.92,305.65 65.6,296.88 70.9,292.1 Z" fill="none" stroke="#8a8a8a" stroke-width="3"/>
<path d="M61.2,383.3 C62.67,385.08 66.45,390.8 70,394 C73.55,397.2 78.17,399.92 82.5,402.5 C86.83,405.08 91.42,407.58 96,409.5 C100.58,411.42 105,412.95 110,414 C115,415.05 120.67,415.6 126,415.8 C131.33,416 136.67,416.17 142,415.2 C147.33,414.23 153.07,412.12 158,410 C162.93,407.88 166.5,405.53 171.6,402.5 C176.7,399.47 183.87,395.22 188.6,391.8 C193.33,388.38 196.77,385.3 200,382 C203.23,378.7 206.67,373.67 208,372" fill="none" stroke="#9a9a9a" stroke-width="1.6"/>
</g>
<path d="M70,292.5 C68.8,292.53 65.3,292.58 62.8,292.7 C60.3,292.82 58.38,292.77 55,293.2 C51.62,293.63 47.98,294.1 42.5,295.3 C37.02,296.5 27.85,298.7 22.1,300.4 C16.35,302.1 11.22,303.9 8,305.5 C4.78,307.1 3.38,308.33 2.8,310 C2.22,311.67 3.27,313.7 4.5,315.5 C5.73,317.3 6.7,317.93 10.2,320.8 C13.7,323.67 20.68,329.03 25.5,332.7 C30.32,336.37 35.13,340.12 39.1,342.8 C43.07,345.48 46.65,347.77 49.3,348.8 C51.95,349.83 53.22,349.97 55,349 C56.78,348.03 58.58,346.17 60,343 C61.42,339.83 62.67,334.83 63.5,330 C64.33,325.17 64.5,319.33 65,314 C65.5,308.67 65.67,301.58 66.5,298 C67.33,294.42 69.42,293.42 70,292.5" fill="none" stroke="#8a8a8a" stroke-width="3"/>
<path d="M39.1,303.8 C36.77,304.08 32.83,304.65 30,305.5 C27.17,306.35 23.7,307.2 22.1,308.9 C20.5,310.6 20.33,313.6 20.4,315.7 C20.47,317.8 21.37,319.8 22.5,321.5 C23.63,323.2 25.45,324.48 27.2,325.9 C28.95,327.32 31.02,328.87 33,330 C34.98,331.13 37.1,332.23 39.1,332.7 C41.1,333.17 43.3,333.08 45,332.8 C46.7,332.52 48.05,331.97 49.3,331 C50.55,330.03 51.65,328.42 52.5,327 C53.35,325.58 54.05,324.17 54.4,322.5 C54.75,320.83 54.6,318.7 54.6,317 C54.6,315.3 54.83,313.8 54.4,312.3 C53.97,310.8 52.85,309.13 52,308 C51.15,306.87 50.63,306.2 49.3,305.5 C47.97,304.8 45.7,304.08 44,303.8 C42.3,303.52 41.43,303.52 39.1,303.8 Z" fill="none" stroke="#8a8a8a" stroke-width="3"/>
<path d="M97.5,259.6 L185.8,274.4 L212.9,345.9 L154.8,404 L66.4,389.5 L38.6,316.6 Z M38.6,316.6 L38.8,359.1 L66.6,432 L155,446.5 L213.1,388.4 L212.9,345.9 M66.4,389.5 L66.6,432 M154.8,404 L155,446.5 M97.5,259.6 L97.5,273.6 M185.8,274.4 L185.8,290.4 " fill="none" stroke="#111" stroke-width="0.9" stroke-linejoin="round"/>
<text x="27" y="275.5" font-family='"Liberation Serif", "Times New Roman", serif' font-size="18" text-anchor="start" fill="#000" >(c)</text>
<defs><clipPath id="cpd"><rect x="262.7" y="256.0" width="178.3" height="178.39999999999998"/></clipPath><filter id="dbl" filterUnits="userSpaceOnUse" x="0" y="0" width="969" height="471"><feGaussianBlur stdDeviation="0.8"/></filter><linearGradient id="cbar" x1="0" y1="0" x2="0" y2="1"><stop offset="0" stop-color="#1a237e"/><stop offset="0.12" stop-color="#1e6fd8"/><stop offset="0.3" stop-color="#2ec05a"/><stop offset="0.45" stop-color="#f0ee80"/><stop offset="0.58" stop-color="#c8a878"/><stop offset="0.72" stop-color="#7a5444"/><stop offset="0.86" stop-color="#b89488"/><stop offset="1" stop-color="#fbf6f6"/></linearGradient></defs>
<g clip-path="url(#cpd)">
<g filter="url(#dbl)"><ellipse cx="404.3" cy="328.16" rx="4" ry="1.6" fill="#c8a8a0" opacity="0.55" transform="rotate(-108 404.3 328.16)"/><ellipse cx="419.21" cy="362.08" rx="3.5" ry="1.5" fill="#c8a8a0" opacity="0.55" transform="rotate(-76 419.21 362.08)"/><ellipse cx="378.74" cy="329.64" rx="3" ry="1.3" fill="#c8a8a0" opacity="0.55" transform="rotate(-120 378.74 329.64)"/><ellipse cx="425.09" cy="302.88" rx="3" ry="1.4" fill="#c8a8a0" opacity="0.55" transform="rotate(-120 425.09 302.88)"/><ellipse cx="391.84" cy="345.25" rx="2.5" ry="1.2" fill="#c8a8a0" opacity="0.55" transform="rotate(-90 391.84 345.25)"/><ellipse cx="363.2" cy="291.15" rx="4" ry="1.6" fill="#c8a8a0" opacity="0.55" transform="rotate(-168 363.2 291.15)"/><ellipse cx="400.03" cy="295.2" rx="3.5" ry="1.5" fill="#c8a8a0" opacity="0.55" transform="rotate(-136 400.03 295.2)"/><ellipse cx="351.7" cy="314.03" rx="3" ry="1.3" fill="#c8a8a0" opacity="0.55" transform="rotate(-180 351.7 314.03)"/><ellipse cx="351.7" cy="260.51" rx="3" ry="1.4" fill="#c8a8a0" opacity="0.55" transform="rotate(-180 351.7 260.51)"/><ellipse cx="371.77" cy="310.49" rx="2.5" ry="1.2" fill="#c8a8a0" opacity="0.55" transform="rotate(-150 371.77 310.49)"/><ellipse cx="310.6" cy="308.24" rx="4" ry="1.6" fill="#c8a8a0" opacity="0.55" transform="rotate(-228 310.6 308.24)"/><ellipse cx="332.52" cy="278.37" rx="3.5" ry="1.5" fill="#c8a8a0" opacity="0.55" transform="rotate(-196 332.52 278.37)"/><ellipse cx="324.66" cy="329.64" rx="3" ry="1.3" fill="#c8a8a0" opacity="0.55" transform="rotate(-240 324.66 329.64)"/><ellipse cx="278.31" cy="302.88" rx="3" ry="1.4" fill="#c8a8a0" opacity="0.55" transform="rotate(-240 278.31 302.88)"/><ellipse cx="331.63" cy="310.49" rx="2.5" ry="1.2" fill="#c8a8a0" opacity="0.55" transform="rotate(-210 331.63 310.49)"/><ellipse cx="299.1" cy="362.34" rx="4" ry="1.6" fill="#c8a8a0" opacity="0.55" transform="rotate(-288 299.1 362.34)"/><ellipse cx="284.19" cy="328.42" rx="3.5" ry="1.5" fill="#c8a8a0" opacity="0.55" transform="rotate(-256 284.19 328.42)"/><ellipse cx="324.66" cy="360.86" rx="3" ry="1.3" fill="#c8a8a0" opacity="0.55" transform="rotate(-300 324.66 360.86)"/><ellipse cx="278.31" cy="387.62" rx="3" ry="1.4" fill="#c8a8a0" opacity="0.55" transform="rotate(-300 278.31 387.62)"/><ellipse cx="311.56" cy="345.25" rx="2.5" ry="1.2" fill="#c8a8a0" opacity="0.55" transform="rotate(-270 311.56 345.25)"/><ellipse cx="340.2" cy="399.35" rx="4" ry="1.6" fill="#c8a8a0" opacity="0.55" transform="rotate(-348 340.2 399.35)"/><ellipse cx="303.37" cy="395.3" rx="3.5" ry="1.5" fill="#c8a8a0" opacity="0.55" transform="rotate(-316 303.37 395.3)"/><ellipse cx="351.7" cy="376.47" rx="3" ry="1.3" fill="#c8a8a0" opacity="0.55" transform="rotate(-360 351.7 376.47)"/><ellipse cx="351.7" cy="429.99" rx="3" ry="1.4" fill="#c8a8a0" opacity="0.55" transform="rotate(-360 351.7 429.99)"/><ellipse cx="331.63" cy="380.01" rx="2.5" ry="1.2" fill="#c8a8a0" opacity="0.55" transform="rotate(-330 331.63 380.01)"/><ellipse cx="392.8" cy="382.26" rx="4" ry="1.6" fill="#c8a8a0" opacity="0.55" transform="rotate(-408 392.8 382.26)"/><ellipse cx="370.88" cy="412.13" rx="3.5" ry="1.5" fill="#c8a8a0" opacity="0.55" transform="rotate(-376 370.88 412.13)"/><ellipse cx="378.74" cy="360.86" rx="3" ry="1.3" fill="#c8a8a0" opacity="0.55" transform="rotate(-420 378.74 360.86)"/><ellipse cx="425.09" cy="387.62" rx="3" ry="1.4" fill="#c8a8a0" opacity="0.55" transform="rotate(-420 425.09 387.62)"/><ellipse cx="371.77" cy="380.01" rx="2.5" ry="1.2" fill="#c8a8a0" opacity="0.55" transform="rotate(-390 371.77 380.01)"/></g>
<path d="M413.51,345.25 L428.29,326.34" stroke="#b09080" stroke-width="3.6" stroke-linecap="round" opacity="0.75"/><path d="M413.51,345.25 L428.29,326.34" stroke="#e4e49a" stroke-width="1.8" stroke-linecap="round"/><circle cx="418.43" cy="338.95" r="1.3" fill="#3aa59a"/><circle cx="423.36" cy="332.64" r="1.3" fill="#3aa59a"/>
<path d="M413.51,345.25 L428.29,364.16" stroke="#b09080" stroke-width="3.6" stroke-linecap="round" opacity="0.75"/><path d="M413.51,345.25 L428.29,364.16" stroke="#e4e49a" stroke-width="1.8" stroke-linecap="round"/><circle cx="418.43" cy="351.55" r="1.3" fill="#3aa59a"/><circle cx="423.36" cy="357.86" r="1.3" fill="#3aa59a"/>
<path d="M382.6,291.72 L373.61,269.47" stroke="#b09080" stroke-width="3.6" stroke-linecap="round" opacity="0.75"/><path d="M382.6,291.72 L373.61,269.47" stroke="#e4e49a" stroke-width="1.8" stroke-linecap="round"/><circle cx="379.61" cy="284.3" r="1.3" fill="#3aa59a"/><circle cx="376.61" cy="276.89" r="1.3" fill="#3aa59a"/>
<path d="M382.6,291.72 L406.37,288.38" stroke="#b09080" stroke-width="3.6" stroke-linecap="round" opacity="0.75"/><path d="M382.6,291.72 L406.37,288.38" stroke="#e4e49a" stroke-width="1.8" stroke-linecap="round"/><circle cx="390.53" cy="290.61" r="1.3" fill="#3aa59a"/><circle cx="398.45" cy="289.49" r="1.3" fill="#3aa59a"/>
<path d="M320.8,291.72 L297.03,288.38" stroke="#b09080" stroke-width="3.6" stroke-linecap="round" opacity="0.75"/><path d="M320.8,291.72 L297.03,288.38" stroke="#e4e49a" stroke-width="1.8" stroke-linecap="round"/><circle cx="312.87" cy="290.61" r="1.3" fill="#3aa59a"/><circle cx="304.95" cy="289.49" r="1.3" fill="#3aa59a"/>
<path d="M320.8,291.72 L329.79,269.47" stroke="#b09080" stroke-width="3.6" stroke-linecap="round" opacity="0.75"/><path d="M320.8,291.72 L329.79,269.47" stroke="#e4e49a" stroke-width="1.8" stroke-linecap="round"/><circle cx="323.79" cy="284.3" r="1.3" fill="#3aa59a"/><circle cx="326.79" cy="276.89" r="1.3" fill="#3aa59a"/>
<path d="M289.89,345.25 L275.11,364.16" stroke="#b09080" stroke-width="3.6" stroke-linecap="round" opacity="0.75"/><path d="M289.89,345.25 L275.11,364.16" stroke="#e4e49a" stroke-width="1.8" stroke-linecap="round"/><circle cx="284.97" cy="351.55" r="1.3" fill="#3aa59a"/><circle cx="280.04" cy="357.86" r="1.3" fill="#3aa59a"/>
<path d="M289.89,345.25 L275.11,326.34" stroke="#b09080" stroke-width="3.6" stroke-linecap="round" opacity="0.75"/><path d="M289.89,345.25 L275.11,326.34" stroke="#e4e49a" stroke-width="1.8" stroke-linecap="round"/><circle cx="284.97" cy="338.95" r="1.3" fill="#3aa59a"/><circle cx="280.04" cy="332.64" r="1.3" fill="#3aa59a"/>
<path d="M320.8,398.78 L329.79,421.03" stroke="#b09080" stroke-width="3.6" stroke-linecap="round" opacity="0.75"/><path d="M320.8,398.78 L329.79,421.03" stroke="#e4e49a" stroke-width="1.8" stroke-linecap="round"/><circle cx="323.79" cy="406.2" r="1.3" fill="#3aa59a"/><circle cx="326.79" cy="413.61" r="1.3" fill="#3aa59a"/>
<path d="M320.8,398.78 L297.03,402.12" stroke="#b09080" stroke-width="3.6" stroke-linecap="round" opacity="0.75"/><path d="M320.8,398.78 L297.03,402.12" stroke="#e4e49a" stroke-width="1.8" stroke-linecap="round"/><circle cx="312.87" cy="399.89" r="1.3" fill="#3aa59a"/><circle cx="304.95" cy="401.01" r="1.3" fill="#3aa59a"/>
<path d="M382.6,398.78 L406.37,402.12" stroke="#b09080" stroke-width="3.6" stroke-linecap="round" opacity="0.75"/><path d="M382.6,398.78 L406.37,402.12" stroke="#e4e49a" stroke-width="1.8" stroke-linecap="round"/><circle cx="390.53" cy="399.89" r="1.3" fill="#3aa59a"/><circle cx="398.45" cy="401.01" r="1.3" fill="#3aa59a"/>
<path d="M382.6,398.78 L373.61,421.03" stroke="#b09080" stroke-width="3.6" stroke-linecap="round" opacity="0.75"/><path d="M382.6,398.78 L373.61,421.03" stroke="#e4e49a" stroke-width="1.8" stroke-linecap="round"/><circle cx="379.61" cy="406.2" r="1.3" fill="#3aa59a"/><circle cx="376.61" cy="413.61" r="1.3" fill="#3aa59a"/>
<ellipse cx="341.13" cy="273.55" rx="7.5" ry="2.6" fill="#1e2a90" stroke="#9a7a6a" stroke-width="0.9" transform="rotate(-240 341.13 273.55)"/>
<ellipse cx="362.27" cy="273.55" rx="7.5" ry="2.6" fill="#1e2a90" stroke="#9a7a6a" stroke-width="0.9" transform="rotate(-120 362.27 273.55)"/>
<ellipse cx="284.32" cy="318.55" rx="7.5" ry="2.6" fill="#1e2a90" stroke="#9a7a6a" stroke-width="0.9" transform="rotate(-300 284.32 318.55)"/>
<ellipse cx="294.89" cy="300.25" rx="7.5" ry="2.6" fill="#1e2a90" stroke="#9a7a6a" stroke-width="0.9" transform="rotate(-180 294.89 300.25)"/>
<ellipse cx="294.89" cy="390.25" rx="7.5" ry="2.6" fill="#1e2a90" stroke="#9a7a6a" stroke-width="0.9" transform="rotate(-360 294.89 390.25)"/>
<ellipse cx="284.32" cy="371.95" rx="7.5" ry="2.6" fill="#1e2a90" stroke="#9a7a6a" stroke-width="0.9" transform="rotate(-240 284.32 371.95)"/>
<ellipse cx="362.27" cy="416.95" rx="7.5" ry="2.6" fill="#1e2a90" stroke="#9a7a6a" stroke-width="0.9" transform="rotate(-420 362.27 416.95)"/>
<ellipse cx="341.13" cy="416.95" rx="7.5" ry="2.6" fill="#1e2a90" stroke="#9a7a6a" stroke-width="0.9" transform="rotate(-300 341.13 416.95)"/>
<ellipse cx="419.08" cy="371.95" rx="7.5" ry="2.6" fill="#1e2a90" stroke="#9a7a6a" stroke-width="0.9" transform="rotate(-480 419.08 371.95)"/>
<ellipse cx="408.51" cy="390.25" rx="7.5" ry="2.6" fill="#1e2a90" stroke="#9a7a6a" stroke-width="0.9" transform="rotate(-360 408.51 390.25)"/>
<ellipse cx="408.51" cy="300.25" rx="7.5" ry="2.6" fill="#1e2a90" stroke="#9a7a6a" stroke-width="0.9" transform="rotate(-540 408.51 300.25)"/>
<ellipse cx="419.08" cy="318.55" rx="7.5" ry="2.6" fill="#1e2a90" stroke="#9a7a6a" stroke-width="0.9" transform="rotate(-420 419.08 318.55)"/>
<path d="M402.7,345.25 C402.7,341.71 397.97,338.17 395.6,334.62 C393.24,331.08 390.63,327.68 388.51,324 C386.38,320.32 384.74,316.36 382.85,312.54 C380.97,308.72 380.27,302.85 377.2,301.08 C374.13,299.31 368.7,301.64 364.45,301.92 C360.2,302.19 355.95,302.75 351.7,302.75 C347.45,302.75 343.2,302.19 338.95,301.92 C334.7,301.64 329.27,299.31 326.2,301.08 C323.13,302.85 322.43,308.72 320.55,312.54 C318.66,316.36 317.02,320.32 314.89,324 C312.77,327.68 310.16,331.08 307.8,334.62 C305.43,338.17 300.7,341.71 300.7,345.25 C300.7,348.79 305.43,352.33 307.8,355.88 C310.16,359.42 312.77,362.82 314.89,366.5 C317.02,370.18 318.66,374.14 320.55,377.96 C322.43,381.78 323.13,387.65 326.2,389.42 C329.27,391.19 334.7,388.86 338.95,388.58 C343.2,388.31 347.45,387.75 351.7,387.75 C355.95,387.75 360.2,388.31 364.45,388.58 C368.7,388.86 374.13,391.19 377.2,389.42 C380.27,387.65 380.97,381.78 382.85,377.96 C384.74,374.14 386.38,370.18 388.51,366.5 C390.63,362.82 393.24,359.42 395.6,355.88 C397.97,352.33 402.7,348.79 402.7,345.25 Z" fill="none" stroke="#b08070" stroke-width="4.5" opacity="0.6"/>
<circle cx="351.7" cy="345.25" r="17.2" fill="none" stroke="#a88a7c" stroke-width="2.2"/>
<path d="M351.7,279.65 L294.89,312.45 L294.89,378.05 L351.7,410.85 L408.51,378.05 L408.51,312.45 Z M351.7,279.65 L351.7,256 M294.89,312.45 L262.7,293.87 M294.89,378.05 L262.7,396.63 M351.7,410.85 L351.7,434.4 M408.51,378.05 L441,396.81 M408.51,312.45 L441,293.69 " fill="none" stroke="#222" stroke-width="1.1"/>
<path d="M369.96,279.65 L369.68,279.02 L369.39,278.41 L369.11,277.82 L368.84,277.24 L368.56,276.68 L368.29,276.12 L368.02,275.58 L367.75,275.05 L367.48,274.52 L367.2,274.01 L366.93,273.5 L366.66,272.99 L366.38,272.49 L366.1,271.99 L365.82,271.5 L365.53,271.01 L365.24,270.52 L364.94,270.03 L364.64,269.54 L364.34,269.04 L364.03,268.55 L363.71,268.05 L363.38,267.55 L363.05,267.05 L362.71,266.53 L362.35,266.01 L361.99,265.48 L361.62,264.95 L361.23,264.4 L360.83,263.83 L360.42,263.25 L359.99,262.66 L359.54,262.04 L359.07,261.41 L358.58,260.75 L358.07,260.05 L357.53,259.33 L356.96,258.57 L356.35,257.77 L355.71,256.92 L355.02,256.01 L354.29,255.04 L353.49,253.99 L352.64,252.85 L351.7,251.6 L350.76,252.85 L349.91,253.99 L349.11,255.04 L348.38,256.01 L347.69,256.92 L347.05,257.77 L346.44,258.57 L345.87,259.33 L345.33,260.05 L344.82,260.75 L344.33,261.41 L343.86,262.04 L343.41,262.66 L342.98,263.25 L342.57,263.83 L342.17,264.4 L341.78,264.95 L341.41,265.48 L341.05,266.01 L340.69,266.53 L340.35,267.05 L340.02,267.55 L339.69,268.05 L339.37,268.55 L339.06,269.04 L338.76,269.54 L338.46,270.03 L338.16,270.52 L337.87,271.01 L337.58,271.5 L337.3,271.99 L337.02,272.49 L336.74,272.99 L336.47,273.5 L336.2,274.01 L335.92,274.52 L335.65,275.05 L335.38,275.58 L335.11,276.12 L334.84,276.68 L334.56,277.24 L334.29,277.82 L334.01,278.41 L333.72,279.02 L333.44,279.65 L333.14,280.3 L332.84,280.97 L332.53,281.66 L332.22,282.39 L331.89,283.14 L331.55,283.93 L331.19,284.76 L330.82,285.64 L330.42,286.56 L330.01,287.55 L329.56,288.59 L329.09,289.72 L328.58,290.93 L328.02,292.24 L327.41,293.67 L328.95,293.86 L330.37,294.04 L331.68,294.2 L332.89,294.35 L334.02,294.49 L335.08,294.62 L336.07,294.74 L337.02,294.85 L337.91,294.96 L338.77,295.06 L339.59,295.15 L340.37,295.24 L341.13,295.32 L341.86,295.4 L342.57,295.47 L343.26,295.53 L343.93,295.59 L344.58,295.65 L345.22,295.7 L345.84,295.74 L346.46,295.78 L347.06,295.82 L347.66,295.85 L348.25,295.88 L348.84,295.9 L349.41,295.92 L349.99,295.93 L350.56,295.94 L351.13,295.95 L351.7,295.95 L352.27,295.95 L352.84,295.94 L353.41,295.93 L353.99,295.92 L354.56,295.9 L355.15,295.88 L355.74,295.85 L356.34,295.82 L356.94,295.78 L357.56,295.74 L358.18,295.7 L358.82,295.65 L359.47,295.59 L360.14,295.53 L360.83,295.47 L361.54,295.4 L362.27,295.32 L363.03,295.24 L363.81,295.15 L364.63,295.06 L365.49,294.96 L366.38,294.85 L367.33,294.74 L368.32,294.62 L369.38,294.49 L370.51,294.35 L371.72,294.2 L373.03,294.04 L374.45,293.86 L375.99,293.67 L375.38,292.24 L374.82,290.93 L374.31,289.72 L373.84,288.59 L373.39,287.55 L372.98,286.56 L372.58,285.64 L372.21,284.76 L371.85,283.93 L371.51,283.14 L371.18,282.39 L370.87,281.66 L370.56,280.97 L370.26,280.3 Z" fill="none" stroke="#52b6f2" stroke-width="2.8" stroke-linejoin="round"/>
<path d="M344.51,265.3 Q339.06,272.35 335.68,280.6 A8.3,8.3 0 0 0 342.87,293.05 Q351.7,294.25 360.53,293.05 A8.3,8.3 0 0 0 367.72,280.6 Q364.34,272.35 358.89,265.3 A8.3,8.3 0 0 0 344.51,265.3 Z" fill="none" stroke="#1db41d" stroke-width="2.6"/>
<path d="M313.15,312.45 L313.45,311.8 L313.75,311.13 L314.05,310.44 L314.37,309.71 L314.7,308.96 L315.04,308.17 L315.4,307.34 L315.77,306.46 L316.16,305.54 L316.58,304.55 L317.02,303.51 L317.5,302.38 L318.01,301.17 L318.57,299.86 L319.18,298.43 L317.63,298.24 L316.22,298.06 L314.91,297.9 L313.7,297.75 L312.57,297.61 L311.51,297.48 L310.52,297.36 L309.57,297.25 L308.68,297.14 L307.82,297.04 L307,296.95 L306.22,296.86 L305.46,296.78 L304.73,296.7 L304.02,296.63 L303.33,296.57 L302.66,296.51 L302.01,296.45 L301.37,296.4 L300.75,296.36 L300.13,296.32 L299.52,296.28 L298.93,296.25 L298.34,296.22 L297.75,296.2 L297.17,296.18 L296.6,296.17 L296.03,296.16 L295.46,296.15 L294.89,296.15 L294.32,296.15 L293.75,296.16 L293.18,296.17 L292.6,296.18 L292.02,296.2 L291.44,296.22 L290.85,296.25 L290.25,296.28 L289.65,296.32 L289.03,296.36 L288.41,296.4 L287.77,296.45 L287.11,296.51 L286.44,296.57 L285.76,296.63 L285.05,296.7 L284.32,296.78 L283.56,296.86 L282.78,296.95 L281.96,297.04 L281.1,297.14 L280.21,297.25 L279.26,297.36 L278.26,297.48 L277.21,297.61 L276.08,297.75 L274.87,297.9 L273.56,298.06 L272.14,298.24 L270.6,298.43 L271.21,299.86 L271.76,301.17 L272.28,302.38 L272.75,303.51 L273.2,304.55 L273.61,305.54 L274.01,306.46 L274.38,307.34 L274.74,308.17 L275.08,308.96 L275.41,309.71 L275.72,310.44 L276.03,311.13 L276.33,311.8 L276.62,312.45 L276.91,313.08 L277.2,313.69 L277.48,314.28 L277.75,314.86 L278.03,315.42 L278.3,315.98 L278.57,316.52 L278.84,317.05 L279.11,317.58 L279.38,318.09 L279.66,318.6 L279.93,319.11 L280.21,319.61 L280.49,320.11 L280.77,320.6 L281.06,321.09 L281.35,321.58 L281.64,322.07 L281.94,322.56 L282.25,323.06 L282.56,323.55 L282.88,324.05 L283.21,324.55 L283.54,325.05 L283.88,325.57 L284.23,326.09 L284.6,326.62 L284.97,327.15 L285.36,327.7 L285.76,328.27 L286.17,328.85 L286.6,329.44 L287.05,330.06 L287.52,330.69 L288.01,331.35 L288.52,332.05 L289.06,332.77 L289.63,333.53 L290.24,334.33 L290.88,335.18 L291.57,336.09 L292.3,337.06 L293.09,338.11 L293.95,339.25 L294.89,340.5 L295.82,339.25 L296.68,338.11 L297.48,337.06 L298.21,336.09 L298.9,335.18 L299.54,334.33 L300.14,333.53 L300.71,332.77 L301.26,332.05 L301.77,331.35 L302.26,330.69 L302.73,330.06 L303.18,329.44 L303.61,328.85 L304.02,328.27 L304.42,327.7 L304.81,327.15 L305.18,326.62 L305.54,326.09 L305.89,325.57 L306.24,325.05 L306.57,324.55 L306.9,324.05 L307.22,323.55 L307.53,323.06 L307.83,322.56 L308.13,322.07 L308.43,321.58 L308.72,321.09 L309,320.6 L309.29,320.11 L309.57,319.61 L309.84,319.11 L310.12,318.6 L310.39,318.09 L310.66,317.58 L310.94,317.05 L311.21,316.52 L311.48,315.98 L311.75,315.42 L312.03,314.86 L312.3,314.28 L312.58,313.69 L312.86,313.08 Z" fill="none" stroke="#52b6f2" stroke-width="2.8" stroke-linejoin="round"/>
<path d="M278.87,311.5 Q282.24,319.75 287.7,326.8 A8.3,8.3 0 0 0 302.08,326.8 Q307.53,319.75 310.91,311.5 A8.3,8.3 0 0 0 303.72,299.05 Q294.89,297.85 286.06,299.05 A8.3,8.3 0 0 0 278.87,311.5 Z" fill="none" stroke="#1db41d" stroke-width="2.6"/>
<path d="M313.15,378.05 L312.86,377.42 L312.58,376.81 L312.3,376.22 L312.03,375.64 L311.75,375.08 L311.48,374.52 L311.21,373.98 L310.94,373.45 L310.66,372.92 L310.39,372.41 L310.12,371.9 L309.84,371.39 L309.57,370.89 L309.29,370.39 L309,369.9 L308.72,369.41 L308.43,368.92 L308.13,368.43 L307.83,367.94 L307.53,367.44 L307.22,366.95 L306.9,366.45 L306.57,365.95 L306.24,365.45 L305.89,364.93 L305.54,364.41 L305.18,363.88 L304.81,363.35 L304.42,362.8 L304.02,362.23 L303.61,361.65 L303.18,361.06 L302.73,360.44 L302.26,359.81 L301.77,359.15 L301.26,358.45 L300.71,357.73 L300.14,356.97 L299.54,356.17 L298.9,355.32 L298.21,354.41 L297.48,353.44 L296.68,352.39 L295.82,351.25 L294.89,350 L293.95,351.25 L293.09,352.39 L292.3,353.44 L291.57,354.41 L290.88,355.32 L290.24,356.17 L289.63,356.97 L289.06,357.73 L288.52,358.45 L288.01,359.15 L287.52,359.81 L287.05,360.44 L286.6,361.06 L286.17,361.65 L285.76,362.23 L285.36,362.8 L284.97,363.35 L284.6,363.88 L284.23,364.41 L283.88,364.93 L283.54,365.45 L283.21,365.95 L282.88,366.45 L282.56,366.95 L282.25,367.44 L281.94,367.94 L281.64,368.43 L281.35,368.92 L281.06,369.41 L280.77,369.9 L280.49,370.39 L280.21,370.89 L279.93,371.39 L279.66,371.9 L279.38,372.41 L279.11,372.92 L278.84,373.45 L278.57,373.98 L278.3,374.52 L278.03,375.08 L277.75,375.64 L277.48,376.22 L277.2,376.81 L276.91,377.42 L276.62,378.05 L276.33,378.7 L276.03,379.37 L275.72,380.06 L275.41,380.79 L275.08,381.54 L274.74,382.33 L274.38,383.16 L274.01,384.04 L273.61,384.96 L273.2,385.95 L272.75,386.99 L272.28,388.12 L271.76,389.33 L271.21,390.64 L270.6,392.07 L272.14,392.26 L273.56,392.44 L274.87,392.6 L276.08,392.75 L277.21,392.89 L278.26,393.02 L279.26,393.14 L280.21,393.25 L281.1,393.36 L281.96,393.46 L282.78,393.55 L283.56,393.64 L284.32,393.72 L285.05,393.8 L285.76,393.87 L286.44,393.93 L287.11,393.99 L287.77,394.05 L288.41,394.1 L289.03,394.14 L289.65,394.18 L290.25,394.22 L290.85,394.25 L291.44,394.28 L292.02,394.3 L292.6,394.32 L293.18,394.33 L293.75,394.34 L294.32,394.35 L294.89,394.35 L295.46,394.35 L296.03,394.34 L296.6,394.33 L297.17,394.32 L297.75,394.3 L298.34,394.28 L298.93,394.25 L299.52,394.22 L300.13,394.18 L300.75,394.14 L301.37,394.1 L302.01,394.05 L302.66,393.99 L303.33,393.93 L304.02,393.87 L304.73,393.8 L305.46,393.72 L306.22,393.64 L307,393.55 L307.82,393.46 L308.68,393.36 L309.57,393.25 L310.52,393.14 L311.51,393.02 L312.57,392.89 L313.7,392.75 L314.91,392.6 L316.22,392.44 L317.63,392.26 L319.18,392.07 L318.57,390.64 L318.01,389.33 L317.5,388.12 L317.02,386.99 L316.58,385.95 L316.16,384.96 L315.77,384.04 L315.4,383.16 L315.04,382.33 L314.7,381.54 L314.37,380.79 L314.05,380.06 L313.75,379.37 L313.45,378.7 Z" fill="none" stroke="#52b6f2" stroke-width="2.8" stroke-linejoin="round"/>
<path d="M286.06,391.45 Q294.89,392.65 303.72,391.45 A8.3,8.3 0 0 0 310.91,379 Q307.53,370.75 302.08,363.7 A8.3,8.3 0 0 0 287.7,363.7 Q282.24,370.75 278.87,379 A8.3,8.3 0 0 0 286.06,391.45 Z" fill="none" stroke="#1db41d" stroke-width="2.6"/>
<path d="M369.96,410.85 L370.26,410.2 L370.56,409.53 L370.87,408.84 L371.18,408.11 L371.51,407.36 L371.85,406.57 L372.21,405.74 L372.58,404.86 L372.98,403.94 L373.39,402.95 L373.84,401.91 L374.31,400.78 L374.82,399.57 L375.38,398.26 L375.99,396.83 L374.45,396.64 L373.03,396.46 L371.72,396.3 L370.51,396.15 L369.38,396.01 L368.32,395.88 L367.33,395.76 L366.38,395.65 L365.49,395.54 L364.63,395.44 L363.81,395.35 L363.03,395.26 L362.27,395.18 L361.54,395.1 L360.83,395.03 L360.14,394.97 L359.47,394.91 L358.82,394.85 L358.18,394.8 L357.56,394.76 L356.94,394.72 L356.34,394.68 L355.74,394.65 L355.15,394.62 L354.56,394.6 L353.99,394.58 L353.41,394.57 L352.84,394.56 L352.27,394.55 L351.7,394.55 L351.13,394.55 L350.56,394.56 L349.99,394.57 L349.41,394.58 L348.84,394.6 L348.25,394.62 L347.66,394.65 L347.06,394.68 L346.46,394.72 L345.84,394.76 L345.22,394.8 L344.58,394.85 L343.93,394.91 L343.26,394.97 L342.57,395.03 L341.86,395.1 L341.13,395.18 L340.37,395.26 L339.59,395.35 L338.77,395.44 L337.91,395.54 L337.02,395.65 L336.07,395.76 L335.08,395.88 L334.02,396.01 L332.89,396.15 L331.68,396.3 L330.37,396.46 L328.95,396.64 L327.41,396.83 L328.02,398.26 L328.58,399.57 L329.09,400.78 L329.56,401.91 L330.01,402.95 L330.42,403.94 L330.82,404.86 L331.19,405.74 L331.55,406.57 L331.89,407.36 L332.22,408.11 L332.53,408.84 L332.84,409.53 L333.14,410.2 L333.44,410.85 L333.72,411.48 L334.01,412.09 L334.29,412.68 L334.56,413.26 L334.84,413.82 L335.11,414.38 L335.38,414.92 L335.65,415.45 L335.92,415.98 L336.2,416.49 L336.47,417 L336.74,417.51 L337.02,418.01 L337.3,418.51 L337.58,419 L337.87,419.49 L338.16,419.98 L338.46,420.47 L338.76,420.96 L339.06,421.46 L339.37,421.95 L339.69,422.45 L340.02,422.95 L340.35,423.45 L340.69,423.97 L341.05,424.49 L341.41,425.02 L341.78,425.55 L342.17,426.1 L342.57,426.67 L342.98,427.25 L343.41,427.84 L343.86,428.46 L344.33,429.09 L344.82,429.75 L345.33,430.45 L345.87,431.17 L346.44,431.93 L347.05,432.73 L347.69,433.58 L348.38,434.49 L349.11,435.46 L349.91,436.51 L350.76,437.65 L351.7,438.9 L352.64,437.65 L353.49,436.51 L354.29,435.46 L355.02,434.49 L355.71,433.58 L356.35,432.73 L356.96,431.93 L357.53,431.17 L358.07,430.45 L358.58,429.75 L359.07,429.09 L359.54,428.46 L359.99,427.84 L360.42,427.25 L360.83,426.67 L361.23,426.1 L361.62,425.55 L361.99,425.02 L362.35,424.49 L362.71,423.97 L363.05,423.45 L363.38,422.95 L363.71,422.45 L364.03,421.95 L364.34,421.46 L364.64,420.96 L364.94,420.47 L365.24,419.98 L365.53,419.49 L365.82,419 L366.1,418.51 L366.38,418.01 L366.66,417.51 L366.93,417 L367.2,416.49 L367.48,415.98 L367.75,415.45 L368.02,414.92 L368.29,414.38 L368.56,413.82 L368.84,413.26 L369.11,412.68 L369.39,412.09 L369.68,411.48 Z" fill="none" stroke="#52b6f2" stroke-width="2.8" stroke-linejoin="round"/>
<path d="M358.89,425.2 Q364.34,418.15 367.72,409.9 A8.3,8.3 0 0 0 360.53,397.45 Q351.7,396.25 342.87,397.45 A8.3,8.3 0 0 0 335.68,409.9 Q339.06,418.15 344.51,425.2 A8.3,8.3 0 0 0 358.89,425.2 Z" fill="none" stroke="#1db41d" stroke-width="2.6"/>
<path d="M426.78,378.05 L426.49,377.42 L426.2,376.81 L425.92,376.22 L425.65,375.64 L425.37,375.08 L425.1,374.52 L424.83,373.98 L424.56,373.45 L424.29,372.92 L424.02,372.41 L423.74,371.9 L423.47,371.39 L423.19,370.89 L422.91,370.39 L422.63,369.9 L422.34,369.41 L422.05,368.92 L421.76,368.43 L421.46,367.94 L421.15,367.44 L420.84,366.95 L420.52,366.45 L420.19,365.95 L419.86,365.45 L419.52,364.93 L419.17,364.41 L418.8,363.88 L418.43,363.35 L418.04,362.8 L417.64,362.23 L417.23,361.65 L416.8,361.06 L416.35,360.44 L415.88,359.81 L415.39,359.15 L414.88,358.45 L414.34,357.73 L413.77,356.97 L413.16,356.17 L412.52,355.32 L411.83,354.41 L411.1,353.44 L410.31,352.39 L409.45,351.25 L408.51,350 L407.58,351.25 L406.72,352.39 L405.92,353.44 L405.19,354.41 L404.5,355.32 L403.86,356.17 L403.26,356.97 L402.69,357.73 L402.14,358.45 L401.63,359.15 L401.14,359.81 L400.67,360.44 L400.22,361.06 L399.79,361.65 L399.38,362.23 L398.98,362.8 L398.59,363.35 L398.22,363.88 L397.86,364.41 L397.51,364.93 L397.16,365.45 L396.83,365.95 L396.5,366.45 L396.18,366.95 L395.87,367.44 L395.57,367.94 L395.27,368.43 L394.97,368.92 L394.68,369.41 L394.4,369.9 L394.11,370.39 L393.83,370.89 L393.56,371.39 L393.28,371.9 L393.01,372.41 L392.74,372.92 L392.46,373.45 L392.19,373.98 L391.92,374.52 L391.65,375.08 L391.37,375.64 L391.1,376.22 L390.82,376.81 L390.54,377.42 L390.25,378.05 L389.95,378.7 L389.65,379.37 L389.35,380.06 L389.03,380.79 L388.7,381.54 L388.36,382.33 L388,383.16 L387.63,384.04 L387.24,384.96 L386.82,385.95 L386.38,386.99 L385.9,388.12 L385.39,389.33 L384.83,390.64 L384.22,392.07 L385.77,392.26 L387.18,392.44 L388.49,392.6 L389.7,392.75 L390.83,392.89 L391.89,393.02 L392.88,393.14 L393.83,393.25 L394.72,393.36 L395.58,393.46 L396.4,393.55 L397.18,393.64 L397.94,393.72 L398.67,393.8 L399.38,393.87 L400.07,393.93 L400.74,393.99 L401.39,394.05 L402.03,394.1 L402.65,394.14 L403.27,394.18 L403.88,394.22 L404.47,394.25 L405.06,394.28 L405.65,394.3 L406.23,394.32 L406.8,394.33 L407.37,394.34 L407.94,394.35 L408.51,394.35 L409.08,394.35 L409.65,394.34 L410.22,394.33 L410.8,394.32 L411.38,394.3 L411.96,394.28 L412.55,394.25 L413.15,394.22 L413.75,394.18 L414.37,394.14 L414.99,394.1 L415.63,394.05 L416.29,393.99 L416.96,393.93 L417.64,393.87 L418.35,393.8 L419.08,393.72 L419.84,393.64 L420.62,393.55 L421.44,393.46 L422.3,393.36 L423.19,393.25 L424.14,393.14 L425.14,393.02 L426.19,392.89 L427.32,392.75 L428.53,392.6 L429.84,392.44 L431.26,392.26 L432.8,392.07 L432.19,390.64 L431.64,389.33 L431.12,388.12 L430.65,386.99 L430.2,385.95 L429.79,384.96 L429.39,384.04 L429.02,383.16 L428.66,382.33 L428.32,381.54 L427.99,380.79 L427.68,380.06 L427.37,379.37 L427.07,378.7 Z" fill="none" stroke="#52b6f2" stroke-width="2.8" stroke-linejoin="round"/>
<path d="M424.53,379 Q421.16,370.75 415.7,363.7 A8.3,8.3 0 0 0 401.32,363.7 Q395.87,370.75 392.49,379 A8.3,8.3 0 0 0 399.68,391.45 Q408.51,392.65 417.34,391.45 A8.3,8.3 0 0 0 424.53,379 Z" fill="none" stroke="#1db41d" stroke-width="2.6"/>
<path d="M426.78,312.45 L427.07,311.8 L427.37,311.13 L427.68,310.44 L427.99,309.71 L428.32,308.96 L428.66,308.17 L429.02,307.34 L429.39,306.46 L429.79,305.54 L430.2,304.55 L430.65,303.51 L431.12,302.38 L431.64,301.17 L432.19,299.86 L432.8,298.43 L431.26,298.24 L429.84,298.06 L428.53,297.9 L427.32,297.75 L426.19,297.61 L425.14,297.48 L424.14,297.36 L423.19,297.25 L422.3,297.14 L421.44,297.04 L420.62,296.95 L419.84,296.86 L419.08,296.78 L418.35,296.7 L417.64,296.63 L416.96,296.57 L416.29,296.51 L415.63,296.45 L414.99,296.4 L414.37,296.36 L413.75,296.32 L413.15,296.28 L412.55,296.25 L411.96,296.22 L411.38,296.2 L410.8,296.18 L410.22,296.17 L409.65,296.16 L409.08,296.15 L408.51,296.15 L407.94,296.15 L407.37,296.16 L406.8,296.17 L406.23,296.18 L405.65,296.2 L405.06,296.22 L404.47,296.25 L403.88,296.28 L403.27,296.32 L402.65,296.36 L402.03,296.4 L401.39,296.45 L400.74,296.51 L400.07,296.57 L399.38,296.63 L398.67,296.7 L397.94,296.78 L397.18,296.86 L396.4,296.95 L395.58,297.04 L394.72,297.14 L393.83,297.25 L392.88,297.36 L391.89,297.48 L390.83,297.61 L389.7,297.75 L388.49,297.9 L387.18,298.06 L385.77,298.24 L384.22,298.43 L384.83,299.86 L385.39,301.17 L385.9,302.38 L386.38,303.51 L386.82,304.55 L387.24,305.54 L387.63,306.46 L388,307.34 L388.36,308.17 L388.7,308.96 L389.03,309.71 L389.35,310.44 L389.65,311.13 L389.95,311.8 L390.25,312.45 L390.54,313.08 L390.82,313.69 L391.1,314.28 L391.37,314.86 L391.65,315.42 L391.92,315.98 L392.19,316.52 L392.46,317.05 L392.74,317.58 L393.01,318.09 L393.28,318.6 L393.56,319.11 L393.83,319.61 L394.11,320.11 L394.4,320.6 L394.68,321.09 L394.97,321.58 L395.27,322.07 L395.57,322.56 L395.87,323.06 L396.18,323.55 L396.5,324.05 L396.83,324.55 L397.16,325.05 L397.51,325.57 L397.86,326.09 L398.22,326.62 L398.59,327.15 L398.98,327.7 L399.38,328.27 L399.79,328.85 L400.22,329.44 L400.67,330.06 L401.14,330.69 L401.63,331.35 L402.14,332.05 L402.69,332.77 L403.26,333.53 L403.86,334.33 L404.5,335.18 L405.19,336.09 L405.92,337.06 L406.72,338.11 L407.58,339.25 L408.51,340.5 L409.45,339.25 L410.31,338.11 L411.1,337.06 L411.83,336.09 L412.52,335.18 L413.16,334.33 L413.77,333.53 L414.34,332.77 L414.88,332.05 L415.39,331.35 L415.88,330.69 L416.35,330.06 L416.8,329.44 L417.23,328.85 L417.64,328.27 L418.04,327.7 L418.43,327.15 L418.8,326.62 L419.17,326.09 L419.52,325.57 L419.86,325.05 L420.19,324.55 L420.52,324.05 L420.84,323.55 L421.15,323.06 L421.46,322.56 L421.76,322.07 L422.05,321.58 L422.34,321.09 L422.63,320.6 L422.91,320.11 L423.19,319.61 L423.47,319.11 L423.74,318.6 L424.02,318.09 L424.29,317.58 L424.56,317.05 L424.83,316.52 L425.1,315.98 L425.37,315.42 L425.65,314.86 L425.92,314.28 L426.2,313.69 L426.49,313.08 Z" fill="none" stroke="#52b6f2" stroke-width="2.8" stroke-linejoin="round"/>
<path d="M417.34,299.05 Q408.51,297.85 399.68,299.05 A8.3,8.3 0 0 0 392.49,311.5 Q395.87,319.75 401.32,326.8 A8.3,8.3 0 0 0 415.7,326.8 Q421.16,319.75 424.53,311.5 A8.3,8.3 0 0 0 417.34,299.05 Z" fill="none" stroke="#1db41d" stroke-width="2.6"/>
<path d="M402.7,345.25 C402.7,341.71 397.97,338.17 395.6,334.62 C393.24,331.08 390.63,327.68 388.51,324 C386.38,320.32 384.74,316.36 382.85,312.54 C380.97,308.72 380.27,302.85 377.2,301.08 C374.13,299.31 368.7,301.64 364.45,301.92 C360.2,302.19 355.95,302.75 351.7,302.75 C347.45,302.75 343.2,302.19 338.95,301.92 C334.7,301.64 329.27,299.31 326.2,301.08 C323.13,302.85 322.43,308.72 320.55,312.54 C318.66,316.36 317.02,320.32 314.89,324 C312.77,327.68 310.16,331.08 307.8,334.62 C305.43,338.17 300.7,341.71 300.7,345.25 C300.7,348.79 305.43,352.33 307.8,355.88 C310.16,359.42 312.77,362.82 314.89,366.5 C317.02,370.18 318.66,374.14 320.55,377.96 C322.43,381.78 323.13,387.65 326.2,389.42 C329.27,391.19 334.7,388.86 338.95,388.58 C343.2,388.31 347.45,387.75 351.7,387.75 C355.95,387.75 360.2,388.31 364.45,388.58 C368.7,388.86 374.13,391.19 377.2,389.42 C380.27,387.65 380.97,381.78 382.85,377.96 C384.74,374.14 386.38,370.18 388.51,366.5 C390.63,362.82 393.24,359.42 395.6,355.88 C397.97,352.33 402.7,348.79 402.7,345.25 Z" fill="none" stroke="#e41c1c" stroke-width="2.1"/>
<circle cx="351.7" cy="345.25" r="19.3" fill="none" stroke="#f0a535" stroke-width="2.4"/>
</g>
<rect x="262.7" y="256.0" width="178.3" height="178.39999999999998" fill="none" stroke="#222" stroke-width="1.6"/>
<text x="268.5" y="277" font-family='"Liberation Serif", "Times New Roman", serif' font-size="18" text-anchor="start" fill="#000" >(d)</text>
<text x="352.5" y="350.5" font-family='"Liberation Sans", Arial, sans-serif' font-size="12.5" text-anchor="middle" fill="#222" >Γ</text>
<path d="M349.5,339 h6.5" stroke="#222" stroke-width="1.4"/>
<text x="351.7" y="285.5" font-family='"Liberation Sans", Arial, sans-serif' font-size="12.5" text-anchor="middle" fill="#222" >K</text>
<path d="M348.1,273.4 h7.7" stroke="#222" stroke-width="1.4"/>
<text x="417.8" y="350" font-family='"Liberation Sans", Arial, sans-serif' font-size="12.5" text-anchor="start" fill="#222" >M</text>
<path d="M418.7,338.1 h11" stroke="#222" stroke-width="1.4"/>
<path d="M260.2,256.05 h5 M440.9,436.9 v-5 M260.2,300.65 h5 M396.3,436.9 v-5 M260.2,345.25 h5 M351.7,436.9 v-5 M260.2,389.85 h5 M307.1,436.9 v-5 M260.2,434.45 h5 M262.5,436.9 v-5 " stroke="#222" stroke-width="1.2"/>
<text x="259.7" y="260.55" font-family='"Liberation Serif", "Times New Roman", serif' font-size="13.5" text-anchor="end" fill="#111" >1.0</text>
<text x="440.9" y="448.5" font-family='"Liberation Serif", "Times New Roman", serif' font-size="13.5" text-anchor="middle" fill="#111" >1.0</text>
<text x="259.7" y="305.15" font-family='"Liberation Serif", "Times New Roman", serif' font-size="13.5" text-anchor="end" fill="#111" >0.5</text>
<text x="396.3" y="448.5" font-family='"Liberation Serif", "Times New Roman", serif' font-size="13.5" text-anchor="middle" fill="#111" >0.5</text>
<text x="259.7" y="349.75" font-family='"Liberation Serif", "Times New Roman", serif' font-size="13.5" text-anchor="end" fill="#111" >0</text>
<text x="351.7" y="448.5" font-family='"Liberation Serif", "Times New Roman", serif' font-size="13.5" text-anchor="middle" fill="#111" >0</text>
<text x="259.7" y="394.35" font-family='"Liberation Serif", "Times New Roman", serif' font-size="13.5" text-anchor="end" fill="#111" >-0.5</text>
<text x="307.1" y="448.5" font-family='"Liberation Serif", "Times New Roman", serif' font-size="13.5" text-anchor="middle" fill="#111" >-0.5</text>
<text x="259.7" y="438.95" font-family='"Liberation Serif", "Times New Roman", serif' font-size="13.5" text-anchor="end" fill="#111" >-1.0</text>
<text x="262.5" y="448.5" font-family='"Liberation Serif", "Times New Roman", serif' font-size="13.5" text-anchor="middle" fill="#111" >-1.0</text>
<text x="348.2" y="466" font-family='"Liberation Serif", serif' font-size="19" text-anchor="middle" fill="#111">k<tspan font-size="13" dy="4">x</tspan><tspan dy="-4"> (1/Å)</tspan></text>
<text transform="translate(236.8,336.6) rotate(-90)" font-family='"Liberation Serif", serif' font-size="19" text-anchor="middle" fill="#111"><tspan font-weight="bold">k</tspan><tspan font-size="13" dy="4" font-weight="bold">y</tspan><tspan dy="-4"> (1/Å)</tspan></text>
<path d="M447.6,273.3 h12" stroke="#f0a535" stroke-width="1.7"/>
<text x="461.5" y="278" font-family='"Liberation Serif", "Times New Roman", serif' font-size="17" text-anchor="start" fill="#111" >α</text>
<path d="M447.6,291.1 h12" stroke="#e41c1c" stroke-width="1.7"/>
<text x="461.5" y="295.8" font-family='"Liberation Serif", "Times New Roman", serif' font-size="17" text-anchor="start" fill="#111" >β</text>
<path d="M447.6,308.9 h12" stroke="#52b6f2" stroke-width="1.7"/>
<text x="461.5" y="313.6" font-family='"Liberation Serif", "Times New Roman", serif' font-size="17" text-anchor="start" fill="#111" >γ</text>
<path d="M447.6,326.7 h12" stroke="#1db41d" stroke-width="1.7"/>
<text x="461.5" y="331.4" font-family='"Liberation Serif", "Times New Roman", serif' font-size="17" text-anchor="start" fill="#111" >δ</text>
<rect x="449.6" y="385.5" width="10.7" height="38.8" fill="url(#cbar)" stroke="#111" stroke-width="1.3"/>
<text x="455.7" y="379.2" font-family='"Liberation Serif", "Times New Roman", serif' font-size="10" text-anchor="middle" fill="#111" >High</text>
<text x="456.3" y="434.8" font-family='"Liberation Serif", "Times New Roman", serif' font-size="10" text-anchor="middle" fill="#111" >Low</text>
<defs><clipPath id="cpe"><rect x="489.6" y="256.0" width="178.39999999999998" height="178.39999999999998"/></clipPath></defs>
<g clip-path="url(#cpe)">
<path d="M579,277.35 L520.2,311.3 L520.2,379.2 L579,413.15 L637.8,379.2 L637.8,311.3 Z M579,277.35 L579,256 M520.2,311.3 L489.6,293.63 M520.2,379.2 L489.6,396.87 M579,413.15 L579,434.4 M637.8,379.2 L668,396.63 M637.8,311.3 L668,293.87 " fill="none" stroke="#222" stroke-width="1.1"/>
<path d="M597.69,277.35 L597.44,276.71 L597.19,276.08 L596.94,275.46 L596.69,274.86 L596.44,274.27 L596.19,273.7 L595.93,273.13 L595.67,272.57 L595.4,272.02 L595.14,271.48 L594.86,270.94 L594.59,270.41 L594.3,269.89 L594.02,269.37 L593.72,268.85 L593.42,268.34 L593.12,267.83 L592.8,267.32 L592.48,266.82 L592.15,266.31 L591.82,265.81 L591.47,265.3 L591.12,264.8 L590.76,264.29 L590.38,263.78 L590,263.27 L589.6,262.75 L589.2,262.23 L588.78,261.7 L588.34,261.17 L587.89,260.62 L587.43,260.07 L586.95,259.5 L586.45,258.92 L585.93,258.32 L585.39,257.7 L584.82,257.06 L584.23,256.39 L583.6,255.7 L582.95,254.97 L582.25,254.2 L581.52,253.39 L580.74,252.52 L579.9,251.58 L579,250.57 L578.1,251.58 L577.26,252.52 L576.48,253.39 L575.75,254.2 L575.05,254.97 L574.4,255.7 L573.77,256.39 L573.18,257.06 L572.61,257.7 L572.07,258.32 L571.55,258.92 L571.05,259.5 L570.57,260.07 L570.11,260.62 L569.66,261.17 L569.22,261.7 L568.8,262.23 L568.4,262.75 L568,263.27 L567.62,263.78 L567.24,264.29 L566.88,264.8 L566.53,265.3 L566.18,265.81 L565.85,266.31 L565.52,266.82 L565.2,267.32 L564.88,267.83 L564.58,268.34 L564.28,268.85 L563.98,269.37 L563.7,269.89 L563.41,270.41 L563.14,270.94 L562.86,271.48 L562.6,272.02 L562.33,272.57 L562.07,273.13 L561.81,273.7 L561.56,274.27 L561.31,274.86 L561.06,275.46 L560.81,276.08 L560.56,276.71 L560.31,277.35 L560.07,278.01 L559.82,278.69 L559.56,279.39 L559.31,280.12 L559.05,280.87 L558.79,281.65 L558.52,282.46 L558.24,283.3 L557.95,284.19 L557.64,285.12 L557.33,286.11 L556.99,287.15 L556.62,288.26 L556.23,289.46 L555.81,290.74 L557.13,291.01 L558.36,291.27 L559.51,291.51 L560.58,291.74 L561.59,291.96 L562.55,292.16 L563.46,292.35 L564.34,292.53 L565.17,292.71 L565.98,292.87 L566.76,293.02 L567.51,293.16 L568.25,293.29 L568.96,293.42 L569.66,293.53 L570.34,293.64 L571.01,293.74 L571.66,293.83 L572.31,293.92 L572.94,293.99 L573.57,294.06 L574.19,294.12 L574.8,294.18 L575.41,294.22 L576.02,294.26 L576.62,294.29 L577.22,294.32 L577.81,294.34 L578.41,294.35 L579,294.35 L579.59,294.35 L580.19,294.34 L580.78,294.32 L581.38,294.29 L581.98,294.26 L582.59,294.22 L583.2,294.18 L583.81,294.12 L584.43,294.06 L585.06,293.99 L585.69,293.92 L586.34,293.83 L586.99,293.74 L587.66,293.64 L588.34,293.53 L589.04,293.42 L589.75,293.29 L590.49,293.16 L591.24,293.02 L592.02,292.87 L592.83,292.71 L593.66,292.53 L594.54,292.35 L595.45,292.16 L596.41,291.96 L597.42,291.74 L598.49,291.51 L599.64,291.27 L600.87,291.01 L602.19,290.74 L601.77,289.46 L601.38,288.26 L601.01,287.15 L600.67,286.11 L600.36,285.12 L600.05,284.19 L599.76,283.3 L599.48,282.46 L599.21,281.65 L598.95,280.87 L598.69,280.12 L598.44,279.39 L598.18,278.69 L597.93,278.01 Z" fill="none" stroke="#62bdf0" stroke-width="1.7" stroke-linejoin="round"/>
<path d="M573.37,266.1 Q568.87,271.5 566.44,278.1 A6.5,6.5 0 0 0 572.07,287.85 Q579,289.05 585.93,287.85 A6.5,6.5 0 0 0 591.56,278.1 Q589.13,271.5 584.63,266.1 A6.5,6.5 0 0 0 573.37,266.1 Z" fill="none" stroke="#1fb51f" stroke-width="2"/>
<path d="M538.88,311.3 L539.13,310.64 L539.38,309.96 L539.63,309.26 L539.89,308.53 L540.14,307.78 L540.41,307 L540.68,306.19 L540.96,305.35 L541.25,304.46 L541.55,303.53 L541.87,302.54 L542.21,301.5 L542.57,300.39 L542.96,299.19 L543.39,297.91 L542.06,297.64 L540.84,297.38 L539.69,297.14 L538.62,296.91 L537.61,296.69 L536.65,296.49 L535.73,296.3 L534.86,296.12 L534.02,295.94 L533.22,295.78 L532.44,295.63 L531.68,295.49 L530.95,295.36 L530.24,295.23 L529.54,295.12 L528.86,295.01 L528.19,294.91 L527.54,294.82 L526.89,294.73 L526.25,294.66 L525.63,294.59 L525.01,294.53 L524.39,294.47 L523.78,294.43 L523.18,294.39 L522.58,294.36 L521.98,294.33 L521.38,294.31 L520.79,294.3 L520.2,294.3 L519.6,294.3 L519.01,294.31 L518.41,294.33 L517.82,294.36 L517.21,294.39 L516.61,294.43 L516,294.47 L515.39,294.53 L514.77,294.59 L514.14,294.66 L513.5,294.73 L512.86,294.82 L512.2,294.91 L511.53,295.01 L510.85,295.12 L510.16,295.23 L509.44,295.36 L508.71,295.49 L507.96,295.63 L507.18,295.78 L506.37,295.94 L505.53,296.12 L504.66,296.3 L503.75,296.49 L502.79,296.69 L501.78,296.91 L500.7,297.14 L499.56,297.38 L498.33,297.64 L497,297.91 L497.43,299.19 L497.82,300.39 L498.18,301.5 L498.52,302.54 L498.84,303.53 L499.15,304.46 L499.44,305.35 L499.71,306.19 L499.99,307 L500.25,307.78 L500.51,308.53 L500.76,309.26 L501.01,309.96 L501.26,310.64 L501.51,311.3 L501.76,311.94 L502.01,312.57 L502.25,313.19 L502.5,313.79 L502.76,314.38 L503.01,314.95 L503.27,315.52 L503.53,316.08 L503.79,316.63 L504.06,317.17 L504.33,317.71 L504.61,318.24 L504.89,318.76 L505.18,319.28 L505.47,319.8 L505.77,320.31 L506.08,320.82 L506.39,321.33 L506.71,321.83 L507.04,322.34 L507.38,322.84 L507.72,323.35 L508.08,323.85 L508.44,324.36 L508.81,324.87 L509.2,325.38 L509.59,325.9 L510,326.42 L510.42,326.95 L510.85,327.48 L511.3,328.03 L511.77,328.58 L512.25,329.15 L512.75,329.73 L513.27,330.33 L513.81,330.95 L514.38,331.59 L514.97,332.26 L515.59,332.95 L516.25,333.68 L516.94,334.45 L517.68,335.26 L518.46,336.13 L519.3,337.07 L520.2,338.08 L521.1,337.07 L521.93,336.13 L522.72,335.26 L523.45,334.45 L524.14,333.68 L524.8,332.95 L525.42,332.26 L526.02,331.59 L526.58,330.95 L527.12,330.33 L527.65,329.73 L528.15,329.15 L528.63,328.58 L529.09,328.03 L529.54,327.48 L529.97,326.95 L530.39,326.42 L530.8,325.9 L531.2,325.38 L531.58,324.87 L531.95,324.36 L532.32,323.85 L532.67,323.35 L533.02,322.84 L533.35,322.34 L533.68,321.83 L534,321.33 L534.31,320.82 L534.62,320.31 L534.92,319.8 L535.21,319.28 L535.5,318.76 L535.78,318.24 L536.06,317.71 L536.33,317.17 L536.6,316.63 L536.87,316.08 L537.13,315.52 L537.38,314.95 L537.64,314.38 L537.89,313.79 L538.14,313.19 L538.39,312.57 L538.64,311.94 Z" fill="none" stroke="#62bdf0" stroke-width="1.7" stroke-linejoin="round"/>
<path d="M507.64,310.55 Q510.06,317.15 514.57,322.55 A6.5,6.5 0 0 0 525.83,322.55 Q530.33,317.15 532.75,310.55 A6.5,6.5 0 0 0 527.13,300.8 Q520.2,299.6 513.27,300.8 A6.5,6.5 0 0 0 507.64,310.55 Z" fill="none" stroke="#1fb51f" stroke-width="2"/>
<path d="M538.88,379.2 L538.64,378.56 L538.39,377.93 L538.14,377.31 L537.89,376.71 L537.64,376.12 L537.38,375.55 L537.13,374.98 L536.87,374.42 L536.6,373.87 L536.33,373.33 L536.06,372.79 L535.78,372.26 L535.5,371.74 L535.21,371.22 L534.92,370.7 L534.62,370.19 L534.31,369.68 L534,369.17 L533.68,368.67 L533.35,368.16 L533.02,367.66 L532.67,367.15 L532.32,366.65 L531.95,366.14 L531.58,365.63 L531.2,365.12 L530.8,364.6 L530.39,364.08 L529.97,363.55 L529.54,363.02 L529.09,362.47 L528.63,361.92 L528.15,361.35 L527.65,360.77 L527.12,360.17 L526.58,359.55 L526.02,358.91 L525.42,358.24 L524.8,357.55 L524.14,356.82 L523.45,356.05 L522.72,355.24 L521.93,354.37 L521.1,353.43 L520.2,352.42 L519.3,353.43 L518.46,354.37 L517.68,355.24 L516.94,356.05 L516.25,356.82 L515.59,357.55 L514.97,358.24 L514.38,358.91 L513.81,359.55 L513.27,360.17 L512.75,360.77 L512.25,361.35 L511.77,361.92 L511.3,362.47 L510.85,363.02 L510.42,363.55 L510,364.08 L509.59,364.6 L509.2,365.12 L508.81,365.63 L508.44,366.14 L508.08,366.65 L507.72,367.15 L507.38,367.66 L507.04,368.16 L506.71,368.67 L506.39,369.17 L506.08,369.68 L505.77,370.19 L505.47,370.7 L505.18,371.22 L504.89,371.74 L504.61,372.26 L504.33,372.79 L504.06,373.33 L503.79,373.87 L503.53,374.42 L503.27,374.98 L503.01,375.55 L502.76,376.12 L502.5,376.71 L502.25,377.31 L502.01,377.93 L501.76,378.56 L501.51,379.2 L501.26,379.86 L501.01,380.54 L500.76,381.24 L500.51,381.97 L500.25,382.72 L499.99,383.5 L499.71,384.31 L499.44,385.15 L499.15,386.04 L498.84,386.97 L498.52,387.96 L498.18,389 L497.82,390.11 L497.43,391.31 L497,392.59 L498.33,392.86 L499.56,393.12 L500.7,393.36 L501.78,393.59 L502.79,393.81 L503.75,394.01 L504.66,394.2 L505.53,394.38 L506.37,394.56 L507.18,394.72 L507.96,394.87 L508.71,395.01 L509.44,395.14 L510.16,395.27 L510.85,395.38 L511.53,395.49 L512.2,395.59 L512.86,395.68 L513.5,395.77 L514.14,395.84 L514.77,395.91 L515.39,395.97 L516,396.03 L516.61,396.07 L517.21,396.11 L517.82,396.14 L518.41,396.17 L519.01,396.19 L519.6,396.2 L520.2,396.2 L520.79,396.2 L521.38,396.19 L521.98,396.17 L522.58,396.14 L523.18,396.11 L523.78,396.07 L524.39,396.03 L525.01,395.97 L525.63,395.91 L526.25,395.84 L526.89,395.77 L527.54,395.68 L528.19,395.59 L528.86,395.49 L529.54,395.38 L530.24,395.27 L530.95,395.14 L531.68,395.01 L532.44,394.87 L533.22,394.72 L534.02,394.56 L534.86,394.38 L535.73,394.2 L536.65,394.01 L537.61,393.81 L538.62,393.59 L539.69,393.36 L540.84,393.12 L542.06,392.86 L543.39,392.59 L542.96,391.31 L542.57,390.11 L542.21,389 L541.87,387.96 L541.55,386.97 L541.25,386.04 L540.96,385.15 L540.68,384.31 L540.41,383.5 L540.14,382.72 L539.89,381.97 L539.63,381.24 L539.38,380.54 L539.13,379.86 Z" fill="none" stroke="#62bdf0" stroke-width="1.7" stroke-linejoin="round"/>
<path d="M513.27,389.7 Q520.2,390.9 527.13,389.7 A6.5,6.5 0 0 0 532.75,379.95 Q530.33,373.35 525.83,367.95 A6.5,6.5 0 0 0 514.57,367.95 Q510.06,373.35 507.64,379.95 A6.5,6.5 0 0 0 513.27,389.7 Z" fill="none" stroke="#1fb51f" stroke-width="2"/>
<path d="M597.69,413.15 L597.93,412.49 L598.18,411.81 L598.44,411.11 L598.69,410.38 L598.95,409.63 L599.21,408.85 L599.48,408.04 L599.76,407.2 L600.05,406.31 L600.36,405.38 L600.67,404.39 L601.01,403.35 L601.38,402.24 L601.77,401.04 L602.19,399.76 L600.87,399.49 L599.64,399.23 L598.49,398.99 L597.42,398.76 L596.41,398.54 L595.45,398.34 L594.54,398.15 L593.66,397.97 L592.83,397.79 L592.02,397.63 L591.24,397.48 L590.49,397.34 L589.75,397.21 L589.04,397.08 L588.34,396.97 L587.66,396.86 L586.99,396.76 L586.34,396.67 L585.69,396.58 L585.06,396.51 L584.43,396.44 L583.81,396.38 L583.2,396.32 L582.59,396.28 L581.98,396.24 L581.38,396.21 L580.78,396.18 L580.19,396.16 L579.59,396.15 L579,396.15 L578.41,396.15 L577.81,396.16 L577.22,396.18 L576.62,396.21 L576.02,396.24 L575.41,396.28 L574.8,396.32 L574.19,396.38 L573.57,396.44 L572.94,396.51 L572.31,396.58 L571.66,396.67 L571.01,396.76 L570.34,396.86 L569.66,396.97 L568.96,397.08 L568.25,397.21 L567.51,397.34 L566.76,397.48 L565.98,397.63 L565.17,397.79 L564.34,397.97 L563.46,398.15 L562.55,398.34 L561.59,398.54 L560.58,398.76 L559.51,398.99 L558.36,399.23 L557.13,399.49 L555.81,399.76 L556.23,401.04 L556.62,402.24 L556.99,403.35 L557.33,404.39 L557.64,405.38 L557.95,406.31 L558.24,407.2 L558.52,408.04 L558.79,408.85 L559.05,409.63 L559.31,410.38 L559.56,411.11 L559.82,411.81 L560.07,412.49 L560.31,413.15 L560.56,413.79 L560.81,414.42 L561.06,415.04 L561.31,415.64 L561.56,416.23 L561.81,416.8 L562.07,417.37 L562.33,417.93 L562.6,418.48 L562.86,419.02 L563.14,419.56 L563.41,420.09 L563.7,420.61 L563.98,421.13 L564.28,421.65 L564.58,422.16 L564.88,422.67 L565.2,423.18 L565.52,423.68 L565.85,424.19 L566.18,424.69 L566.53,425.2 L566.88,425.7 L567.24,426.21 L567.62,426.72 L568,427.23 L568.4,427.75 L568.8,428.27 L569.22,428.8 L569.66,429.33 L570.11,429.88 L570.57,430.43 L571.05,431 L571.55,431.58 L572.07,432.18 L572.61,432.8 L573.18,433.44 L573.77,434.11 L574.4,434.8 L575.05,435.53 L575.75,436.3 L576.48,437.11 L577.26,437.98 L578.1,438.92 L579,439.93 L579.9,438.92 L580.74,437.98 L581.52,437.11 L582.25,436.3 L582.95,435.53 L583.6,434.8 L584.23,434.11 L584.82,433.44 L585.39,432.8 L585.93,432.18 L586.45,431.58 L586.95,431 L587.43,430.43 L587.89,429.88 L588.34,429.33 L588.78,428.8 L589.2,428.27 L589.6,427.75 L590,427.23 L590.38,426.72 L590.76,426.21 L591.12,425.7 L591.47,425.2 L591.82,424.69 L592.15,424.19 L592.48,423.68 L592.8,423.18 L593.12,422.67 L593.42,422.16 L593.72,421.65 L594.02,421.13 L594.3,420.61 L594.59,420.09 L594.86,419.56 L595.14,419.02 L595.4,418.48 L595.67,417.93 L595.93,417.37 L596.19,416.8 L596.44,416.23 L596.69,415.64 L596.94,415.04 L597.19,414.42 L597.44,413.79 Z" fill="none" stroke="#62bdf0" stroke-width="1.7" stroke-linejoin="round"/>
<path d="M584.63,424.4 Q589.13,419 591.56,412.4 A6.5,6.5 0 0 0 585.93,402.65 Q579,401.45 572.07,402.65 A6.5,6.5 0 0 0 566.44,412.4 Q568.87,419 573.37,424.4 A6.5,6.5 0 0 0 584.63,424.4 Z" fill="none" stroke="#1fb51f" stroke-width="2"/>
<path d="M656.49,379.2 L656.24,378.56 L655.99,377.93 L655.75,377.31 L655.5,376.71 L655.24,376.12 L654.99,375.55 L654.73,374.98 L654.47,374.42 L654.21,373.87 L653.94,373.33 L653.67,372.79 L653.39,372.26 L653.11,371.74 L652.82,371.22 L652.53,370.7 L652.23,370.19 L651.92,369.68 L651.61,369.17 L651.29,368.67 L650.96,368.16 L650.62,367.66 L650.28,367.15 L649.92,366.65 L649.56,366.14 L649.19,365.63 L648.8,365.12 L648.41,364.6 L648,364.08 L647.58,363.55 L647.15,363.02 L646.7,362.47 L646.23,361.92 L645.75,361.35 L645.25,360.77 L644.73,360.17 L644.19,359.55 L643.62,358.91 L643.03,358.24 L642.41,357.55 L641.75,356.82 L641.06,356.05 L640.32,355.24 L639.54,354.37 L638.7,353.43 L637.8,352.42 L636.9,353.43 L636.07,354.37 L635.28,355.24 L634.55,356.05 L633.86,356.82 L633.2,357.55 L632.58,358.24 L631.98,358.91 L631.42,359.55 L630.88,360.17 L630.35,360.77 L629.85,361.35 L629.37,361.92 L628.91,362.47 L628.46,363.02 L628.03,363.55 L627.61,364.08 L627.2,364.6 L626.8,365.12 L626.42,365.63 L626.05,366.14 L625.68,366.65 L625.33,367.15 L624.98,367.66 L624.65,368.16 L624.32,368.67 L624,369.17 L623.69,369.68 L623.38,370.19 L623.08,370.7 L622.79,371.22 L622.5,371.74 L622.22,372.26 L621.94,372.79 L621.67,373.33 L621.4,373.87 L621.13,374.42 L620.87,374.98 L620.62,375.55 L620.36,376.12 L620.11,376.71 L619.86,377.31 L619.61,377.93 L619.36,378.56 L619.12,379.2 L618.87,379.86 L618.62,380.54 L618.37,381.24 L618.11,381.97 L617.86,382.72 L617.59,383.5 L617.32,384.31 L617.04,385.15 L616.75,386.04 L616.45,386.97 L616.13,387.96 L615.79,389 L615.43,390.11 L615.04,391.31 L614.61,392.59 L615.94,392.86 L617.16,393.12 L618.31,393.36 L619.38,393.59 L620.39,393.81 L621.35,394.01 L622.27,394.2 L623.14,394.38 L623.98,394.56 L624.78,394.72 L625.56,394.87 L626.32,395.01 L627.05,395.14 L627.76,395.27 L628.46,395.38 L629.14,395.49 L629.81,395.59 L630.46,395.68 L631.11,395.77 L631.75,395.84 L632.37,395.91 L632.99,395.97 L633.61,396.03 L634.22,396.07 L634.82,396.11 L635.42,396.14 L636.02,396.17 L636.62,396.19 L637.21,396.2 L637.8,396.2 L638.4,396.2 L638.99,396.19 L639.59,396.17 L640.18,396.14 L640.79,396.11 L641.39,396.07 L642,396.03 L642.61,395.97 L643.23,395.91 L643.86,395.84 L644.5,395.77 L645.14,395.68 L645.8,395.59 L646.47,395.49 L647.15,395.38 L647.84,395.27 L648.56,395.14 L649.29,395.01 L650.04,394.87 L650.82,394.72 L651.63,394.56 L652.47,394.38 L653.34,394.2 L654.25,394.01 L655.21,393.81 L656.22,393.59 L657.3,393.36 L658.44,393.12 L659.67,392.86 L661,392.59 L660.57,391.31 L660.18,390.11 L659.82,389 L659.48,387.96 L659.16,386.97 L658.85,386.04 L658.56,385.15 L658.29,384.31 L658.01,383.5 L657.75,382.72 L657.49,381.97 L657.24,381.24 L656.99,380.54 L656.74,379.86 Z" fill="none" stroke="#62bdf0" stroke-width="1.7" stroke-linejoin="round"/>
<path d="M650.36,379.95 Q647.94,373.35 643.43,367.95 A6.5,6.5 0 0 0 632.17,367.95 Q627.67,373.35 625.25,379.95 A6.5,6.5 0 0 0 630.87,389.7 Q637.8,390.9 644.73,389.7 A6.5,6.5 0 0 0 650.36,379.95 Z" fill="none" stroke="#1fb51f" stroke-width="2"/>
<path d="M656.49,311.3 L656.74,310.64 L656.99,309.96 L657.24,309.26 L657.49,308.53 L657.75,307.78 L658.01,307 L658.29,306.19 L658.56,305.35 L658.85,304.46 L659.16,303.53 L659.48,302.54 L659.82,301.5 L660.18,300.39 L660.57,299.19 L661,297.91 L659.67,297.64 L658.44,297.38 L657.3,297.14 L656.22,296.91 L655.21,296.69 L654.25,296.49 L653.34,296.3 L652.47,296.12 L651.63,295.94 L650.82,295.78 L650.04,295.63 L649.29,295.49 L648.56,295.36 L647.84,295.23 L647.15,295.12 L646.47,295.01 L645.8,294.91 L645.14,294.82 L644.5,294.73 L643.86,294.66 L643.23,294.59 L642.61,294.53 L642,294.47 L641.39,294.43 L640.79,294.39 L640.18,294.36 L639.59,294.33 L638.99,294.31 L638.4,294.3 L637.8,294.3 L637.21,294.3 L636.62,294.31 L636.02,294.33 L635.42,294.36 L634.82,294.39 L634.22,294.43 L633.61,294.47 L632.99,294.53 L632.37,294.59 L631.75,294.66 L631.11,294.73 L630.46,294.82 L629.81,294.91 L629.14,295.01 L628.46,295.12 L627.76,295.23 L627.05,295.36 L626.32,295.49 L625.56,295.63 L624.78,295.78 L623.98,295.94 L623.14,296.12 L622.27,296.3 L621.35,296.49 L620.39,296.69 L619.38,296.91 L618.31,297.14 L617.16,297.38 L615.94,297.64 L614.61,297.91 L615.04,299.19 L615.43,300.39 L615.79,301.5 L616.13,302.54 L616.45,303.53 L616.75,304.46 L617.04,305.35 L617.32,306.19 L617.59,307 L617.86,307.78 L618.11,308.53 L618.37,309.26 L618.62,309.96 L618.87,310.64 L619.12,311.3 L619.36,311.94 L619.61,312.57 L619.86,313.19 L620.11,313.79 L620.36,314.38 L620.62,314.95 L620.87,315.52 L621.13,316.08 L621.4,316.63 L621.67,317.17 L621.94,317.71 L622.22,318.24 L622.5,318.76 L622.79,319.28 L623.08,319.8 L623.38,320.31 L623.69,320.82 L624,321.33 L624.32,321.83 L624.65,322.34 L624.98,322.84 L625.33,323.35 L625.68,323.85 L626.05,324.36 L626.42,324.87 L626.8,325.38 L627.2,325.9 L627.61,326.42 L628.03,326.95 L628.46,327.48 L628.91,328.03 L629.37,328.58 L629.85,329.15 L630.35,329.73 L630.88,330.33 L631.42,330.95 L631.98,331.59 L632.58,332.26 L633.2,332.95 L633.86,333.68 L634.55,334.45 L635.28,335.26 L636.07,336.13 L636.9,337.07 L637.8,338.08 L638.7,337.07 L639.54,336.13 L640.32,335.26 L641.06,334.45 L641.75,333.68 L642.41,332.95 L643.03,332.26 L643.62,331.59 L644.19,330.95 L644.73,330.33 L645.25,329.73 L645.75,329.15 L646.23,328.58 L646.7,328.03 L647.15,327.48 L647.58,326.95 L648,326.42 L648.41,325.9 L648.8,325.38 L649.19,324.87 L649.56,324.36 L649.92,323.85 L650.28,323.35 L650.62,322.84 L650.96,322.34 L651.29,321.83 L651.61,321.33 L651.92,320.82 L652.23,320.31 L652.53,319.8 L652.82,319.28 L653.11,318.76 L653.39,318.24 L653.67,317.71 L653.94,317.17 L654.21,316.63 L654.47,316.08 L654.73,315.52 L654.99,314.95 L655.24,314.38 L655.5,313.79 L655.75,313.19 L655.99,312.57 L656.24,311.94 Z" fill="none" stroke="#62bdf0" stroke-width="1.7" stroke-linejoin="round"/>
<path d="M644.73,300.8 Q637.8,299.6 630.87,300.8 A6.5,6.5 0 0 0 625.25,310.55 Q627.67,317.15 632.17,322.55 A6.5,6.5 0 0 0 643.43,322.55 Q647.94,317.15 650.36,310.55 A6.5,6.5 0 0 0 644.73,300.8 Z" fill="none" stroke="#1fb51f" stroke-width="2"/>
<path d="M630.5,345.25 C630.5,341.67 625.75,338.08 623.37,334.5 C620.99,330.92 618.38,327.47 616.24,323.75 C614.09,320.03 612.41,316.05 610.49,312.2 C608.58,308.35 607.85,302.44 604.75,300.65 C601.65,298.86 596.17,301.18 591.88,301.45 C587.58,301.72 583.29,302.25 579,302.25 C574.71,302.25 570.42,301.72 566.12,301.45 C561.83,301.18 556.35,298.86 553.25,300.65 C550.15,302.44 549.42,308.35 547.51,312.2 C545.59,316.05 543.91,320.03 541.76,323.75 C539.62,327.47 537.01,330.92 534.63,334.5 C532.25,338.08 527.5,341.67 527.5,345.25 C527.5,348.83 532.25,352.42 534.63,356 C537.01,359.58 539.62,363.03 541.76,366.75 C543.91,370.47 545.59,374.45 547.51,378.3 C549.42,382.15 550.15,388.06 553.25,389.85 C556.35,391.64 561.83,389.32 566.12,389.05 C570.42,388.78 574.71,388.25 579,388.25 C583.29,388.25 587.58,388.78 591.88,389.05 C596.17,389.32 601.65,391.64 604.75,389.85 C607.85,388.06 608.58,382.15 610.49,378.3 C612.41,374.45 614.09,370.47 616.24,366.75 C618.38,363.03 620.99,359.58 623.37,356 C625.75,352.42 630.5,348.83 630.5,345.25 Z" fill="none" stroke="#ee2222" stroke-width="1.8"/>
<circle cx="579" cy="345.25" r="22.5" fill="none" stroke="#f5a623" stroke-width="1.8"/>
<path d="M642,343.45 L639.6,341.05 Q637.8,339.25 636,341.05 L633.6,343.45 Q631.8,345.25 633.6,347.05 L636,349.45 Q637.8,351.25 639.6,349.45 L642,347.05 Q643.8,345.25 642,343.45 Z" fill="none" stroke="#7a2ed6" stroke-width="2"/>
<path d="M608.94,289.79 L605.66,290.67 Q603.2,291.33 603.86,293.79 L604.74,297.06 Q605.4,299.52 607.86,298.86 L611.14,297.99 Q613.6,297.33 612.94,294.87 L612.06,291.59 Q611.4,289.13 608.94,289.79 Z" fill="none" stroke="#7a2ed6" stroke-width="2"/>
<path d="M545.94,291.59 L545.06,294.87 Q544.4,297.33 546.86,297.99 L550.14,298.86 Q552.6,299.52 553.26,297.06 L554.14,293.79 Q554.8,291.33 552.34,290.67 L549.06,289.79 Q546.6,289.13 545.94,291.59 Z" fill="none" stroke="#7a2ed6" stroke-width="2"/>
<path d="M516,347.05 L518.4,349.45 Q520.2,351.25 522,349.45 L524.4,347.05 Q526.2,345.25 524.4,343.45 L522,341.05 Q520.2,339.25 518.4,341.05 L516,343.45 Q514.2,345.25 516,347.05 Z" fill="none" stroke="#7a2ed6" stroke-width="2"/>
<path d="M549.06,400.71 L552.34,399.83 Q554.8,399.17 554.14,396.71 L553.26,393.44 Q552.6,390.98 550.14,391.64 L546.86,392.51 Q544.4,393.17 545.06,395.63 L545.94,398.91 Q546.6,401.37 549.06,400.71 Z" fill="none" stroke="#7a2ed6" stroke-width="2"/>
<path d="M612.06,398.91 L612.94,395.63 Q613.6,393.17 611.14,392.51 L607.86,391.64 Q605.4,390.98 604.74,393.44 L603.86,396.71 Q603.2,399.17 605.66,399.83 L608.94,400.71 Q611.4,401.37 612.06,398.91 Z" fill="none" stroke="#7a2ed6" stroke-width="2"/>
</g>
<rect x="489.6" y="256.0" width="178.39999999999998" height="178.39999999999998" fill="none" stroke="#222" stroke-width="1.6"/>
<text x="496" y="277" font-family='"Liberation Serif", "Times New Roman", serif' font-size="18" text-anchor="start" fill="#000" >(e)</text>
<text x="580" y="350.5" font-family='"Liberation Sans", Arial, sans-serif' font-size="12.5" text-anchor="middle" fill="#222" >Γ</text>
<path d="M577,339 h6" stroke="#222" stroke-width="1.4"/>
<text x="579.6" y="281.5" font-family='"Liberation Sans", Arial, sans-serif' font-size="12.5" text-anchor="middle" fill="#222" >K</text>
<path d="M575.7,269.6 h8.1" stroke="#222" stroke-width="1.4"/>
<text x="645.7" y="349.8" font-family='"Liberation Sans", Arial, sans-serif' font-size="12.5" text-anchor="start" fill="#222" >M</text>
<path d="M646,338.1 h10.9" stroke="#222" stroke-width="1.4"/>
<path d="M487.1,256.05 h5 M668.2,436.9 v-5 M487.1,300.65 h5 M623.6,436.9 v-5 M487.1,345.25 h5 M579,436.9 v-5 M487.1,389.85 h5 M534.4,436.9 v-5 M487.1,434.45 h5 M489.8,436.9 v-5 " stroke="#222" stroke-width="1.2"/>
<text x="487.6" y="260.55" font-family='"Liberation Serif", "Times New Roman", serif' font-size="13.5" text-anchor="end" fill="#111" >1.0</text>
<text x="668.2" y="448.5" font-family='"Liberation Serif", "Times New Roman", serif' font-size="13.5" text-anchor="middle" fill="#111" >1.0</text>
<text x="487.6" y="305.15" font-family='"Liberation Serif", "Times New Roman", serif' font-size="13.5" text-anchor="end" fill="#111" >0.5</text>
<text x="623.6" y="448.5" font-family='"Liberation Serif", "Times New Roman", serif' font-size="13.5" text-anchor="middle" fill="#111" >0.5</text>
<text x="487.6" y="349.75" font-family='"Liberation Serif", "Times New Roman", serif' font-size="13.5" text-anchor="end" fill="#111" >0</text>
<text x="579" y="448.5" font-family='"Liberation Serif", "Times New Roman", serif' font-size="13.5" text-anchor="middle" fill="#111" >0</text>
<text x="487.6" y="394.35" font-family='"Liberation Serif", "Times New Roman", serif' font-size="13.5" text-anchor="end" fill="#111" >-0.5</text>
<text x="534.4" y="448.5" font-family='"Liberation Serif", "Times New Roman", serif' font-size="13.5" text-anchor="middle" fill="#111" >-0.5</text>
<text x="487.6" y="438.95" font-family='"Liberation Serif", "Times New Roman", serif' font-size="13.5" text-anchor="end" fill="#111" >-1.0</text>
<text x="489.8" y="448.5" font-family='"Liberation Serif", "Times New Roman", serif' font-size="13.5" text-anchor="middle" fill="#111" >-1.0</text>
<text x="579" y="467" font-family='"Liberation Serif", serif' font-size="19" text-anchor="middle" fill="#111">k<tspan font-size="13" dy="4">x</tspan><tspan dy="-4"> (1/Å)</tspan></text>
<path d="M675.6,273.3 h12" stroke="#f5a623" stroke-width="1.7"/>
<text x="689.5" y="278" font-family='"Liberation Serif", "Times New Roman", serif' font-size="17" text-anchor="start" fill="#111" >α</text>
<path d="M675.6,291.1 h12" stroke="#ee2222" stroke-width="1.7"/>
<text x="689.5" y="295.8" font-family='"Liberation Serif", "Times New Roman", serif' font-size="17" text-anchor="start" fill="#111" >β</text>
<path d="M675.6,308.9 h12" stroke="#62bdf0" stroke-width="1.7"/>
<text x="689.5" y="313.6" font-family='"Liberation Serif", "Times New Roman", serif' font-size="17" text-anchor="start" fill="#111" >γ</text>
<path d="M675.6,326.7 h12" stroke="#1fb51f" stroke-width="1.7"/>
<text x="689.5" y="331.4" font-family='"Liberation Serif", "Times New Roman", serif' font-size="17" text-anchor="start" fill="#111" >δ</text>
<defs><filter id="fb1" filterUnits="userSpaceOnUse" x="0" y="0" width="969" height="471"><feGaussianBlur stdDeviation="1.2"/></filter><filter id="fb2" filterUnits="userSpaceOnUse" x="0" y="0" width="969" height="471"><feGaussianBlur stdDeviation="2.2"/></filter><filter id="fb3" filterUnits="userSpaceOnUse" x="0" y="0" width="969" height="471"><feGaussianBlur stdDeviation="3.5"/></filter><clipPath id="cpfl"><rect x="717.0" y="286.6" width="108.20000000000005" height="149.39999999999998"/></clipPath><clipPath id="cpfr"><rect x="852.2" y="273.4" width="107.29999999999995" height="162.10000000000002"/></clipPath><linearGradient id="gbw" x1="0" x2="1"><stop offset="0" stop-color="#fff"/><stop offset="0.5" stop-color="#999"/><stop offset="1" stop-color="#000"/></linearGradient><linearGradient id="gbb" x1="0" x2="1"><stop offset="0" stop-color="#fff"/><stop offset="0.55" stop-color="#1010ff"/><stop offset="1" stop-color="#000"/></linearGradient></defs>
<g clip-path="url(#cpfl)">
<rect x="752.04" y="309.48" width="1.29" height="1.46" fill="rgb(236,236,236)"/><rect x="727.18" y="373.84" width="1.59" height="0.87" fill="rgb(227,227,227)"/><rect x="762.25" y="322.86" width="1.96" height="1.46" fill="rgb(230,230,230)"/><rect x="730.4" y="320.26" width="2.25" height="0.85" fill="rgb(235,235,235)"/><rect x="780.36" y="294.39" width="1.28" height="1.49" fill="rgb(209,209,209)"/><rect x="748.34" y="308.49" width="2.23" height="1.25" fill="rgb(202,202,202)"/><rect x="790.79" y="302.36" width="2.35" height="1.1" fill="rgb(231,231,231)"/><rect x="776.27" y="296.36" width="2.31" height="1.2" fill="rgb(198,198,198)"/><rect x="774.53" y="402.81" width="2.25" height="1.16" fill="rgb(224,224,224)"/><rect x="749.43" y="405.36" width="2.6" height="0.87" fill="rgb(239,239,239)"/><rect x="749.49" y="360.77" width="2.51" height="1.03" fill="rgb(216,216,216)"/><rect x="823.05" y="304.59" width="1.5" height="1.07" fill="rgb(221,221,221)"/><rect x="817.98" y="349.83" width="1.34" height="1.25" fill="rgb(237,237,237)"/><rect x="802.38" y="408.93" width="2.45" height="1.28" fill="rgb(216,216,216)"/><rect x="779.74" y="354.97" width="2.9" height="1.18" fill="rgb(200,200,200)"/><rect x="788.86" y="296.04" width="1.76" height="1.26" fill="rgb(239,239,239)"/><rect x="790.71" y="353.4" width="1.89" height="1.33" fill="rgb(240,240,240)"/><rect x="719.44" y="355.79" width="2.3" height="1.19" fill="rgb(205,205,205)"/><rect x="740.61" y="329.83" width="1.92" height="1.53" fill="rgb(210,210,210)"/><rect x="770.72" y="311.79" width="2.19" height="1.51" fill="rgb(220,220,220)"/><rect x="805.65" y="415.73" width="2.47" height="1.59" fill="rgb(212,212,212)"/><rect x="790.87" y="343.69" width="1.47" height="0.94" fill="rgb(209,209,209)"/><rect x="742.1" y="321.77" width="2.7" height="0.95" fill="rgb(226,226,226)"/><rect x="747.5" y="308.71" width="1.86" height="1.25" fill="rgb(229,229,229)"/><rect x="820.13" y="389.88" width="2.91" height="1.32" fill="rgb(227,227,227)"/><rect x="797.04" y="355.04" width="2.64" height="1.11" fill="rgb(238,238,238)"/><rect x="760.17" y="302.43" width="1.92" height="0.95" fill="rgb(235,235,235)"/><rect x="823.54" y="352.65" width="1.81" height="0.84" fill="rgb(202,202,202)"/><rect x="717.03" y="309.54" width="2.91" height="1.29" fill="rgb(201,201,201)"/><rect x="724.61" y="317.98" width="1.47" height="1" fill="rgb(219,219,219)"/><rect x="754.59" y="341.26" width="1.41" height="1.19" fill="rgb(202,202,202)"/><rect x="822.8" y="358.58" width="1.35" height="0.88" fill="rgb(214,214,214)"/><rect x="754.07" y="326.45" width="1.49" height="0.82" fill="rgb(239,239,239)"/><rect x="819.9" y="365.71" width="2.44" height="1.53" fill="rgb(204,204,204)"/><rect x="799.03" y="331.42" width="2.75" height="1.36" fill="rgb(236,236,236)"/><rect x="745.25" y="341.64" width="1.84" height="0.98" fill="rgb(205,205,205)"/><rect x="775.6" y="361.9" width="1.6" height="1.45" fill="rgb(235,235,235)"/><rect x="823.57" y="414.04" width="2.67" height="1.39" fill="rgb(210,210,210)"/><rect x="741.53" y="364.13" width="2.52" height="1.59" fill="rgb(217,217,217)"/><rect x="802.49" y="357.36" width="2.45" height="1.57" fill="rgb(207,207,207)"/><rect x="765.39" y="426.62" width="2.92" height="1.09" fill="rgb(217,217,217)"/><rect x="740.85" y="320.8" width="1.81" height="1.19" fill="rgb(207,207,207)"/><rect x="823.6" y="377.93" width="2.06" height="1.32" fill="rgb(195,195,195)"/><rect x="803.52" y="299.63" width="1.42" height="1.11" fill="rgb(237,237,237)"/><rect x="793.98" y="316.7" width="1.98" height="1.31" fill="rgb(206,206,206)"/><rect x="726.39" y="427.98" width="2.03" height="1.39" fill="rgb(220,220,220)"/><rect x="726.19" y="310.67" width="1.25" height="1.27" fill="rgb(203,203,203)"/><rect x="767.35" y="384.72" width="2.69" height="1.58" fill="rgb(234,234,234)"/><rect x="788.12" y="339.21" width="2.19" height="0.82" fill="rgb(230,230,230)"/><rect x="803.49" y="395.23" width="2.15" height="1.55" fill="rgb(201,201,201)"/><rect x="763.94" y="416.89" width="1.25" height="0.97" fill="rgb(208,208,208)"/><rect x="771.23" y="400.79" width="1.67" height="1.14" fill="rgb(215,215,215)"/><rect x="731.18" y="422.59" width="2.82" height="1.33" fill="rgb(217,217,217)"/><rect x="805.19" y="364" width="1.44" height="0.92" fill="rgb(227,227,227)"/><rect x="772.24" y="417.05" width="2.3" height="1.42" fill="rgb(206,206,206)"/><rect x="733.21" y="308.09" width="2.51" height="1.25" fill="rgb(234,234,234)"/><rect x="752.27" y="364.23" width="2.07" height="1.42" fill="rgb(230,230,230)"/><rect x="812.57" y="295.47" width="1.7" height="1.42" fill="rgb(207,207,207)"/><rect x="771.93" y="370.7" width="2" height="1.29" fill="rgb(199,199,199)"/><rect x="771.7" y="363.31" width="1.7" height="1.21" fill="rgb(239,239,239)"/><rect x="804.36" y="362.66" width="2.46" height="1.5" fill="rgb(210,210,210)"/><rect x="818.94" y="325.68" width="2.81" height="0.96" fill="rgb(230,230,230)"/><rect x="765.42" y="349.08" width="2" height="0.86" fill="rgb(220,220,220)"/><rect x="743.04" y="297.89" width="1.75" height="0.9" fill="rgb(237,237,237)"/><rect x="801.06" y="426.99" width="2.39" height="0.91" fill="rgb(236,236,236)"/><rect x="812.52" y="431.16" width="2.54" height="0.88" fill="rgb(209,209,209)"/><rect x="812.75" y="311.26" width="2.7" height="0.93" fill="rgb(237,237,237)"/><rect x="763.69" y="363.83" width="1.96" height="1.09" fill="rgb(216,216,216)"/><rect x="726.98" y="341.53" width="2.2" height="1.15" fill="rgb(216,216,216)"/><rect x="718.96" y="336.39" width="1.73" height="1.57" fill="rgb(234,234,234)"/><rect x="729.21" y="423.86" width="2.95" height="0.88" fill="rgb(209,209,209)"/><rect x="745.73" y="292.9" width="1.69" height="0.9" fill="rgb(206,206,206)"/><rect x="762.69" y="422.8" width="1.93" height="1.23" fill="rgb(211,211,211)"/><rect x="772.7" y="360.7" width="1.36" height="0.85" fill="rgb(215,215,215)"/><rect x="791.46" y="350.37" width="1.68" height="0.81" fill="rgb(199,199,199)"/><rect x="726.58" y="325.82" width="2.74" height="0.85" fill="rgb(233,233,233)"/><rect x="810.35" y="354.61" width="2.99" height="1.13" fill="rgb(216,216,216)"/><rect x="816.05" y="379.63" width="2.15" height="0.99" fill="rgb(197,197,197)"/><rect x="728.84" y="311.06" width="1.53" height="1.55" fill="rgb(198,198,198)"/><rect x="785.02" y="366.13" width="1.72" height="1.2" fill="rgb(208,208,208)"/><rect x="736.25" y="338.7" width="2.99" height="0.83" fill="rgb(196,196,196)"/><rect x="718.99" y="362.34" width="2.13" height="1" fill="rgb(207,207,207)"/><rect x="765.37" y="385.09" width="1.98" height="1.2" fill="rgb(236,236,236)"/><rect x="807.31" y="345.57" width="1.75" height="0.97" fill="rgb(227,227,227)"/><rect x="741.84" y="316.6" width="2.51" height="0.91" fill="rgb(240,240,240)"/><rect x="824.06" y="433.3" width="1.23" height="1.3" fill="rgb(203,203,203)"/><rect x="812.2" y="351.18" width="1.35" height="1.47" fill="rgb(198,198,198)"/><rect x="811.19" y="386.91" width="2.28" height="1.35" fill="rgb(213,213,213)"/><rect x="721.89" y="314.62" width="2" height="1.01" fill="rgb(212,212,212)"/><rect x="821.07" y="431.92" width="1.78" height="0.83" fill="rgb(230,230,230)"/><rect x="812.47" y="319.46" width="1.2" height="1.11" fill="rgb(206,206,206)"/><rect x="768.36" y="361.91" width="1.65" height="1.42" fill="rgb(207,207,207)"/><rect x="726.83" y="408.74" width="1.92" height="0.83" fill="rgb(204,204,204)"/><rect x="719.43" y="332.33" width="1.35" height="1.57" fill="rgb(209,209,209)"/><rect x="809.32" y="310.13" width="2.61" height="1.28" fill="rgb(240,240,240)"/><rect x="799.7" y="394.38" width="1.47" height="1.38" fill="rgb(226,226,226)"/><rect x="786.6" y="293.52" width="2.81" height="1.3" fill="rgb(240,240,240)"/><rect x="796.4" y="408.02" width="2.84" height="1.4" fill="rgb(203,203,203)"/><rect x="778.51" y="408.12" width="2.69" height="1.27" fill="rgb(196,196,196)"/><rect x="813.6" y="388.75" width="2.36" height="0.87" fill="rgb(239,239,239)"/><rect x="721.53" y="381.93" width="1.88" height="1.16" fill="rgb(201,201,201)"/><rect x="722.49" y="289.81" width="2.43" height="1.19" fill="rgb(229,229,229)"/><rect x="717.36" y="405.86" width="2.82" height="0.87" fill="rgb(227,227,227)"/><rect x="773.91" y="398.11" width="1.65" height="0.86" fill="rgb(225,225,225)"/><rect x="745.73" y="395.67" width="1.62" height="1.32" fill="rgb(208,208,208)"/><rect x="766.81" y="412.98" width="2.06" height="1.35" fill="rgb(199,199,199)"/><rect x="799.99" y="378.93" width="1.56" height="1.28" fill="rgb(236,236,236)"/><rect x="752.9" y="384.08" width="1.75" height="1.25" fill="rgb(239,239,239)"/><rect x="718.35" y="296.04" width="2.95" height="0.88" fill="rgb(212,212,212)"/><rect x="740.55" y="359.95" width="2.13" height="1.17" fill="rgb(240,240,240)"/><rect x="767.46" y="304.66" width="1.56" height="1.58" fill="rgb(230,230,230)"/><rect x="818.3" y="289.61" width="1.34" height="1.21" fill="rgb(224,224,224)"/><rect x="824.62" y="435.1" width="1.58" height="1.56" fill="rgb(219,219,219)"/><rect x="739.8" y="373.64" width="2.55" height="1.01" fill="rgb(204,204,204)"/><rect x="755.9" y="376.9" width="2.12" height="1.51" fill="rgb(235,235,235)"/><rect x="793.1" y="321.48" width="1.91" height="0.93" fill="rgb(226,226,226)"/><rect x="819.79" y="388.56" width="1.74" height="0.91" fill="rgb(220,220,220)"/><rect x="754.22" y="334.1" width="1.2" height="1.4" fill="rgb(216,216,216)"/><rect x="807.79" y="304.89" width="2.48" height="1.52" fill="rgb(207,207,207)"/><rect x="748.36" y="342.46" width="1.9" height="1.5" fill="rgb(220,220,220)"/><rect x="725.27" y="424.89" width="2.74" height="1.02" fill="rgb(212,212,212)"/><rect x="722.59" y="385.63" width="2.88" height="1" fill="rgb(235,235,235)"/><rect x="745.75" y="363.13" width="2.59" height="1.43" fill="rgb(207,207,207)"/><rect x="763.28" y="291.32" width="1.92" height="1.5" fill="rgb(235,235,235)"/><rect x="776.96" y="317.31" width="1.29" height="1.39" fill="rgb(200,200,200)"/><rect x="765.78" y="399.15" width="2.77" height="1.19" fill="rgb(236,236,236)"/><rect x="815.67" y="368.97" width="2.05" height="1.07" fill="rgb(205,205,205)"/><rect x="749.22" y="397.12" width="1.67" height="1.32" fill="rgb(236,236,236)"/><rect x="749.55" y="370.04" width="1.42" height="1.31" fill="rgb(220,220,220)"/><rect x="725.13" y="361.59" width="2.19" height="1.16" fill="rgb(226,226,226)"/><rect x="753.01" y="400.13" width="1.45" height="0.95" fill="rgb(222,222,222)"/><rect x="726.82" y="337.95" width="1.77" height="1.09" fill="rgb(200,200,200)"/><rect x="804.57" y="317.12" width="2.55" height="1.13" fill="rgb(196,196,196)"/><rect x="761.78" y="365.1" width="1.69" height="1.4" fill="rgb(219,219,219)"/><rect x="770.9" y="372.57" width="1.43" height="1.2" fill="rgb(218,218,218)"/><rect x="785.13" y="415.57" width="1.37" height="1.52" fill="rgb(208,208,208)"/><rect x="758.61" y="383.22" width="2.92" height="1.48" fill="rgb(222,222,222)"/><rect x="811.45" y="290.25" width="1.97" height="1.41" fill="rgb(197,197,197)"/><rect x="804.02" y="431.27" width="1.2" height="1.11" fill="rgb(226,226,226)"/><rect x="817.28" y="410.01" width="2.95" height="1" fill="rgb(224,224,224)"/><rect x="728.8" y="310" width="2.95" height="0.89" fill="rgb(228,228,228)"/><rect x="806.31" y="391.45" width="1.35" height="1.42" fill="rgb(224,224,224)"/><rect x="717.15" y="305.72" width="2.86" height="1.32" fill="rgb(231,231,231)"/><rect x="749.87" y="306.07" width="2.15" height="1.15" fill="rgb(211,211,211)"/><rect x="799.65" y="301.82" width="2.14" height="1.27" fill="rgb(214,214,214)"/><rect x="758.99" y="320.31" width="1.2" height="1.23" fill="rgb(233,233,233)"/><rect x="824.81" y="328.51" width="2.36" height="1.51" fill="rgb(215,215,215)"/><rect x="768.43" y="321.98" width="1.25" height="1.13" fill="rgb(210,210,210)"/><rect x="787.29" y="295.24" width="2.1" height="1.34" fill="rgb(207,207,207)"/><rect x="762.45" y="325.33" width="1.96" height="1.1" fill="rgb(237,237,237)"/><rect x="770.34" y="390.68" width="1.96" height="1.35" fill="rgb(240,240,240)"/><rect x="738.43" y="405.76" width="1.32" height="1.2" fill="rgb(227,227,227)"/><rect x="738.68" y="401.11" width="1.62" height="0.98" fill="rgb(207,207,207)"/><rect x="799.28" y="330.94" width="2.09" height="0.95" fill="rgb(234,234,234)"/><rect x="741.16" y="349.14" width="1.3" height="1.28" fill="rgb(237,237,237)"/><rect x="816.75" y="295.1" width="2.95" height="0.91" fill="rgb(196,196,196)"/><rect x="722.61" y="295.96" width="2.01" height="1.37" fill="rgb(220,220,220)"/><rect x="751" y="303.87" width="2.88" height="1.06" fill="rgb(200,200,200)"/><rect x="737.07" y="426.45" width="1.26" height="1.33" fill="rgb(224,224,224)"/><rect x="757.97" y="342.71" width="2" height="0.89" fill="rgb(216,216,216)"/><rect x="725.47" y="299.03" width="2.92" height="0.9" fill="rgb(221,221,221)"/><rect x="821.33" y="317.9" width="2.58" height="1.05" fill="rgb(217,217,217)"/><rect x="803.99" y="300.08" width="2.05" height="1.1" fill="rgb(240,240,240)"/><rect x="816.49" y="315.76" width="2.53" height="1.18" fill="rgb(218,218,218)"/><rect x="785.35" y="323.95" width="2.58" height="0.83" fill="rgb(235,235,235)"/><rect x="720.77" y="296.32" width="1.66" height="1.4" fill="rgb(198,198,198)"/><rect x="814.22" y="337.52" width="1.8" height="1.56" fill="rgb(212,212,212)"/><rect x="721.72" y="398.22" width="1.77" height="1.02" fill="rgb(239,239,239)"/><rect x="717.41" y="399.59" width="2.9" height="0.85" fill="rgb(235,235,235)"/><rect x="806.38" y="302.98" width="2.92" height="1.56" fill="rgb(240,240,240)"/><rect x="758.82" y="324.41" width="2.67" height="0.91" fill="rgb(222,222,222)"/><rect x="770.73" y="288.3" width="2.68" height="1.42" fill="rgb(214,214,214)"/><rect x="782.7" y="335.84" width="2.03" height="1.43" fill="rgb(215,215,215)"/><rect x="781.46" y="363.27" width="2.56" height="1" fill="rgb(220,220,220)"/><rect x="724" y="292.05" width="2.18" height="0.93" fill="rgb(230,230,230)"/><rect x="763.15" y="302.68" width="1.68" height="0.87" fill="rgb(199,199,199)"/><rect x="727.43" y="361.27" width="2.95" height="0.94" fill="rgb(240,240,240)"/><rect x="731.38" y="355.68" width="1.62" height="1.23" fill="rgb(238,238,238)"/><rect x="800.73" y="400.18" width="1.73" height="1.25" fill="rgb(213,213,213)"/><rect x="757.36" y="396.97" width="1.99" height="0.95" fill="rgb(207,207,207)"/><rect x="742.48" y="328.92" width="1.54" height="0.85" fill="rgb(232,232,232)"/><rect x="744.23" y="323.65" width="1.62" height="1.45" fill="rgb(228,228,228)"/><rect x="787.69" y="434.65" width="1.21" height="1.51" fill="rgb(201,201,201)"/><rect x="742.01" y="353.8" width="1.27" height="1.03" fill="rgb(218,218,218)"/><rect x="729.9" y="315.25" width="1.55" height="0.86" fill="rgb(232,232,232)"/><rect x="772.47" y="313.49" width="1.67" height="1.42" fill="rgb(233,233,233)"/><rect x="819.32" y="302.76" width="2.48" height="1.08" fill="rgb(233,233,233)"/><rect x="721.05" y="337.66" width="1.57" height="1" fill="rgb(197,197,197)"/><rect x="781.86" y="384.09" width="2.67" height="1.46" fill="rgb(208,208,208)"/><rect x="761.25" y="342.4" width="1.76" height="0.96" fill="rgb(234,234,234)"/><rect x="803.05" y="368.66" width="1.93" height="1.44" fill="rgb(199,199,199)"/><rect x="788.85" y="310.03" width="1.36" height="0.93" fill="rgb(229,229,229)"/><rect x="792.24" y="348.06" width="2.4" height="1.13" fill="rgb(213,213,213)"/><rect x="722.56" y="398.06" width="1.95" height="0.81" fill="rgb(217,217,217)"/><rect x="799.95" y="406.53" width="1.55" height="1.38" fill="rgb(236,236,236)"/><rect x="739.04" y="287.88" width="1.96" height="1.46" fill="rgb(205,205,205)"/><rect x="760.95" y="418.54" width="2.59" height="0.9" fill="rgb(224,224,224)"/><rect x="722.59" y="308.23" width="1.36" height="1.3" fill="rgb(220,220,220)"/><rect x="757.13" y="362.16" width="1.83" height="0.93" fill="rgb(204,204,204)"/><rect x="735.59" y="297" width="2.08" height="1.44" fill="rgb(219,219,219)"/><rect x="821.62" y="316.4" width="2.71" height="0.83" fill="rgb(203,203,203)"/><rect x="815.76" y="333.86" width="2.87" height="1.11" fill="rgb(233,233,233)"/><rect x="814.84" y="379.43" width="2.35" height="1.49" fill="rgb(205,205,205)"/><rect x="784.2" y="378.59" width="2.69" height="0.95" fill="rgb(207,207,207)"/><rect x="740.6" y="346.56" width="1.48" height="1.09" fill="rgb(228,228,228)"/><rect x="733.17" y="431.63" width="1.27" height="1.25" fill="rgb(207,207,207)"/><rect x="798.96" y="292.68" width="1.41" height="1.28" fill="rgb(215,215,215)"/><rect x="776.52" y="380.43" width="2.37" height="1.05" fill="rgb(214,214,214)"/><rect x="743.97" y="344.99" width="2" height="1.15" fill="rgb(218,218,218)"/><rect x="719.53" y="379.21" width="2.04" height="1.16" fill="rgb(226,226,226)"/><rect x="783.93" y="409.03" width="2.66" height="1.12" fill="rgb(206,206,206)"/><rect x="724.26" y="340.43" width="1.37" height="1.15" fill="rgb(218,218,218)"/><rect x="772.2" y="293.07" width="1.43" height="1.54" fill="rgb(235,235,235)"/><rect x="750.95" y="394.34" width="1.3" height="1.2" fill="rgb(200,200,200)"/><rect x="757.88" y="428.68" width="1.25" height="0.85" fill="rgb(203,203,203)"/><rect x="783.45" y="390.19" width="1.55" height="1.59" fill="rgb(202,202,202)"/><rect x="770.22" y="429.54" width="2.44" height="1.38" fill="rgb(205,205,205)"/><rect x="740.93" y="411.12" width="2.56" height="0.93" fill="rgb(234,234,234)"/><rect x="814.01" y="327.97" width="1.46" height="1.2" fill="rgb(224,224,224)"/><rect x="816.53" y="318.04" width="2.31" height="0.99" fill="rgb(211,211,211)"/><rect x="757.28" y="316.64" width="1.49" height="1.55" fill="rgb(220,220,220)"/><rect x="790.54" y="420.42" width="2.63" height="1.01" fill="rgb(205,205,205)"/><rect x="800.13" y="294.24" width="2.94" height="1.16" fill="rgb(218,218,218)"/><rect x="773.42" y="389.62" width="1.65" height="1.23" fill="rgb(201,201,201)"/><rect x="809.68" y="396.95" width="1.68" height="1.59" fill="rgb(218,218,218)"/><rect x="779.47" y="340.68" width="2" height="0.94" fill="rgb(200,200,200)"/><rect x="797.46" y="294.2" width="1.66" height="1.31" fill="rgb(228,228,228)"/><rect x="823.47" y="374.29" width="2.81" height="1.39" fill="rgb(237,237,237)"/><rect x="797.84" y="320.02" width="2.31" height="1.15" fill="rgb(213,213,213)"/><rect x="772.47" y="420.44" width="2.08" height="1.29" fill="rgb(203,203,203)"/><rect x="721.93" y="295.1" width="1.84" height="0.89" fill="rgb(231,231,231)"/><rect x="755.64" y="320.41" width="1.74" height="0.91" fill="rgb(232,232,232)"/><rect x="756.63" y="410.44" width="1.44" height="1.55" fill="rgb(205,205,205)"/><rect x="743.36" y="309.25" width="1.31" height="0.92" fill="rgb(201,201,201)"/><rect x="789" y="327.19" width="2.94" height="0.84" fill="rgb(211,211,211)"/><rect x="805.82" y="420.01" width="2.36" height="1.16" fill="rgb(233,233,233)"/><rect x="818.4" y="396.29" width="1.5" height="0.8" fill="rgb(210,210,210)"/><rect x="723.66" y="290.76" width="1.63" height="0.85" fill="rgb(206,206,206)"/><rect x="801.27" y="288.84" width="2.38" height="0.96" fill="rgb(230,230,230)"/><rect x="761.71" y="364.22" width="2.11" height="1.31" fill="rgb(236,236,236)"/><rect x="805.01" y="313.02" width="1.31" height="1.3" fill="rgb(214,214,214)"/><rect x="824.56" y="394.92" width="2.49" height="0.81" fill="rgb(225,225,225)"/><rect x="808.37" y="398.03" width="1.34" height="1.32" fill="rgb(224,224,224)"/><rect x="735.98" y="435.49" width="1.62" height="0.83" fill="rgb(211,211,211)"/><rect x="753.3" y="398.7" width="2.9" height="1.01" fill="rgb(239,239,239)"/><rect x="722.68" y="381.74" width="1.98" height="1.43" fill="rgb(238,238,238)"/><rect x="773.62" y="326.53" width="2.87" height="1.52" fill="rgb(236,236,236)"/><rect x="726.24" y="362.61" width="1.67" height="0.99" fill="rgb(205,205,205)"/><rect x="797.49" y="427.76" width="1.55" height="1.11" fill="rgb(215,215,215)"/><rect x="782.05" y="343.54" width="2.86" height="1.59" fill="rgb(235,235,235)"/><rect x="808.05" y="366.92" width="2.71" height="1.36" fill="rgb(225,225,225)"/><rect x="809.78" y="352.14" width="2.23" height="1.05" fill="rgb(209,209,209)"/><rect x="739.93" y="379.77" width="2.22" height="0.94" fill="rgb(199,199,199)"/><rect x="720.56" y="303.67" width="2.87" height="1.08" fill="rgb(234,234,234)"/><rect x="732.35" y="291.28" width="1.45" height="1.31" fill="rgb(197,197,197)"/><rect x="721.61" y="297.11" width="1.32" height="1.27" fill="rgb(197,197,197)"/><rect x="756.32" y="408.82" width="2.8" height="0.85" fill="rgb(229,229,229)"/><rect x="810.9" y="423.25" width="1.39" height="0.96" fill="rgb(219,219,219)"/><rect x="729.12" y="292.13" width="1.36" height="1.4" fill="rgb(235,235,235)"/><rect x="785.41" y="358.09" width="1.38" height="1.41" fill="rgb(203,203,203)"/><rect x="739.18" y="334.55" width="1.67" height="1.08" fill="rgb(222,222,222)"/><rect x="817.64" y="294.21" width="2.84" height="1.42" fill="rgb(218,218,218)"/><rect x="782.14" y="357.94" width="2.31" height="0.82" fill="rgb(213,213,213)"/><rect x="761.68" y="352.03" width="1.82" height="1.36" fill="rgb(201,201,201)"/><rect x="775.2" y="319.27" width="2.23" height="1.03" fill="rgb(200,200,200)"/><rect x="764.18" y="365.01" width="2.57" height="1.58" fill="rgb(213,213,213)"/><rect x="717.47" y="360.13" width="2.45" height="1.46" fill="rgb(226,226,226)"/><rect x="821.65" y="375.29" width="1.67" height="1.56" fill="rgb(227,227,227)"/><rect x="747.7" y="318.99" width="1.62" height="0.93" fill="rgb(239,239,239)"/><rect x="818.57" y="401.25" width="2.62" height="1.36" fill="rgb(226,226,226)"/><rect x="802.15" y="380.56" width="1.37" height="1.54" fill="rgb(217,217,217)"/><rect x="813.5" y="398.04" width="2.8" height="0.82" fill="rgb(222,222,222)"/><rect x="739.3" y="326.22" width="2.1" height="1.1" fill="rgb(229,229,229)"/><rect x="812.65" y="321.8" width="1.43" height="1.28" fill="rgb(224,224,224)"/><rect x="791.58" y="377.2" width="1.83" height="1.06" fill="rgb(197,197,197)"/><rect x="733.81" y="412.62" width="2.2" height="1.06" fill="rgb(237,237,237)"/><rect x="767.11" y="389.67" width="2.24" height="0.9" fill="rgb(211,211,211)"/><rect x="766.99" y="418.88" width="2.11" height="1.01" fill="rgb(210,210,210)"/><rect x="798.66" y="410.15" width="1.48" height="0.92" fill="rgb(234,234,234)"/><rect x="743.79" y="335.66" width="1.83" height="0.99" fill="rgb(228,228,228)"/><rect x="820.42" y="325.54" width="1.5" height="1.33" fill="rgb(201,201,201)"/><rect x="738.15" y="309.49" width="2.63" height="1.39" fill="rgb(204,204,204)"/><rect x="764.06" y="316.23" width="2.84" height="1.02" fill="rgb(235,235,235)"/><rect x="812.78" y="356.12" width="1.92" height="1.43" fill="rgb(195,195,195)"/><rect x="792.03" y="361.57" width="1.73" height="0.82" fill="rgb(235,235,235)"/><rect x="744.83" y="397" width="2.53" height="1.53" fill="rgb(195,195,195)"/><rect x="763.53" y="372.52" width="1.96" height="0.98" fill="rgb(236,236,236)"/><rect x="795.14" y="418.13" width="2.46" height="1.48" fill="rgb(236,236,236)"/><rect x="790.53" y="382.59" width="1.98" height="1.01" fill="rgb(224,224,224)"/><rect x="792.81" y="420.32" width="2.61" height="1.37" fill="rgb(210,210,210)"/><rect x="785.12" y="324.26" width="2.07" height="0.82" fill="rgb(222,222,222)"/><rect x="809.89" y="364.22" width="2.87" height="0.95" fill="rgb(237,237,237)"/><rect x="787.82" y="402.95" width="2.7" height="1.53" fill="rgb(219,219,219)"/><rect x="728.51" y="324.43" width="1.49" height="1.43" fill="rgb(208,208,208)"/><rect x="818.77" y="364.36" width="2.72" height="1.17" fill="rgb(201,201,201)"/><rect x="739.18" y="357.88" width="2.35" height="1.46" fill="rgb(196,196,196)"/><rect x="773.45" y="348.14" width="1.58" height="1.35" fill="rgb(224,224,224)"/><rect x="759.47" y="400.64" width="2.51" height="1.29" fill="rgb(202,202,202)"/><rect x="785.98" y="324.62" width="1.92" height="0.81" fill="rgb(219,219,219)"/><rect x="762.29" y="349.66" width="2.41" height="1.26" fill="rgb(239,239,239)"/><rect x="728.82" y="332.22" width="2.89" height="1.22" fill="rgb(220,220,220)"/><rect x="740.69" y="406.42" width="2.03" height="0.93" fill="rgb(220,220,220)"/><rect x="817.56" y="297.27" width="1.55" height="1.31" fill="rgb(235,235,235)"/><rect x="794.98" y="408.38" width="1.84" height="1.31" fill="rgb(204,204,204)"/><rect x="805.59" y="408.61" width="2.99" height="1.41" fill="rgb(224,224,224)"/><rect x="787.29" y="403.2" width="1.84" height="1.48" fill="rgb(225,225,225)"/><rect x="745.94" y="343.05" width="2.97" height="1.34" fill="rgb(211,211,211)"/><rect x="769.11" y="407.01" width="1.84" height="1.32" fill="rgb(212,212,212)"/><rect x="751.66" y="359.25" width="2.35" height="1.33" fill="rgb(234,234,234)"/><rect x="756.22" y="425.38" width="1.3" height="1.46" fill="rgb(219,219,219)"/><rect x="815.01" y="403.82" width="2.16" height="1.08" fill="rgb(203,203,203)"/><rect x="780.02" y="384.94" width="2.91" height="1.32" fill="rgb(208,208,208)"/><rect x="744.05" y="302.13" width="2.74" height="0.95" fill="rgb(204,204,204)"/><rect x="765.9" y="403.95" width="2.83" height="1.43" fill="rgb(208,208,208)"/><rect x="735.17" y="419.78" width="2.96" height="0.87" fill="rgb(233,233,233)"/><rect x="814.56" y="368.73" width="2.71" height="0.96" fill="rgb(235,235,235)"/><rect x="791.96" y="366.09" width="2.41" height="0.89" fill="rgb(223,223,223)"/><rect x="729.81" y="349.44" width="2.05" height="1.25" fill="rgb(203,203,203)"/><rect x="769.41" y="421.91" width="2.08" height="1.2" fill="rgb(239,239,239)"/><rect x="775.38" y="415.57" width="1.49" height="1.06" fill="rgb(195,195,195)"/><rect x="792.29" y="361.14" width="2.71" height="1.1" fill="rgb(213,213,213)"/><rect x="762.32" y="430.13" width="1.52" height="1.09" fill="rgb(199,199,199)"/><rect x="786.95" y="290.06" width="2.43" height="1.55" fill="rgb(197,197,197)"/><rect x="752.76" y="433.28" width="2.07" height="1.41" fill="rgb(227,227,227)"/><rect x="732.63" y="318.79" width="2.33" height="1.07" fill="rgb(221,221,221)"/><rect x="810.23" y="341.56" width="2.6" height="1.24" fill="rgb(225,225,225)"/><rect x="815.71" y="329.34" width="1.96" height="1.24" fill="rgb(216,216,216)"/><rect x="806.45" y="330.64" width="1.93" height="1.2" fill="rgb(226,226,226)"/><rect x="746.4" y="362.46" width="2.38" height="1.43" fill="rgb(208,208,208)"/><rect x="752.8" y="334.25" width="1.43" height="1.58" fill="rgb(214,214,214)"/><rect x="726.48" y="435.48" width="2.5" height="1.51" fill="rgb(220,220,220)"/><rect x="776.01" y="294.41" width="1.4" height="0.84" fill="rgb(214,214,214)"/><rect x="805.94" y="357.78" width="1.31" height="1.2" fill="rgb(237,237,237)"/><rect x="775.82" y="343.03" width="2.33" height="1.36" fill="rgb(204,204,204)"/><rect x="781.52" y="388.47" width="1.27" height="1.31" fill="rgb(208,208,208)"/><rect x="784.66" y="312.91" width="1.53" height="0.83" fill="rgb(237,237,237)"/><rect x="800.8" y="423.2" width="1.22" height="1.5" fill="rgb(236,236,236)"/><rect x="732.01" y="333.09" width="1.66" height="1.04" fill="rgb(240,240,240)"/><rect x="762.64" y="334.45" width="2.22" height="1.26" fill="rgb(222,222,222)"/><rect x="815.88" y="361.17" width="1.27" height="0.9" fill="rgb(228,228,228)"/><rect x="804.68" y="372.72" width="2" height="0.81" fill="rgb(220,220,220)"/><rect x="758.89" y="375.2" width="2.97" height="1.18" fill="rgb(237,237,237)"/><rect x="761.62" y="302.2" width="2.05" height="1.52" fill="rgb(236,236,236)"/><rect x="784.83" y="350.62" width="2.43" height="0.9" fill="rgb(195,195,195)"/><rect x="821.56" y="300.13" width="1.43" height="0.81" fill="rgb(202,202,202)"/><rect x="794.83" y="323.1" width="2.86" height="1.09" fill="rgb(206,206,206)"/><rect x="797.85" y="390.53" width="2.51" height="0.87" fill="rgb(204,204,204)"/><rect x="785.02" y="392.68" width="2.41" height="1.51" fill="rgb(224,224,224)"/><rect x="815.84" y="294.85" width="1.22" height="0.81" fill="rgb(197,197,197)"/><rect x="787.41" y="408.78" width="1.9" height="1.05" fill="rgb(200,200,200)"/><rect x="781.93" y="429.7" width="2.3" height="1.05" fill="rgb(226,226,226)"/><rect x="819.66" y="395.44" width="2.42" height="0.92" fill="rgb(225,225,225)"/><rect x="803.27" y="341.13" width="1.5" height="1.44" fill="rgb(236,236,236)"/><rect x="768.61" y="402.94" width="2.9" height="1.43" fill="rgb(223,223,223)"/><rect x="778.33" y="330.57" width="2.32" height="1.32" fill="rgb(198,198,198)"/><rect x="803.77" y="376.39" width="2.51" height="0.81" fill="rgb(233,233,233)"/><rect x="733.35" y="411.06" width="1.97" height="1.51" fill="rgb(232,232,232)"/><rect x="757.76" y="389.04" width="2.59" height="0.99" fill="rgb(233,233,233)"/><rect x="765.83" y="389.59" width="1.67" height="1.14" fill="rgb(215,215,215)"/><rect x="780.47" y="408.58" width="1.72" height="0.91" fill="rgb(197,197,197)"/><rect x="813.36" y="434.93" width="1.69" height="1.48" fill="rgb(204,204,204)"/><rect x="804.32" y="389.01" width="1.82" height="0.87" fill="rgb(226,226,226)"/><rect x="776.91" y="405.81" width="2.62" height="1.38" fill="rgb(207,207,207)"/><rect x="823.28" y="333.11" width="2.42" height="1.17" fill="rgb(198,198,198)"/><rect x="739.35" y="324.96" width="2.62" height="1.17" fill="rgb(195,195,195)"/><rect x="726.49" y="407.18" width="1.62" height="1.26" fill="rgb(199,199,199)"/><rect x="814.05" y="418.88" width="1.78" height="1.2" fill="rgb(228,228,228)"/><rect x="738.84" y="318.69" width="1.53" height="1.36" fill="rgb(200,200,200)"/><rect x="756.26" y="371.1" width="2.6" height="1.49" fill="rgb(220,220,220)"/><rect x="743.65" y="424.47" width="1.87" height="0.88" fill="rgb(226,226,226)"/><rect x="785.46" y="404.31" width="1.77" height="0.82" fill="rgb(204,204,204)"/><rect x="747.36" y="377.46" width="1.26" height="1.59" fill="rgb(201,201,201)"/><rect x="810.71" y="359.46" width="1.58" height="1.54" fill="rgb(231,231,231)"/><rect x="747.28" y="301.47" width="2.58" height="1.46" fill="rgb(223,223,223)"/><rect x="821.25" y="324.85" width="1.81" height="1.6" fill="rgb(197,197,197)"/><rect x="757.92" y="291.1" width="2.2" height="1.5" fill="rgb(197,197,197)"/><rect x="766.59" y="428.13" width="2.75" height="1.31" fill="rgb(199,199,199)"/><rect x="816.78" y="392.25" width="1.66" height="1.25" fill="rgb(200,200,200)"/><rect x="786.32" y="429.51" width="2.11" height="0.95" fill="rgb(237,237,237)"/><rect x="808.94" y="342.27" width="2.99" height="0.98" fill="rgb(210,210,210)"/><rect x="721.18" y="325.12" width="1.31" height="1.24" fill="rgb(217,217,217)"/><rect x="720.01" y="423.95" width="2.62" height="1.37" fill="rgb(211,211,211)"/><rect x="786.97" y="433.83" width="1.38" height="1.05" fill="rgb(198,198,198)"/><rect x="717.63" y="316.64" width="2.26" height="1.15" fill="rgb(214,214,214)"/><rect x="787.6" y="357.14" width="1.66" height="0.9" fill="rgb(218,218,218)"/><rect x="769.08" y="312.12" width="2.65" height="1.53" fill="rgb(210,210,210)"/><rect x="813.53" y="356.72" width="2.64" height="0.93" fill="rgb(207,207,207)"/><rect x="807.11" y="298.59" width="2.76" height="1.51" fill="rgb(234,234,234)"/><rect x="732.12" y="353.64" width="2.87" height="1.11" fill="rgb(201,201,201)"/><rect x="719.35" y="298.2" width="1.78" height="0.99" fill="rgb(216,216,216)"/><rect x="729.51" y="341.54" width="1.6" height="0.85" fill="rgb(216,216,216)"/><rect x="794.22" y="369.45" width="1.99" height="0.92" fill="rgb(204,204,204)"/><rect x="762.26" y="323.77" width="1.69" height="1.47" fill="rgb(196,196,196)"/><rect x="753.19" y="312" width="1.4" height="1.16" fill="rgb(226,226,226)"/><rect x="769.2" y="309.85" width="1.3" height="1.52" fill="rgb(227,227,227)"/><rect x="789.31" y="318.46" width="2.7" height="0.9" fill="rgb(225,225,225)"/><rect x="798.67" y="431.63" width="2.98" height="1.6" fill="rgb(222,222,222)"/><rect x="817.09" y="301.54" width="1.95" height="0.93" fill="rgb(213,213,213)"/><rect x="807.06" y="432.8" width="2.96" height="0.81" fill="rgb(204,204,204)"/><rect x="804.32" y="337.79" width="2" height="1.43" fill="rgb(203,203,203)"/><rect x="819.1" y="329.67" width="1.98" height="1.53" fill="rgb(218,218,218)"/><rect x="740.62" y="372.13" width="2.72" height="1.22" fill="rgb(203,203,203)"/><rect x="741.93" y="313.17" width="1.34" height="0.87" fill="rgb(233,233,233)"/><rect x="782.85" y="360.83" width="1.52" height="0.91" fill="rgb(212,212,212)"/><rect x="789.48" y="380.64" width="2.25" height="0.96" fill="rgb(207,207,207)"/><rect x="724.11" y="396.17" width="2.71" height="1.53" fill="rgb(221,221,221)"/><rect x="773.1" y="338.8" width="2.72" height="1.49" fill="rgb(213,213,213)"/><rect x="770.34" y="289.3" width="1.44" height="1.33" fill="rgb(225,225,225)"/><rect x="743.87" y="370.91" width="1.27" height="1.36" fill="rgb(218,218,218)"/><rect x="779.21" y="414.85" width="2.14" height="1.16" fill="rgb(217,217,217)"/><rect x="772.79" y="305" width="1.64" height="1.46" fill="rgb(240,240,240)"/><rect x="815.74" y="403.09" width="2.24" height="1.52" fill="rgb(219,219,219)"/><rect x="748.54" y="303.05" width="2" height="0.82" fill="rgb(226,226,226)"/><rect x="804.05" y="307.02" width="2.94" height="0.98" fill="rgb(210,210,210)"/><rect x="736.74" y="302.3" width="2.2" height="1.56" fill="rgb(211,211,211)"/><rect x="719.1" y="425.02" width="1.67" height="1.47" fill="rgb(207,207,207)"/><rect x="785.91" y="356.13" width="2.46" height="0.88" fill="rgb(210,210,210)"/><rect x="811.08" y="393.85" width="1.69" height="1.17" fill="rgb(197,197,197)"/><rect x="780.39" y="400.47" width="1.42" height="1.12" fill="rgb(202,202,202)"/><rect x="731.82" y="375.18" width="1.46" height="1.26" fill="rgb(209,209,209)"/>
<path d="M741.5,284 L749,299 L756,312 L762,323 L767,334" stroke="#0e0e0e" stroke-width="9.5" fill="none" filter="url(#fb1)"/>
<path d="M793,284 L788,297 L782,309 L775,322 L769,336" stroke="#151515" stroke-width="9" fill="none" filter="url(#fb1)"/>
<path d="M766,328 L768,345 L771,360 L776,375 L782,392 L789,412 L796,436" stroke="#555" stroke-width="11" fill="none" filter="url(#fb2)" opacity="0.9"/>
<path d="M765,332 L768,348 L771,362 L775,375" stroke="#2a2a2a" stroke-width="9" fill="none" filter="url(#fb2)" opacity="0.85"/>
<rect x="789.4" y="407.64" width="2.08" height="1.42" fill="rgb(141,141,141)"/><rect x="794.25" y="417.33" width="1.55" height="1.97" fill="rgb(127,127,127)"/><rect x="764.64" y="335.4" width="2.57" height="1.84" fill="rgb(102,102,102)"/><rect x="783.26" y="388.7" width="2.72" height="1.85" fill="rgb(101,101,101)"/><rect x="759.15" y="335.57" width="1.87" height="1.42" fill="rgb(105,105,105)"/><rect x="782.2" y="395.8" width="1.66" height="1.19" fill="rgb(106,106,106)"/><rect x="775.26" y="363.73" width="1.71" height="1.97" fill="rgb(88,88,88)"/><rect x="791.71" y="410.76" width="2.45" height="1.81" fill="rgb(118,118,118)"/><rect x="791.43" y="421.97" width="2.43" height="1.92" fill="rgb(142,142,142)"/><rect x="782.22" y="394.84" width="2.31" height="1.92" fill="rgb(140,140,140)"/><rect x="782.67" y="394.61" width="1.85" height="1.04" fill="rgb(115,115,115)"/><rect x="771.77" y="341.76" width="2.47" height="1.12" fill="rgb(104,104,104)"/><rect x="785.33" y="391.81" width="1.63" height="1.59" fill="rgb(94,94,94)"/><rect x="791.35" y="426.92" width="1.69" height="1.13" fill="rgb(116,116,116)"/><rect x="770.97" y="360.53" width="2.6" height="1.74" fill="rgb(91,91,91)"/><rect x="774.22" y="359.87" width="2.41" height="1.57" fill="rgb(118,118,118)"/><rect x="784.99" y="397.64" width="2.84" height="1.3" fill="rgb(118,118,118)"/><rect x="782.87" y="379.7" width="1.55" height="1.33" fill="rgb(99,99,99)"/><rect x="762.53" y="349.64" width="1.52" height="1.35" fill="rgb(110,110,110)"/><rect x="787.87" y="419.63" width="1.99" height="1.33" fill="rgb(90,90,90)"/><rect x="773.88" y="358.07" width="2.66" height="1.16" fill="rgb(67,67,67)"/><rect x="765.53" y="336.95" width="2.16" height="1.06" fill="rgb(104,104,104)"/><rect x="771.18" y="370.34" width="2.28" height="1.99" fill="rgb(73,73,73)"/><rect x="786.21" y="400.48" width="2.13" height="1.67" fill="rgb(79,79,79)"/><rect x="770.06" y="344.59" width="2.73" height="1.52" fill="rgb(95,95,95)"/><rect x="790.22" y="406.83" width="1.9" height="1.63" fill="rgb(120,120,120)"/><rect x="782.12" y="395.74" width="1.51" height="1.77" fill="rgb(73,73,73)"/><rect x="778.64" y="390.93" width="2.1" height="1.99" fill="rgb(123,123,123)"/><rect x="770.52" y="345.56" width="2.41" height="1.38" fill="rgb(139,139,139)"/><rect x="775.65" y="377.04" width="1.93" height="1.35" fill="rgb(118,118,118)"/><rect x="770.74" y="366.71" width="1.98" height="1.79" fill="rgb(142,142,142)"/><rect x="789.08" y="418.35" width="2.07" height="1.3" fill="rgb(123,123,123)"/><rect x="781.18" y="385.83" width="2.37" height="1.09" fill="rgb(108,108,108)"/><rect x="788.93" y="425.7" width="2.95" height="1.61" fill="rgb(101,101,101)"/><rect x="767.93" y="355.24" width="1.54" height="1.26" fill="rgb(61,61,61)"/><rect x="798.33" y="423.17" width="2.88" height="1.77" fill="rgb(98,98,98)"/><rect x="783.8" y="386" width="2.59" height="1.43" fill="rgb(126,126,126)"/><rect x="777.93" y="378.28" width="2.39" height="1.35" fill="rgb(65,65,65)"/><rect x="791.21" y="428.58" width="2.11" height="1.5" fill="rgb(72,72,72)"/><rect x="780.23" y="397.45" width="1.73" height="1.19" fill="rgb(133,133,133)"/><rect x="772.53" y="373.81" width="2.01" height="1.53" fill="rgb(135,135,135)"/><rect x="791.65" y="414.85" width="2.04" height="1.37" fill="rgb(81,81,81)"/><rect x="766.49" y="337.81" width="2.84" height="1.69" fill="rgb(143,143,143)"/><rect x="790.56" y="415.34" width="2.83" height="1.42" fill="rgb(125,125,125)"/><rect x="768.38" y="346.27" width="2.84" height="1.41" fill="rgb(124,124,124)"/><rect x="770.3" y="336.26" width="2.4" height="1.35" fill="rgb(132,132,132)"/><rect x="793.72" y="433.35" width="1.52" height="1" fill="rgb(112,112,112)"/><rect x="784.75" y="403.91" width="1.51" height="1.3" fill="rgb(130,130,130)"/><rect x="785.69" y="417.58" width="1.76" height="1.77" fill="rgb(85,85,85)"/><rect x="778.74" y="388.97" width="2.84" height="1.51" fill="rgb(142,142,142)"/><rect x="770.23" y="344.95" width="1.74" height="1.76" fill="rgb(78,78,78)"/><rect x="771.83" y="341.09" width="1.61" height="1.95" fill="rgb(72,72,72)"/><rect x="775.63" y="381" width="2.48" height="1.68" fill="rgb(67,67,67)"/><rect x="782.04" y="390.2" width="2.57" height="1.35" fill="rgb(78,78,78)"/><rect x="769.47" y="347.62" width="1.59" height="1.19" fill="rgb(134,134,134)"/><rect x="784.13" y="394.9" width="1.58" height="1.89" fill="rgb(62,62,62)"/><rect x="784.63" y="390.6" width="1.86" height="1.22" fill="rgb(139,139,139)"/><rect x="768.54" y="346.58" width="2.78" height="1.31" fill="rgb(135,135,135)"/><rect x="792.32" y="423.48" width="1.88" height="1.89" fill="rgb(137,137,137)"/><rect x="791.51" y="431.87" width="1.86" height="1.39" fill="rgb(68,68,68)"/><rect x="786.12" y="404.72" width="1.53" height="1.87" fill="rgb(122,122,122)"/><rect x="770.03" y="339.1" width="2.04" height="1.19" fill="rgb(81,81,81)"/><rect x="792.62" y="431.04" width="2" height="1.87" fill="rgb(74,74,74)"/><rect x="777.96" y="364.93" width="1.6" height="1.12" fill="rgb(143,143,143)"/><rect x="787.66" y="415.89" width="2.2" height="1.34" fill="rgb(84,84,84)"/><rect x="778.93" y="375.3" width="2.5" height="1.34" fill="rgb(95,95,95)"/><rect x="768.89" y="346.21" width="2.32" height="1.79" fill="rgb(94,94,94)"/><rect x="779.4" y="387.72" width="2.75" height="1.8" fill="rgb(119,119,119)"/><rect x="766.45" y="346.56" width="2.44" height="1.58" fill="rgb(108,108,108)"/><rect x="776.97" y="360.91" width="2.26" height="1.23" fill="rgb(120,120,120)"/><rect x="780.82" y="377.08" width="2.39" height="1.44" fill="rgb(93,93,93)"/><rect x="797.62" y="432.96" width="1.87" height="1.61" fill="rgb(128,128,128)"/><rect x="771.85" y="352.1" width="1.64" height="1.85" fill="rgb(125,125,125)"/><rect x="785.09" y="406.54" width="1.54" height="1.72" fill="rgb(109,109,109)"/><rect x="773.67" y="345.09" width="1.77" height="1.85" fill="rgb(148,148,148)"/><rect x="774.25" y="363.39" width="2.84" height="1.07" fill="rgb(144,144,144)"/><rect x="793.48" y="425.04" width="1.6" height="1.31" fill="rgb(84,84,84)"/><rect x="766.4" y="353.55" width="2.73" height="1.4" fill="rgb(76,76,76)"/><rect x="776.68" y="367.01" width="2.82" height="1.86" fill="rgb(140,140,140)"/><rect x="765.85" y="343.75" width="1.76" height="1.37" fill="rgb(95,95,95)"/><rect x="785.85" y="413.14" width="2.49" height="1.7" fill="rgb(63,63,63)"/><rect x="765.81" y="355.84" width="2.03" height="1.63" fill="rgb(111,111,111)"/><rect x="774.9" y="348.89" width="2.57" height="1.04" fill="rgb(88,88,88)"/><rect x="770.73" y="334.16" width="2.15" height="1.76" fill="rgb(80,80,80)"/><rect x="768.98" y="346.24" width="2.46" height="1.18" fill="rgb(140,140,140)"/><rect x="785.63" y="417.3" width="2.25" height="1.52" fill="rgb(132,132,132)"/><rect x="790.25" y="426.27" width="1.67" height="1.76" fill="rgb(60,60,60)"/><rect x="780.28" y="398.16" width="2.81" height="1.59" fill="rgb(65,65,65)"/><rect x="789.44" y="402.38" width="2.69" height="1.21" fill="rgb(64,64,64)"/><rect x="791.05" y="425.11" width="2.13" height="1.74" fill="rgb(71,71,71)"/><rect x="792.85" y="433.8" width="1.63" height="1.95" fill="rgb(127,127,127)"/><rect x="775.38" y="374.09" width="2.54" height="1.74" fill="rgb(103,103,103)"/><rect x="786.84" y="416.32" width="2.51" height="1.21" fill="rgb(66,66,66)"/><rect x="781.89" y="400" width="2.23" height="1.19" fill="rgb(76,76,76)"/><rect x="794.73" y="429.04" width="2.32" height="1.97" fill="rgb(82,82,82)"/><rect x="779.76" y="396.3" width="1.89" height="1.96" fill="rgb(129,129,129)"/><rect x="768.82" y="347.48" width="1.97" height="1.14" fill="rgb(141,141,141)"/><rect x="786.39" y="403.53" width="2.22" height="1.71" fill="rgb(145,145,145)"/><rect x="765.03" y="330.61" width="2.03" height="1.3" fill="rgb(142,142,142)"/><rect x="789.35" y="422.01" width="2.38" height="1.24" fill="rgb(78,78,78)"/><rect x="785.25" y="395.46" width="2.52" height="1.15" fill="rgb(81,81,81)"/><rect x="795.97" y="431.85" width="2.75" height="1.11" fill="rgb(111,111,111)"/><rect x="771.61" y="360.09" width="2.84" height="1.3" fill="rgb(67,67,67)"/><rect x="769.64" y="341.5" width="2.17" height="1.11" fill="rgb(99,99,99)"/><rect x="771.11" y="363.74" width="2.34" height="1.05" fill="rgb(81,81,81)"/><rect x="778.65" y="378.73" width="1.63" height="1.72" fill="rgb(122,122,122)"/><rect x="792.54" y="431.94" width="2.94" height="1.49" fill="rgb(122,122,122)"/><rect x="787.12" y="411.52" width="1.51" height="1.92" fill="rgb(101,101,101)"/><rect x="778.51" y="397.03" width="2.55" height="1.65" fill="rgb(143,143,143)"/><rect x="762.21" y="338.13" width="1.54" height="1.4" fill="rgb(63,63,63)"/><rect x="749" y="304.35" width="2.77" height="1.93" fill="rgb(107,107,107)"/><rect x="789.2" y="304.35" width="1.65" height="1.72" fill="rgb(61,61,61)"/><rect x="754.48" y="309.31" width="2.74" height="1.32" fill="rgb(122,122,122)"/><rect x="778.76" y="309.31" width="1.7" height="1.92" fill="rgb(87,87,87)"/><rect x="764.54" y="325.13" width="2.35" height="1.63" fill="rgb(53,53,53)"/><rect x="772.79" y="325.13" width="3" height="1.4" fill="rgb(144,144,144)"/><rect x="753.42" y="301.52" width="1.74" height="1.3" fill="rgb(133,133,133)"/><rect x="788.22" y="301.52" width="2.44" height="1.14" fill="rgb(114,114,114)"/><rect x="758.17" y="306.82" width="1.63" height="1.04" fill="rgb(91,91,91)"/><rect x="785.39" y="306.82" width="2.22" height="1.22" fill="rgb(96,96,96)"/><rect x="761.63" y="311.17" width="2.68" height="1.43" fill="rgb(146,146,146)"/><rect x="780.49" y="311.17" width="1.61" height="1.06" fill="rgb(76,76,76)"/><rect x="763.5" y="321.32" width="2.5" height="1.83" fill="rgb(41,41,41)"/><rect x="773.23" y="321.32" width="1.75" height="1.3" fill="rgb(132,132,132)"/><rect x="756.09" y="313.29" width="2.2" height="1.54" fill="rgb(65,65,65)"/><rect x="777.39" y="313.29" width="2.19" height="1.97" fill="rgb(106,106,106)"/><rect x="771.02" y="327.26" width="2.43" height="1.81" fill="rgb(117,117,117)"/><rect x="764.47" y="327.26" width="2.58" height="1.33" fill="rgb(47,47,47)"/><rect x="759" y="319.75" width="2.22" height="1.65" fill="rgb(87,87,87)"/><rect x="773.56" y="319.75" width="2.8" height="1.53" fill="rgb(78,78,78)"/><rect x="762.74" y="319.01" width="2.17" height="1.09" fill="rgb(134,134,134)"/><rect x="773.49" y="319.01" width="2.37" height="1.55" fill="rgb(124,124,124)"/><rect x="764.73" y="328.3" width="2.09" height="1.11" fill="rgb(96,96,96)"/><rect x="771.68" y="328.3" width="2.95" height="1.2" fill="rgb(63,63,63)"/><rect x="764.27" y="322.5" width="1.64" height="1.53" fill="rgb(123,123,123)"/><rect x="778.88" y="322.5" width="2.56" height="1.23" fill="rgb(72,72,72)"/><rect x="754.39" y="313.74" width="2.27" height="1.59" fill="rgb(134,134,134)"/><rect x="777.02" y="313.74" width="2.78" height="1.68" fill="rgb(50,50,50)"/><rect x="766.36" y="324.01" width="2.57" height="1.76" fill="rgb(104,104,104)"/><rect x="775.05" y="324.01" width="2.44" height="1.96" fill="rgb(54,54,54)"/><rect x="755.3" y="315.45" width="1.76" height="1.96" fill="rgb(109,109,109)"/><rect x="778.38" y="315.45" width="2.21" height="1.09" fill="rgb(112,112,112)"/><rect x="755.36" y="311.2" width="2.06" height="1.02" fill="rgb(46,46,46)"/><rect x="777.58" y="311.2" width="2.93" height="1.46" fill="rgb(116,116,116)"/><rect x="758.13" y="303.62" width="2.43" height="1.87" fill="rgb(51,51,51)"/><rect x="788.89" y="303.62" width="1.67" height="1.73" fill="rgb(112,112,112)"/><rect x="753.46" y="310.64" width="2.65" height="1.68" fill="rgb(142,142,142)"/><rect x="784.24" y="310.64" width="1.88" height="1.24" fill="rgb(145,145,145)"/><rect x="756.91" y="315.4" width="1.57" height="1.6" fill="rgb(102,102,102)"/><rect x="776.84" y="315.4" width="2.03" height="1.33" fill="rgb(52,52,52)"/><rect x="767.48" y="318.09" width="1.88" height="1.19" fill="rgb(71,71,71)"/><rect x="777.15" y="318.09" width="1.53" height="1.99" fill="rgb(97,97,97)"/><rect x="759.49" y="313.2" width="2.7" height="1.19" fill="rgb(49,49,49)"/><rect x="775.17" y="313.2" width="2.9" height="1.87" fill="rgb(110,110,110)"/><rect x="764.1" y="320.09" width="2.31" height="1.69" fill="rgb(72,72,72)"/><rect x="771.19" y="320.09" width="1.9" height="1.44" fill="rgb(143,143,143)"/><rect x="755.84" y="300.74" width="2.81" height="1.8" fill="rgb(101,101,101)"/><rect x="785.46" y="300.74" width="1.61" height="1.62" fill="rgb(44,44,44)"/><rect x="757" y="319.34" width="2.54" height="1.45" fill="rgb(60,60,60)"/><rect x="771.65" y="319.34" width="2.81" height="1.61" fill="rgb(69,69,69)"/><rect x="752.14" y="302.28" width="2.38" height="1.04" fill="rgb(56,56,56)"/><rect x="786.55" y="302.28" width="2.73" height="1.73" fill="rgb(61,61,61)"/><rect x="750.05" y="309.94" width="1.51" height="1.58" fill="rgb(80,80,80)"/><rect x="781.76" y="309.94" width="1.84" height="1.25" fill="rgb(82,82,82)"/><rect x="761.86" y="326.29" width="2.51" height="1.27" fill="rgb(133,133,133)"/><rect x="768.43" y="326.29" width="1.6" height="1.99" fill="rgb(74,74,74)"/><rect x="753.79" y="310.71" width="2.99" height="1.03" fill="rgb(57,57,57)"/><rect x="778.16" y="310.71" width="2.85" height="1.1" fill="rgb(111,111,111)"/><rect x="751.49" y="305.98" width="2.04" height="1.28" fill="rgb(52,52,52)"/><rect x="784.36" y="305.98" width="1.86" height="1.8" fill="rgb(141,141,141)"/>
<ellipse cx="770" cy="291" rx="4" ry="3" fill="#333" filter="url(#fb1)"/>
<ellipse cx="772" cy="298" rx="3" ry="2.5" fill="#555" filter="url(#fb1)"/>
<ellipse cx="813" cy="290" rx="2" ry="2.5" fill="#444" filter="url(#fb1)"/>
</g>
<path d="M717.0,287 H825.2" stroke="#666" stroke-width="1" stroke-dasharray="3,2"/>
<path d="M717.0,301.5 H825.2" stroke="#444" stroke-width="1.2" stroke-dasharray="4,3"/>
<path d="M759.5,307 L767.7,289.7 L774.7,307" stroke="#e8583a" stroke-width="1.3" fill="none" stroke-dasharray="2.5,2"/>
<path d="M788,287 L776,292.5" stroke="#e8583a" stroke-width="1.3"/><path d="M773.5,293.6 L778.8,289.2 L779.2,293.9 Z" fill="#e8583a"/>
<rect x="717.0" y="274.8" width="108.20000000000005" height="161.2" fill="none" stroke="#333" stroke-width="1.1"/>
<g clip-path="url(#cpfr)">
<path d="M875.8,272 L890.7,305.7 L906,318 L921.9,305.7 L937.5,272 Z" fill="#8686f8" filter="url(#fb2)" opacity="0.85"/>
<path d="M916,266 L876,440" stroke="#6b6bf6" stroke-width="12.5" fill="none" filter="url(#fb1)"/>
<path d="M897,266 L937,440" stroke="#6b6bf6" stroke-width="12.5" fill="none" filter="url(#fb1)"/>
<path d="M906,345 L906,380" stroke="#c8c8ff" stroke-width="3" fill="none" filter="url(#fb2)" opacity="0.0"/>
<path d="M885.3,272 C889,290 893,305 898.5,312.5 C902,317 904.5,318.3 906.4,318.3 C908.5,318.3 911,317 914.5,312.5 C920,305 924,290 927.8,272" fill="none" stroke="#3030ff" stroke-width="4" filter="url(#fb1)" opacity="0.7"/>
<path d="M885.3,272 C889,290 893,305 898.5,312.5 C902,317 904.5,318.3 906.4,318.3 C908.5,318.3 911,317 914.5,312.5 C920,305 924,290 927.8,272" fill="none" stroke="#0a0af5" stroke-width="1.8"/>
<ellipse cx="906.4" cy="317.5" rx="5.5" ry="2.8" fill="#1010d0" filter="url(#fb1)"/>
<ellipse cx="906.5" cy="436" rx="10" ry="12" fill="#8080f8" filter="url(#fb3)" opacity="0.8"/>
<ellipse cx="906.5" cy="436" rx="6" ry="5" fill="#000080" filter="url(#fb1)"/>
</g>
<path d="M852.2,300.2 H959.5" stroke="#444" stroke-width="1.2" stroke-dasharray="4,3"/>
<path d="M895.8,297.5 L906.6,282 L917.5,297.5" stroke="#e0584a" stroke-width="2.6" fill="none" opacity="0.9"/>
<path d="M895.8,297.5 L906.6,282 L917.5,297.5" stroke="#a8a0f0" stroke-width="0.9" fill="none"/>
<text x="932.8" y="288.5" font-family='"Liberation Sans", Arial, sans-serif' font-size="10" text-anchor="start" fill="#e8603c" >TSSs</text>
<path d="M931,285 L922,291" stroke="#e8603c" stroke-width="1.3"/><path d="M919.5,293 L922.8,287.5 L924.9,291.6 Z" fill="#e8603c"/>
<rect x="852.2" y="273.4" width="107.29999999999995" height="162.10000000000002" fill="none" stroke="#333" stroke-width="1.1"/>
<path d="M717.0,301.6 h-4 M717.0,355.4 h-4 M717.0,409.1 h-4 M717.0,328.5 h-2.5 M717.0,382.2 h-2.5 M852.2,300.2 h-4 M852.2,354 h-4 M852.2,408.1 h-4 M852.2,327.1 h-2.5 M852.2,381 h-2.5 " stroke="#333" stroke-width="1"/>
<text x="713" y="305.6" font-family='"Liberation Sans", Arial, sans-serif' font-size="11" text-anchor="end" fill="#222" >0</text>
<text x="713" y="359.4" font-family='"Liberation Sans", Arial, sans-serif' font-size="11" text-anchor="end" fill="#222" >-0.2</text>
<text x="713" y="413.1" font-family='"Liberation Sans", Arial, sans-serif' font-size="11" text-anchor="end" fill="#222" >-0.4</text>
<text x="848.2" y="304.2" font-family='"Liberation Sans", Arial, sans-serif' font-size="11" text-anchor="end" fill="#222" >0</text>
<text x="848.2" y="358" font-family='"Liberation Sans", Arial, sans-serif' font-size="11" text-anchor="end" fill="#222" >-0.2</text>
<text x="848.2" y="412.1" font-family='"Liberation Sans", Arial, sans-serif' font-size="11" text-anchor="end" fill="#222" >-0.4</text>
<text x="771" y="452" font-family='"Liberation Sans", Arial, sans-serif' font-size="10.5" text-anchor="middle" fill="#222" >M</text>
<path d="M767.5,441.5 h7" stroke="#222" stroke-width="0.9"/>
<text x="906.5" y="451.5" font-family='"Liberation Sans", Arial, sans-serif' font-size="10.5" text-anchor="middle" fill="#222" >M</text>
<path d="M903,441.5 h7" stroke="#222" stroke-width="0.9"/>
<text x="0" y="0" font-family='"Liberation Sans", Arial, sans-serif' font-size="18.5" text-anchor="middle" fill="#000" transform="translate(696.5,364) rotate(-90)">E(eV)</text>
<text x="704.5" y="266.5" font-family='"Liberation Serif", "Times New Roman", serif' font-size="18" text-anchor="start" fill="#000" >(f)</text>
<text x="737.3" y="264" font-family='"Liberation Sans", Arial, sans-serif' font-size="10.5" text-anchor="start" fill="#222" >L</text>
<rect x="745.5" y="256.5" width="46" height="7" fill="url(#gbw)" stroke="#444" stroke-width="0.6"/>
<text x="795.7" y="264" font-family='"Liberation Sans", Arial, sans-serif' font-size="10.5" text-anchor="start" fill="#222" >H</text>
<text x="873.2" y="264" font-family='"Liberation Sans", Arial, sans-serif' font-size="10.5" text-anchor="start" fill="#222" >L</text>
<rect x="883.3" y="256.5" width="45.3" height="7" fill="url(#gbb)" stroke="#444" stroke-width="0.6"/>
<text x="932.8" y="264" font-family='"Liberation Sans", Arial, sans-serif' font-size="10.5" text-anchor="start" fill="#222" >H</text>
</svg>
</body></html>
